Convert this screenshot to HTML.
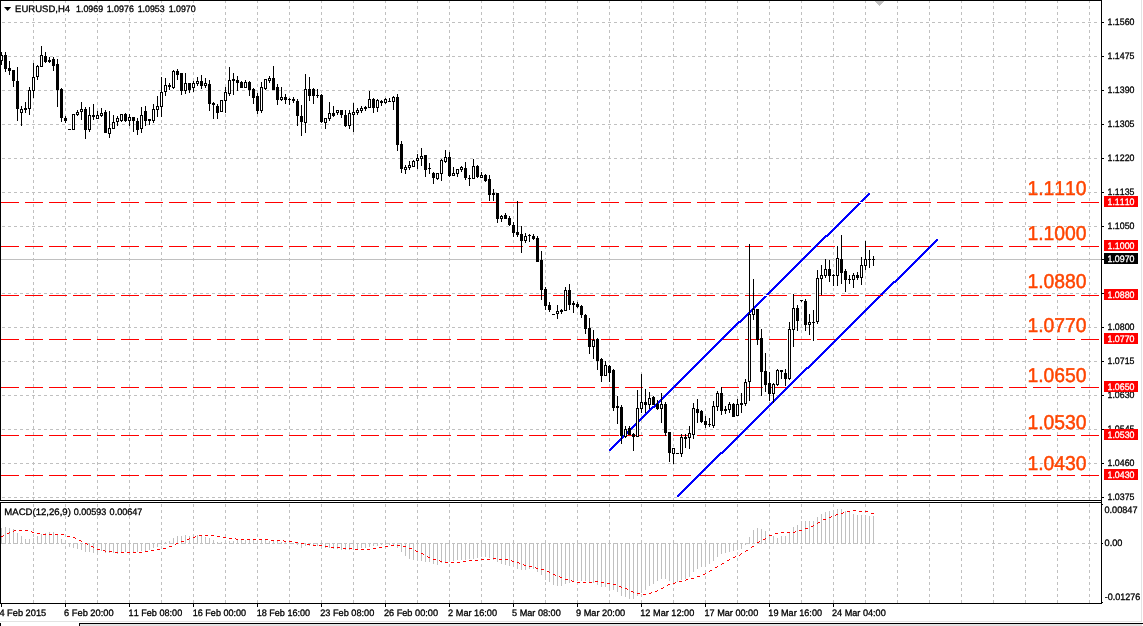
<!DOCTYPE html>
<html lang="en">
<head>
<meta charset="utf-8">
<title>EURUSD,H4</title>
<style>
html,body{margin:0;padding:0;background:#fff;}
body{width:1143px;height:626px;overflow:hidden;}
svg{display:block;}
text{font-family:'Liberation Sans', sans-serif;font-kerning:none;white-space:pre;text-rendering:geometricPrecision;font-size:9.3px;}
.k{fill:#000;stroke:#000;stroke-width:0.3px;}
.w{fill:#fff;stroke:#fff;stroke-width:0.3px;}
.o{fill:#ff4500;stroke:#ff4500;stroke-width:0.45px;font-size:20px;}
</style>
</head>
<body>
<svg width="1143" height="626" viewBox="0 0 1143 626">
<rect width="1143" height="626" fill="#fff"/>
<g shape-rendering="crispEdges">
<path fill="#c0c0c0" d="M2 22h3v1h-3zM2 56h3v1h-3zM2 90h3v1h-3zM2 124h3v1h-3zM2 158h3v1h-3zM2 192h3v1h-3zM2 226h3v1h-3zM2 259h3v1h-3zM2 293h3v1h-3zM2 327h3v1h-3zM2 361h3v1h-3zM2 395h3v1h-3zM2 429h3v1h-3zM2 463h3v1h-3zM2 497h3v1h-3zM2 543h3v1h-3zM8 22h3v1h-3zM8 56h3v1h-3zM8 90h3v1h-3zM8 124h3v1h-3zM8 158h3v1h-3zM8 192h3v1h-3zM8 226h3v1h-3zM8 259h3v1h-3zM8 293h3v1h-3zM8 327h3v1h-3zM8 361h3v1h-3zM8 395h3v1h-3zM8 429h3v1h-3zM8 463h3v1h-3zM8 497h3v1h-3zM8 543h3v1h-3zM14 22h3v1h-3zM14 56h3v1h-3zM14 90h3v1h-3zM14 124h3v1h-3zM14 158h3v1h-3zM14 192h3v1h-3zM14 226h3v1h-3zM14 259h3v1h-3zM14 293h3v1h-3zM14 327h3v1h-3zM14 361h3v1h-3zM14 395h3v1h-3zM14 429h3v1h-3zM14 463h3v1h-3zM14 497h3v1h-3zM14 543h3v1h-3zM20 22h3v1h-3zM20 56h3v1h-3zM20 90h3v1h-3zM20 124h3v1h-3zM20 158h3v1h-3zM20 192h3v1h-3zM20 226h3v1h-3zM20 259h3v1h-3zM20 293h3v1h-3zM20 327h3v1h-3zM20 361h3v1h-3zM20 395h3v1h-3zM20 429h3v1h-3zM20 463h3v1h-3zM20 497h3v1h-3zM20 543h3v1h-3zM26 22h3v1h-3zM26 56h3v1h-3zM26 90h3v1h-3zM26 124h3v1h-3zM26 158h3v1h-3zM26 192h3v1h-3zM26 226h3v1h-3zM26 259h3v1h-3zM26 293h3v1h-3zM26 327h3v1h-3zM26 361h3v1h-3zM26 395h3v1h-3zM26 429h3v1h-3zM26 463h3v1h-3zM26 497h3v1h-3zM26 543h3v1h-3zM32 22h3v1h-3zM32 56h3v1h-3zM32 90h3v1h-3zM32 124h3v1h-3zM32 158h3v1h-3zM32 192h3v1h-3zM32 226h3v1h-3zM32 259h3v1h-3zM32 293h3v1h-3zM32 327h3v1h-3zM32 361h3v1h-3zM32 395h3v1h-3zM32 429h3v1h-3zM32 463h3v1h-3zM32 497h3v1h-3zM32 543h3v1h-3zM33 1h1v2h-1zM33 6h1v3h-1zM33 12h1v3h-1zM33 18h1v3h-1zM33 24h1v3h-1zM33 30h1v3h-1zM33 36h1v3h-1zM33 42h1v3h-1zM33 48h1v3h-1zM33 54h1v3h-1zM33 60h1v3h-1zM33 66h1v3h-1zM33 72h1v3h-1zM33 78h1v3h-1zM33 84h1v3h-1zM33 90h1v3h-1zM33 96h1v3h-1zM33 102h1v3h-1zM33 108h1v3h-1zM33 114h1v3h-1zM33 120h1v3h-1zM33 126h1v3h-1zM33 132h1v3h-1zM33 138h1v3h-1zM33 144h1v3h-1zM33 150h1v3h-1zM33 156h1v3h-1zM33 162h1v3h-1zM33 168h1v3h-1zM33 174h1v3h-1zM33 180h1v3h-1zM33 186h1v3h-1zM33 192h1v3h-1zM33 198h1v3h-1zM33 204h1v3h-1zM33 210h1v3h-1zM33 216h1v3h-1zM33 222h1v3h-1zM33 228h1v3h-1zM33 234h1v3h-1zM33 240h1v3h-1zM33 246h1v3h-1zM33 252h1v3h-1zM33 258h1v3h-1zM33 264h1v3h-1zM33 270h1v3h-1zM33 276h1v3h-1zM33 282h1v3h-1zM33 288h1v3h-1zM33 294h1v3h-1zM33 300h1v3h-1zM33 306h1v3h-1zM33 312h1v3h-1zM33 318h1v3h-1zM33 324h1v3h-1zM33 330h1v3h-1zM33 336h1v3h-1zM33 342h1v3h-1zM33 348h1v3h-1zM33 354h1v3h-1zM33 360h1v3h-1zM33 366h1v3h-1zM33 372h1v3h-1zM33 378h1v3h-1zM33 384h1v3h-1zM33 390h1v3h-1zM33 396h1v3h-1zM33 402h1v3h-1zM33 408h1v3h-1zM33 414h1v3h-1zM33 420h1v3h-1zM33 426h1v3h-1zM33 432h1v3h-1zM33 438h1v3h-1zM33 444h1v3h-1zM33 450h1v3h-1zM33 456h1v3h-1zM33 462h1v3h-1zM33 468h1v3h-1zM33 474h1v3h-1zM33 480h1v3h-1zM33 486h1v3h-1zM33 492h1v3h-1zM33 498h1v2h-1zM33 504h1v3h-1zM33 510h1v3h-1zM33 516h1v3h-1zM33 522h1v3h-1zM33 528h1v3h-1zM33 534h1v3h-1zM33 540h1v3h-1zM33 546h1v3h-1zM33 552h1v3h-1zM33 558h1v3h-1zM33 564h1v3h-1zM33 570h1v3h-1zM33 576h1v3h-1zM33 582h1v3h-1zM33 588h1v3h-1zM33 594h1v3h-1zM33 600h1v3h-1zM38 22h3v1h-3zM38 56h3v1h-3zM38 90h3v1h-3zM38 124h3v1h-3zM38 158h3v1h-3zM38 192h3v1h-3zM38 226h3v1h-3zM38 259h3v1h-3zM38 293h3v1h-3zM38 327h3v1h-3zM38 361h3v1h-3zM38 395h3v1h-3zM38 429h3v1h-3zM38 463h3v1h-3zM38 497h3v1h-3zM38 543h3v1h-3zM44 22h3v1h-3zM44 56h3v1h-3zM44 90h3v1h-3zM44 124h3v1h-3zM44 158h3v1h-3zM44 192h3v1h-3zM44 226h3v1h-3zM44 259h3v1h-3zM44 293h3v1h-3zM44 327h3v1h-3zM44 361h3v1h-3zM44 395h3v1h-3zM44 429h3v1h-3zM44 463h3v1h-3zM44 497h3v1h-3zM44 543h3v1h-3zM50 22h3v1h-3zM50 56h3v1h-3zM50 90h3v1h-3zM50 124h3v1h-3zM50 158h3v1h-3zM50 192h3v1h-3zM50 226h3v1h-3zM50 259h3v1h-3zM50 293h3v1h-3zM50 327h3v1h-3zM50 361h3v1h-3zM50 395h3v1h-3zM50 429h3v1h-3zM50 463h3v1h-3zM50 497h3v1h-3zM50 543h3v1h-3zM56 22h3v1h-3zM56 56h3v1h-3zM56 90h3v1h-3zM56 124h3v1h-3zM56 158h3v1h-3zM56 192h3v1h-3zM56 226h3v1h-3zM56 259h3v1h-3zM56 293h3v1h-3zM56 327h3v1h-3zM56 361h3v1h-3zM56 395h3v1h-3zM56 429h3v1h-3zM56 463h3v1h-3zM56 497h3v1h-3zM56 543h3v1h-3zM62 22h3v1h-3zM62 56h3v1h-3zM62 90h3v1h-3zM62 124h3v1h-3zM62 158h3v1h-3zM62 192h3v1h-3zM62 226h3v1h-3zM62 259h3v1h-3zM62 293h3v1h-3zM62 327h3v1h-3zM62 361h3v1h-3zM62 395h3v1h-3zM62 429h3v1h-3zM62 463h3v1h-3zM62 497h3v1h-3zM62 543h3v1h-3zM65 1h1v2h-1zM65 6h1v3h-1zM65 12h1v3h-1zM65 18h1v3h-1zM65 24h1v3h-1zM65 30h1v3h-1zM65 36h1v3h-1zM65 42h1v3h-1zM65 48h1v3h-1zM65 54h1v3h-1zM65 60h1v3h-1zM65 66h1v3h-1zM65 72h1v3h-1zM65 78h1v3h-1zM65 84h1v3h-1zM65 90h1v3h-1zM65 96h1v3h-1zM65 102h1v3h-1zM65 108h1v3h-1zM65 114h1v3h-1zM65 120h1v3h-1zM65 126h1v3h-1zM65 132h1v3h-1zM65 138h1v3h-1zM65 144h1v3h-1zM65 150h1v3h-1zM65 156h1v3h-1zM65 162h1v3h-1zM65 168h1v3h-1zM65 174h1v3h-1zM65 180h1v3h-1zM65 186h1v3h-1zM65 192h1v3h-1zM65 198h1v3h-1zM65 204h1v3h-1zM65 210h1v3h-1zM65 216h1v3h-1zM65 222h1v3h-1zM65 228h1v3h-1zM65 234h1v3h-1zM65 240h1v3h-1zM65 246h1v3h-1zM65 252h1v3h-1zM65 258h1v3h-1zM65 264h1v3h-1zM65 270h1v3h-1zM65 276h1v3h-1zM65 282h1v3h-1zM65 288h1v3h-1zM65 294h1v3h-1zM65 300h1v3h-1zM65 306h1v3h-1zM65 312h1v3h-1zM65 318h1v3h-1zM65 324h1v3h-1zM65 330h1v3h-1zM65 336h1v3h-1zM65 342h1v3h-1zM65 348h1v3h-1zM65 354h1v3h-1zM65 360h1v3h-1zM65 366h1v3h-1zM65 372h1v3h-1zM65 378h1v3h-1zM65 384h1v3h-1zM65 390h1v3h-1zM65 396h1v3h-1zM65 402h1v3h-1zM65 408h1v3h-1zM65 414h1v3h-1zM65 420h1v3h-1zM65 426h1v3h-1zM65 432h1v3h-1zM65 438h1v3h-1zM65 444h1v3h-1zM65 450h1v3h-1zM65 456h1v3h-1zM65 462h1v3h-1zM65 468h1v3h-1zM65 474h1v3h-1zM65 480h1v3h-1zM65 486h1v3h-1zM65 492h1v3h-1zM65 498h1v2h-1zM65 504h1v3h-1zM65 510h1v3h-1zM65 516h1v3h-1zM65 522h1v3h-1zM65 528h1v3h-1zM65 534h1v3h-1zM65 540h1v3h-1zM65 546h1v3h-1zM65 552h1v3h-1zM65 558h1v3h-1zM65 564h1v3h-1zM65 570h1v3h-1zM65 576h1v3h-1zM65 582h1v3h-1zM65 588h1v3h-1zM65 594h1v3h-1zM65 600h1v3h-1zM68 22h3v1h-3zM68 56h3v1h-3zM68 90h3v1h-3zM68 124h3v1h-3zM68 158h3v1h-3zM68 192h3v1h-3zM68 226h3v1h-3zM68 259h3v1h-3zM68 293h3v1h-3zM68 327h3v1h-3zM68 361h3v1h-3zM68 395h3v1h-3zM68 429h3v1h-3zM68 463h3v1h-3zM68 497h3v1h-3zM68 543h3v1h-3zM74 22h3v1h-3zM74 56h3v1h-3zM74 90h3v1h-3zM74 124h3v1h-3zM74 158h3v1h-3zM74 192h3v1h-3zM74 226h3v1h-3zM74 259h3v1h-3zM74 293h3v1h-3zM74 327h3v1h-3zM74 361h3v1h-3zM74 395h3v1h-3zM74 429h3v1h-3zM74 463h3v1h-3zM74 497h3v1h-3zM74 543h3v1h-3zM80 22h3v1h-3zM80 56h3v1h-3zM80 90h3v1h-3zM80 124h3v1h-3zM80 158h3v1h-3zM80 192h3v1h-3zM80 226h3v1h-3zM80 259h3v1h-3zM80 293h3v1h-3zM80 327h3v1h-3zM80 361h3v1h-3zM80 395h3v1h-3zM80 429h3v1h-3zM80 463h3v1h-3zM80 497h3v1h-3zM80 543h3v1h-3zM86 22h3v1h-3zM86 56h3v1h-3zM86 90h3v1h-3zM86 124h3v1h-3zM86 158h3v1h-3zM86 192h3v1h-3zM86 226h3v1h-3zM86 259h3v1h-3zM86 293h3v1h-3zM86 327h3v1h-3zM86 361h3v1h-3zM86 395h3v1h-3zM86 429h3v1h-3zM86 463h3v1h-3zM86 497h3v1h-3zM86 543h3v1h-3zM92 22h3v1h-3zM92 56h3v1h-3zM92 90h3v1h-3zM92 124h3v1h-3zM92 158h3v1h-3zM92 192h3v1h-3zM92 226h3v1h-3zM92 259h3v1h-3zM92 293h3v1h-3zM92 327h3v1h-3zM92 361h3v1h-3zM92 395h3v1h-3zM92 429h3v1h-3zM92 463h3v1h-3zM92 497h3v1h-3zM92 543h3v1h-3zM97 1h1v2h-1zM97 6h1v3h-1zM97 12h1v3h-1zM97 18h1v3h-1zM97 24h1v3h-1zM97 30h1v3h-1zM97 36h1v3h-1zM97 42h1v3h-1zM97 48h1v3h-1zM97 54h1v3h-1zM97 60h1v3h-1zM97 66h1v3h-1zM97 72h1v3h-1zM97 78h1v3h-1zM97 84h1v3h-1zM97 90h1v3h-1zM97 96h1v3h-1zM97 102h1v3h-1zM97 108h1v3h-1zM97 114h1v3h-1zM97 120h1v3h-1zM97 126h1v3h-1zM97 132h1v3h-1zM97 138h1v3h-1zM97 144h1v3h-1zM97 150h1v3h-1zM97 156h1v3h-1zM97 162h1v3h-1zM97 168h1v3h-1zM97 174h1v3h-1zM97 180h1v3h-1zM97 186h1v3h-1zM97 192h1v3h-1zM97 198h1v3h-1zM97 204h1v3h-1zM97 210h1v3h-1zM97 216h1v3h-1zM97 222h1v3h-1zM97 228h1v3h-1zM97 234h1v3h-1zM97 240h1v3h-1zM97 246h1v3h-1zM97 252h1v3h-1zM97 258h1v3h-1zM97 264h1v3h-1zM97 270h1v3h-1zM97 276h1v3h-1zM97 282h1v3h-1zM97 288h1v3h-1zM97 294h1v3h-1zM97 300h1v3h-1zM97 306h1v3h-1zM97 312h1v3h-1zM97 318h1v3h-1zM97 324h1v3h-1zM97 330h1v3h-1zM97 336h1v3h-1zM97 342h1v3h-1zM97 348h1v3h-1zM97 354h1v3h-1zM97 360h1v3h-1zM97 366h1v3h-1zM97 372h1v3h-1zM97 378h1v3h-1zM97 384h1v3h-1zM97 390h1v3h-1zM97 396h1v3h-1zM97 402h1v3h-1zM97 408h1v3h-1zM97 414h1v3h-1zM97 420h1v3h-1zM97 426h1v3h-1zM97 432h1v3h-1zM97 438h1v3h-1zM97 444h1v3h-1zM97 450h1v3h-1zM97 456h1v3h-1zM97 462h1v3h-1zM97 468h1v3h-1zM97 474h1v3h-1zM97 480h1v3h-1zM97 486h1v3h-1zM97 492h1v3h-1zM97 498h1v2h-1zM97 504h1v3h-1zM97 510h1v3h-1zM97 516h1v3h-1zM97 522h1v3h-1zM97 528h1v3h-1zM97 534h1v3h-1zM97 540h1v3h-1zM97 546h1v3h-1zM97 552h1v3h-1zM97 558h1v3h-1zM97 564h1v3h-1zM97 570h1v3h-1zM97 576h1v3h-1zM97 582h1v3h-1zM97 588h1v3h-1zM97 594h1v3h-1zM97 600h1v3h-1zM98 22h3v1h-3zM98 56h3v1h-3zM98 90h3v1h-3zM98 124h3v1h-3zM98 158h3v1h-3zM98 192h3v1h-3zM98 226h3v1h-3zM98 259h3v1h-3zM98 293h3v1h-3zM98 327h3v1h-3zM98 361h3v1h-3zM98 395h3v1h-3zM98 429h3v1h-3zM98 463h3v1h-3zM98 497h3v1h-3zM98 543h3v1h-3zM104 22h3v1h-3zM104 56h3v1h-3zM104 90h3v1h-3zM104 124h3v1h-3zM104 158h3v1h-3zM104 192h3v1h-3zM104 226h3v1h-3zM104 259h3v1h-3zM104 293h3v1h-3zM104 327h3v1h-3zM104 361h3v1h-3zM104 395h3v1h-3zM104 429h3v1h-3zM104 463h3v1h-3zM104 497h3v1h-3zM104 543h3v1h-3zM110 22h3v1h-3zM110 56h3v1h-3zM110 90h3v1h-3zM110 124h3v1h-3zM110 158h3v1h-3zM110 192h3v1h-3zM110 226h3v1h-3zM110 259h3v1h-3zM110 293h3v1h-3zM110 327h3v1h-3zM110 361h3v1h-3zM110 395h3v1h-3zM110 429h3v1h-3zM110 463h3v1h-3zM110 497h3v1h-3zM110 543h3v1h-3zM116 22h3v1h-3zM116 56h3v1h-3zM116 90h3v1h-3zM116 124h3v1h-3zM116 158h3v1h-3zM116 192h3v1h-3zM116 226h3v1h-3zM116 259h3v1h-3zM116 293h3v1h-3zM116 327h3v1h-3zM116 361h3v1h-3zM116 395h3v1h-3zM116 429h3v1h-3zM116 463h3v1h-3zM116 497h3v1h-3zM116 543h3v1h-3zM122 22h3v1h-3zM122 56h3v1h-3zM122 90h3v1h-3zM122 124h3v1h-3zM122 158h3v1h-3zM122 192h3v1h-3zM122 226h3v1h-3zM122 259h3v1h-3zM122 293h3v1h-3zM122 327h3v1h-3zM122 361h3v1h-3zM122 395h3v1h-3zM122 429h3v1h-3zM122 463h3v1h-3zM122 497h3v1h-3zM122 543h3v1h-3zM128 22h3v1h-3zM128 56h3v1h-3zM128 90h3v1h-3zM128 124h3v1h-3zM128 158h3v1h-3zM128 192h3v1h-3zM128 226h3v1h-3zM128 259h3v1h-3zM128 293h3v1h-3zM128 327h3v1h-3zM128 361h3v1h-3zM128 395h3v1h-3zM128 429h3v1h-3zM128 463h3v1h-3zM128 497h3v1h-3zM128 543h3v1h-3zM129 1h1v2h-1zM129 6h1v3h-1zM129 12h1v3h-1zM129 18h1v3h-1zM129 24h1v3h-1zM129 30h1v3h-1zM129 36h1v3h-1zM129 42h1v3h-1zM129 48h1v3h-1zM129 54h1v3h-1zM129 60h1v3h-1zM129 66h1v3h-1zM129 72h1v3h-1zM129 78h1v3h-1zM129 84h1v3h-1zM129 90h1v3h-1zM129 96h1v3h-1zM129 102h1v3h-1zM129 108h1v3h-1zM129 114h1v3h-1zM129 120h1v3h-1zM129 126h1v3h-1zM129 132h1v3h-1zM129 138h1v3h-1zM129 144h1v3h-1zM129 150h1v3h-1zM129 156h1v3h-1zM129 162h1v3h-1zM129 168h1v3h-1zM129 174h1v3h-1zM129 180h1v3h-1zM129 186h1v3h-1zM129 192h1v3h-1zM129 198h1v3h-1zM129 204h1v3h-1zM129 210h1v3h-1zM129 216h1v3h-1zM129 222h1v3h-1zM129 228h1v3h-1zM129 234h1v3h-1zM129 240h1v3h-1zM129 246h1v3h-1zM129 252h1v3h-1zM129 258h1v3h-1zM129 264h1v3h-1zM129 270h1v3h-1zM129 276h1v3h-1zM129 282h1v3h-1zM129 288h1v3h-1zM129 294h1v3h-1zM129 300h1v3h-1zM129 306h1v3h-1zM129 312h1v3h-1zM129 318h1v3h-1zM129 324h1v3h-1zM129 330h1v3h-1zM129 336h1v3h-1zM129 342h1v3h-1zM129 348h1v3h-1zM129 354h1v3h-1zM129 360h1v3h-1zM129 366h1v3h-1zM129 372h1v3h-1zM129 378h1v3h-1zM129 384h1v3h-1zM129 390h1v3h-1zM129 396h1v3h-1zM129 402h1v3h-1zM129 408h1v3h-1zM129 414h1v3h-1zM129 420h1v3h-1zM129 426h1v3h-1zM129 432h1v3h-1zM129 438h1v3h-1zM129 444h1v3h-1zM129 450h1v3h-1zM129 456h1v3h-1zM129 462h1v3h-1zM129 468h1v3h-1zM129 474h1v3h-1zM129 480h1v3h-1zM129 486h1v3h-1zM129 492h1v3h-1zM129 498h1v2h-1zM129 504h1v3h-1zM129 510h1v3h-1zM129 516h1v3h-1zM129 522h1v3h-1zM129 528h1v3h-1zM129 534h1v3h-1zM129 540h1v3h-1zM129 546h1v3h-1zM129 552h1v3h-1zM129 558h1v3h-1zM129 564h1v3h-1zM129 570h1v3h-1zM129 576h1v3h-1zM129 582h1v3h-1zM129 588h1v3h-1zM129 594h1v3h-1zM129 600h1v3h-1zM134 22h3v1h-3zM134 56h3v1h-3zM134 90h3v1h-3zM134 124h3v1h-3zM134 158h3v1h-3zM134 192h3v1h-3zM134 226h3v1h-3zM134 259h3v1h-3zM134 293h3v1h-3zM134 327h3v1h-3zM134 361h3v1h-3zM134 395h3v1h-3zM134 429h3v1h-3zM134 463h3v1h-3zM134 497h3v1h-3zM134 543h3v1h-3zM140 22h3v1h-3zM140 56h3v1h-3zM140 90h3v1h-3zM140 124h3v1h-3zM140 158h3v1h-3zM140 192h3v1h-3zM140 226h3v1h-3zM140 259h3v1h-3zM140 293h3v1h-3zM140 327h3v1h-3zM140 361h3v1h-3zM140 395h3v1h-3zM140 429h3v1h-3zM140 463h3v1h-3zM140 497h3v1h-3zM140 543h3v1h-3zM146 22h3v1h-3zM146 56h3v1h-3zM146 90h3v1h-3zM146 124h3v1h-3zM146 158h3v1h-3zM146 192h3v1h-3zM146 226h3v1h-3zM146 259h3v1h-3zM146 293h3v1h-3zM146 327h3v1h-3zM146 361h3v1h-3zM146 395h3v1h-3zM146 429h3v1h-3zM146 463h3v1h-3zM146 497h3v1h-3zM146 543h3v1h-3zM152 22h3v1h-3zM152 56h3v1h-3zM152 90h3v1h-3zM152 124h3v1h-3zM152 158h3v1h-3zM152 192h3v1h-3zM152 226h3v1h-3zM152 259h3v1h-3zM152 293h3v1h-3zM152 327h3v1h-3zM152 361h3v1h-3zM152 395h3v1h-3zM152 429h3v1h-3zM152 463h3v1h-3zM152 497h3v1h-3zM152 543h3v1h-3zM158 22h3v1h-3zM158 56h3v1h-3zM158 90h3v1h-3zM158 124h3v1h-3zM158 158h3v1h-3zM158 192h3v1h-3zM158 226h3v1h-3zM158 259h3v1h-3zM158 293h3v1h-3zM158 327h3v1h-3zM158 361h3v1h-3zM158 395h3v1h-3zM158 429h3v1h-3zM158 463h3v1h-3zM158 497h3v1h-3zM158 543h3v1h-3zM161 1h1v2h-1zM161 6h1v3h-1zM161 12h1v3h-1zM161 18h1v3h-1zM161 24h1v3h-1zM161 30h1v3h-1zM161 36h1v3h-1zM161 42h1v3h-1zM161 48h1v3h-1zM161 54h1v3h-1zM161 60h1v3h-1zM161 66h1v3h-1zM161 72h1v3h-1zM161 78h1v3h-1zM161 84h1v3h-1zM161 90h1v3h-1zM161 96h1v3h-1zM161 102h1v3h-1zM161 108h1v3h-1zM161 114h1v3h-1zM161 120h1v3h-1zM161 126h1v3h-1zM161 132h1v3h-1zM161 138h1v3h-1zM161 144h1v3h-1zM161 150h1v3h-1zM161 156h1v3h-1zM161 162h1v3h-1zM161 168h1v3h-1zM161 174h1v3h-1zM161 180h1v3h-1zM161 186h1v3h-1zM161 192h1v3h-1zM161 198h1v3h-1zM161 204h1v3h-1zM161 210h1v3h-1zM161 216h1v3h-1zM161 222h1v3h-1zM161 228h1v3h-1zM161 234h1v3h-1zM161 240h1v3h-1zM161 246h1v3h-1zM161 252h1v3h-1zM161 258h1v3h-1zM161 264h1v3h-1zM161 270h1v3h-1zM161 276h1v3h-1zM161 282h1v3h-1zM161 288h1v3h-1zM161 294h1v3h-1zM161 300h1v3h-1zM161 306h1v3h-1zM161 312h1v3h-1zM161 318h1v3h-1zM161 324h1v3h-1zM161 330h1v3h-1zM161 336h1v3h-1zM161 342h1v3h-1zM161 348h1v3h-1zM161 354h1v3h-1zM161 360h1v3h-1zM161 366h1v3h-1zM161 372h1v3h-1zM161 378h1v3h-1zM161 384h1v3h-1zM161 390h1v3h-1zM161 396h1v3h-1zM161 402h1v3h-1zM161 408h1v3h-1zM161 414h1v3h-1zM161 420h1v3h-1zM161 426h1v3h-1zM161 432h1v3h-1zM161 438h1v3h-1zM161 444h1v3h-1zM161 450h1v3h-1zM161 456h1v3h-1zM161 462h1v3h-1zM161 468h1v3h-1zM161 474h1v3h-1zM161 480h1v3h-1zM161 486h1v3h-1zM161 492h1v3h-1zM161 498h1v2h-1zM161 504h1v3h-1zM161 510h1v3h-1zM161 516h1v3h-1zM161 522h1v3h-1zM161 528h1v3h-1zM161 534h1v3h-1zM161 540h1v3h-1zM161 546h1v3h-1zM161 552h1v3h-1zM161 558h1v3h-1zM161 564h1v3h-1zM161 570h1v3h-1zM161 576h1v3h-1zM161 582h1v3h-1zM161 588h1v3h-1zM161 594h1v3h-1zM161 600h1v3h-1zM164 22h3v1h-3zM164 56h3v1h-3zM164 90h3v1h-3zM164 124h3v1h-3zM164 158h3v1h-3zM164 192h3v1h-3zM164 226h3v1h-3zM164 259h3v1h-3zM164 293h3v1h-3zM164 327h3v1h-3zM164 361h3v1h-3zM164 395h3v1h-3zM164 429h3v1h-3zM164 463h3v1h-3zM164 497h3v1h-3zM164 543h3v1h-3zM170 22h3v1h-3zM170 56h3v1h-3zM170 90h3v1h-3zM170 124h3v1h-3zM170 158h3v1h-3zM170 192h3v1h-3zM170 226h3v1h-3zM170 259h3v1h-3zM170 293h3v1h-3zM170 327h3v1h-3zM170 361h3v1h-3zM170 395h3v1h-3zM170 429h3v1h-3zM170 463h3v1h-3zM170 497h3v1h-3zM170 543h3v1h-3zM176 22h3v1h-3zM176 56h3v1h-3zM176 90h3v1h-3zM176 124h3v1h-3zM176 158h3v1h-3zM176 192h3v1h-3zM176 226h3v1h-3zM176 259h3v1h-3zM176 293h3v1h-3zM176 327h3v1h-3zM176 361h3v1h-3zM176 395h3v1h-3zM176 429h3v1h-3zM176 463h3v1h-3zM176 497h3v1h-3zM176 543h3v1h-3zM182 22h3v1h-3zM182 56h3v1h-3zM182 90h3v1h-3zM182 124h3v1h-3zM182 158h3v1h-3zM182 192h3v1h-3zM182 226h3v1h-3zM182 259h3v1h-3zM182 293h3v1h-3zM182 327h3v1h-3zM182 361h3v1h-3zM182 395h3v1h-3zM182 429h3v1h-3zM182 463h3v1h-3zM182 497h3v1h-3zM182 543h3v1h-3zM188 22h3v1h-3zM188 56h3v1h-3zM188 90h3v1h-3zM188 124h3v1h-3zM188 158h3v1h-3zM188 192h3v1h-3zM188 226h3v1h-3zM188 259h3v1h-3zM188 293h3v1h-3zM188 327h3v1h-3zM188 361h3v1h-3zM188 395h3v1h-3zM188 429h3v1h-3zM188 463h3v1h-3zM188 497h3v1h-3zM188 543h3v1h-3zM193 1h1v2h-1zM193 6h1v3h-1zM193 12h1v3h-1zM193 18h1v3h-1zM193 24h1v3h-1zM193 30h1v3h-1zM193 36h1v3h-1zM193 42h1v3h-1zM193 48h1v3h-1zM193 54h1v3h-1zM193 60h1v3h-1zM193 66h1v3h-1zM193 72h1v3h-1zM193 78h1v3h-1zM193 84h1v3h-1zM193 90h1v3h-1zM193 96h1v3h-1zM193 102h1v3h-1zM193 108h1v3h-1zM193 114h1v3h-1zM193 120h1v3h-1zM193 126h1v3h-1zM193 132h1v3h-1zM193 138h1v3h-1zM193 144h1v3h-1zM193 150h1v3h-1zM193 156h1v3h-1zM193 162h1v3h-1zM193 168h1v3h-1zM193 174h1v3h-1zM193 180h1v3h-1zM193 186h1v3h-1zM193 192h1v3h-1zM193 198h1v3h-1zM193 204h1v3h-1zM193 210h1v3h-1zM193 216h1v3h-1zM193 222h1v3h-1zM193 228h1v3h-1zM193 234h1v3h-1zM193 240h1v3h-1zM193 246h1v3h-1zM193 252h1v3h-1zM193 258h1v3h-1zM193 264h1v3h-1zM193 270h1v3h-1zM193 276h1v3h-1zM193 282h1v3h-1zM193 288h1v3h-1zM193 294h1v3h-1zM193 300h1v3h-1zM193 306h1v3h-1zM193 312h1v3h-1zM193 318h1v3h-1zM193 324h1v3h-1zM193 330h1v3h-1zM193 336h1v3h-1zM193 342h1v3h-1zM193 348h1v3h-1zM193 354h1v3h-1zM193 360h1v3h-1zM193 366h1v3h-1zM193 372h1v3h-1zM193 378h1v3h-1zM193 384h1v3h-1zM193 390h1v3h-1zM193 396h1v3h-1zM193 402h1v3h-1zM193 408h1v3h-1zM193 414h1v3h-1zM193 420h1v3h-1zM193 426h1v3h-1zM193 432h1v3h-1zM193 438h1v3h-1zM193 444h1v3h-1zM193 450h1v3h-1zM193 456h1v3h-1zM193 462h1v3h-1zM193 468h1v3h-1zM193 474h1v3h-1zM193 480h1v3h-1zM193 486h1v3h-1zM193 492h1v3h-1zM193 498h1v2h-1zM193 504h1v3h-1zM193 510h1v3h-1zM193 516h1v3h-1zM193 522h1v3h-1zM193 528h1v3h-1zM193 534h1v3h-1zM193 540h1v3h-1zM193 546h1v3h-1zM193 552h1v3h-1zM193 558h1v3h-1zM193 564h1v3h-1zM193 570h1v3h-1zM193 576h1v3h-1zM193 582h1v3h-1zM193 588h1v3h-1zM193 594h1v3h-1zM193 600h1v3h-1zM194 22h3v1h-3zM194 56h3v1h-3zM194 90h3v1h-3zM194 124h3v1h-3zM194 158h3v1h-3zM194 192h3v1h-3zM194 226h3v1h-3zM194 259h3v1h-3zM194 293h3v1h-3zM194 327h3v1h-3zM194 361h3v1h-3zM194 395h3v1h-3zM194 429h3v1h-3zM194 463h3v1h-3zM194 497h3v1h-3zM194 543h3v1h-3zM200 22h3v1h-3zM200 56h3v1h-3zM200 90h3v1h-3zM200 124h3v1h-3zM200 158h3v1h-3zM200 192h3v1h-3zM200 226h3v1h-3zM200 259h3v1h-3zM200 293h3v1h-3zM200 327h3v1h-3zM200 361h3v1h-3zM200 395h3v1h-3zM200 429h3v1h-3zM200 463h3v1h-3zM200 497h3v1h-3zM200 543h3v1h-3zM206 22h3v1h-3zM206 56h3v1h-3zM206 90h3v1h-3zM206 124h3v1h-3zM206 158h3v1h-3zM206 192h3v1h-3zM206 226h3v1h-3zM206 259h3v1h-3zM206 293h3v1h-3zM206 327h3v1h-3zM206 361h3v1h-3zM206 395h3v1h-3zM206 429h3v1h-3zM206 463h3v1h-3zM206 497h3v1h-3zM206 543h3v1h-3zM212 22h3v1h-3zM212 56h3v1h-3zM212 90h3v1h-3zM212 124h3v1h-3zM212 158h3v1h-3zM212 192h3v1h-3zM212 226h3v1h-3zM212 259h3v1h-3zM212 293h3v1h-3zM212 327h3v1h-3zM212 361h3v1h-3zM212 395h3v1h-3zM212 429h3v1h-3zM212 463h3v1h-3zM212 497h3v1h-3zM212 543h3v1h-3zM218 22h3v1h-3zM218 56h3v1h-3zM218 90h3v1h-3zM218 124h3v1h-3zM218 158h3v1h-3zM218 192h3v1h-3zM218 226h3v1h-3zM218 259h3v1h-3zM218 293h3v1h-3zM218 327h3v1h-3zM218 361h3v1h-3zM218 395h3v1h-3zM218 429h3v1h-3zM218 463h3v1h-3zM218 497h3v1h-3zM218 543h3v1h-3zM224 22h3v1h-3zM224 56h3v1h-3zM224 90h3v1h-3zM224 124h3v1h-3zM224 158h3v1h-3zM224 192h3v1h-3zM224 226h3v1h-3zM224 259h3v1h-3zM224 293h3v1h-3zM224 327h3v1h-3zM224 361h3v1h-3zM224 395h3v1h-3zM224 429h3v1h-3zM224 463h3v1h-3zM224 497h3v1h-3zM224 543h3v1h-3zM225 1h1v2h-1zM225 6h1v3h-1zM225 12h1v3h-1zM225 18h1v3h-1zM225 24h1v3h-1zM225 30h1v3h-1zM225 36h1v3h-1zM225 42h1v3h-1zM225 48h1v3h-1zM225 54h1v3h-1zM225 60h1v3h-1zM225 66h1v3h-1zM225 72h1v3h-1zM225 78h1v3h-1zM225 84h1v3h-1zM225 90h1v3h-1zM225 96h1v3h-1zM225 102h1v3h-1zM225 108h1v3h-1zM225 114h1v3h-1zM225 120h1v3h-1zM225 126h1v3h-1zM225 132h1v3h-1zM225 138h1v3h-1zM225 144h1v3h-1zM225 150h1v3h-1zM225 156h1v3h-1zM225 162h1v3h-1zM225 168h1v3h-1zM225 174h1v3h-1zM225 180h1v3h-1zM225 186h1v3h-1zM225 192h1v3h-1zM225 198h1v3h-1zM225 204h1v3h-1zM225 210h1v3h-1zM225 216h1v3h-1zM225 222h1v3h-1zM225 228h1v3h-1zM225 234h1v3h-1zM225 240h1v3h-1zM225 246h1v3h-1zM225 252h1v3h-1zM225 258h1v3h-1zM225 264h1v3h-1zM225 270h1v3h-1zM225 276h1v3h-1zM225 282h1v3h-1zM225 288h1v3h-1zM225 294h1v3h-1zM225 300h1v3h-1zM225 306h1v3h-1zM225 312h1v3h-1zM225 318h1v3h-1zM225 324h1v3h-1zM225 330h1v3h-1zM225 336h1v3h-1zM225 342h1v3h-1zM225 348h1v3h-1zM225 354h1v3h-1zM225 360h1v3h-1zM225 366h1v3h-1zM225 372h1v3h-1zM225 378h1v3h-1zM225 384h1v3h-1zM225 390h1v3h-1zM225 396h1v3h-1zM225 402h1v3h-1zM225 408h1v3h-1zM225 414h1v3h-1zM225 420h1v3h-1zM225 426h1v3h-1zM225 432h1v3h-1zM225 438h1v3h-1zM225 444h1v3h-1zM225 450h1v3h-1zM225 456h1v3h-1zM225 462h1v3h-1zM225 468h1v3h-1zM225 474h1v3h-1zM225 480h1v3h-1zM225 486h1v3h-1zM225 492h1v3h-1zM225 498h1v2h-1zM225 504h1v3h-1zM225 510h1v3h-1zM225 516h1v3h-1zM225 522h1v3h-1zM225 528h1v3h-1zM225 534h1v3h-1zM225 540h1v3h-1zM225 546h1v3h-1zM225 552h1v3h-1zM225 558h1v3h-1zM225 564h1v3h-1zM225 570h1v3h-1zM225 576h1v3h-1zM225 582h1v3h-1zM225 588h1v3h-1zM225 594h1v3h-1zM225 600h1v3h-1zM230 22h3v1h-3zM230 56h3v1h-3zM230 90h3v1h-3zM230 124h3v1h-3zM230 158h3v1h-3zM230 192h3v1h-3zM230 226h3v1h-3zM230 259h3v1h-3zM230 293h3v1h-3zM230 327h3v1h-3zM230 361h3v1h-3zM230 395h3v1h-3zM230 429h3v1h-3zM230 463h3v1h-3zM230 497h3v1h-3zM230 543h3v1h-3zM236 22h3v1h-3zM236 56h3v1h-3zM236 90h3v1h-3zM236 124h3v1h-3zM236 158h3v1h-3zM236 192h3v1h-3zM236 226h3v1h-3zM236 259h3v1h-3zM236 293h3v1h-3zM236 327h3v1h-3zM236 361h3v1h-3zM236 395h3v1h-3zM236 429h3v1h-3zM236 463h3v1h-3zM236 497h3v1h-3zM236 543h3v1h-3zM242 22h3v1h-3zM242 56h3v1h-3zM242 90h3v1h-3zM242 124h3v1h-3zM242 158h3v1h-3zM242 192h3v1h-3zM242 226h3v1h-3zM242 259h3v1h-3zM242 293h3v1h-3zM242 327h3v1h-3zM242 361h3v1h-3zM242 395h3v1h-3zM242 429h3v1h-3zM242 463h3v1h-3zM242 497h3v1h-3zM242 543h3v1h-3zM248 22h3v1h-3zM248 56h3v1h-3zM248 90h3v1h-3zM248 124h3v1h-3zM248 158h3v1h-3zM248 192h3v1h-3zM248 226h3v1h-3zM248 259h3v1h-3zM248 293h3v1h-3zM248 327h3v1h-3zM248 361h3v1h-3zM248 395h3v1h-3zM248 429h3v1h-3zM248 463h3v1h-3zM248 497h3v1h-3zM248 543h3v1h-3zM254 22h3v1h-3zM254 56h3v1h-3zM254 90h3v1h-3zM254 124h3v1h-3zM254 158h3v1h-3zM254 192h3v1h-3zM254 226h3v1h-3zM254 259h3v1h-3zM254 293h3v1h-3zM254 327h3v1h-3zM254 361h3v1h-3zM254 395h3v1h-3zM254 429h3v1h-3zM254 463h3v1h-3zM254 497h3v1h-3zM254 543h3v1h-3zM257 1h1v2h-1zM257 6h1v3h-1zM257 12h1v3h-1zM257 18h1v3h-1zM257 24h1v3h-1zM257 30h1v3h-1zM257 36h1v3h-1zM257 42h1v3h-1zM257 48h1v3h-1zM257 54h1v3h-1zM257 60h1v3h-1zM257 66h1v3h-1zM257 72h1v3h-1zM257 78h1v3h-1zM257 84h1v3h-1zM257 90h1v3h-1zM257 96h1v3h-1zM257 102h1v3h-1zM257 108h1v3h-1zM257 114h1v3h-1zM257 120h1v3h-1zM257 126h1v3h-1zM257 132h1v3h-1zM257 138h1v3h-1zM257 144h1v3h-1zM257 150h1v3h-1zM257 156h1v3h-1zM257 162h1v3h-1zM257 168h1v3h-1zM257 174h1v3h-1zM257 180h1v3h-1zM257 186h1v3h-1zM257 192h1v3h-1zM257 198h1v3h-1zM257 204h1v3h-1zM257 210h1v3h-1zM257 216h1v3h-1zM257 222h1v3h-1zM257 228h1v3h-1zM257 234h1v3h-1zM257 240h1v3h-1zM257 246h1v3h-1zM257 252h1v3h-1zM257 258h1v3h-1zM257 264h1v3h-1zM257 270h1v3h-1zM257 276h1v3h-1zM257 282h1v3h-1zM257 288h1v3h-1zM257 294h1v3h-1zM257 300h1v3h-1zM257 306h1v3h-1zM257 312h1v3h-1zM257 318h1v3h-1zM257 324h1v3h-1zM257 330h1v3h-1zM257 336h1v3h-1zM257 342h1v3h-1zM257 348h1v3h-1zM257 354h1v3h-1zM257 360h1v3h-1zM257 366h1v3h-1zM257 372h1v3h-1zM257 378h1v3h-1zM257 384h1v3h-1zM257 390h1v3h-1zM257 396h1v3h-1zM257 402h1v3h-1zM257 408h1v3h-1zM257 414h1v3h-1zM257 420h1v3h-1zM257 426h1v3h-1zM257 432h1v3h-1zM257 438h1v3h-1zM257 444h1v3h-1zM257 450h1v3h-1zM257 456h1v3h-1zM257 462h1v3h-1zM257 468h1v3h-1zM257 474h1v3h-1zM257 480h1v3h-1zM257 486h1v3h-1zM257 492h1v3h-1zM257 498h1v2h-1zM257 504h1v3h-1zM257 510h1v3h-1zM257 516h1v3h-1zM257 522h1v3h-1zM257 528h1v3h-1zM257 534h1v3h-1zM257 540h1v3h-1zM257 546h1v3h-1zM257 552h1v3h-1zM257 558h1v3h-1zM257 564h1v3h-1zM257 570h1v3h-1zM257 576h1v3h-1zM257 582h1v3h-1zM257 588h1v3h-1zM257 594h1v3h-1zM257 600h1v3h-1zM260 22h3v1h-3zM260 56h3v1h-3zM260 90h3v1h-3zM260 124h3v1h-3zM260 158h3v1h-3zM260 192h3v1h-3zM260 226h3v1h-3zM260 259h3v1h-3zM260 293h3v1h-3zM260 327h3v1h-3zM260 361h3v1h-3zM260 395h3v1h-3zM260 429h3v1h-3zM260 463h3v1h-3zM260 497h3v1h-3zM260 543h3v1h-3zM266 22h3v1h-3zM266 56h3v1h-3zM266 90h3v1h-3zM266 124h3v1h-3zM266 158h3v1h-3zM266 192h3v1h-3zM266 226h3v1h-3zM266 259h3v1h-3zM266 293h3v1h-3zM266 327h3v1h-3zM266 361h3v1h-3zM266 395h3v1h-3zM266 429h3v1h-3zM266 463h3v1h-3zM266 497h3v1h-3zM266 543h3v1h-3zM272 22h3v1h-3zM272 56h3v1h-3zM272 90h3v1h-3zM272 124h3v1h-3zM272 158h3v1h-3zM272 192h3v1h-3zM272 226h3v1h-3zM272 259h3v1h-3zM272 293h3v1h-3zM272 327h3v1h-3zM272 361h3v1h-3zM272 395h3v1h-3zM272 429h3v1h-3zM272 463h3v1h-3zM272 497h3v1h-3zM272 543h3v1h-3zM278 22h3v1h-3zM278 56h3v1h-3zM278 90h3v1h-3zM278 124h3v1h-3zM278 158h3v1h-3zM278 192h3v1h-3zM278 226h3v1h-3zM278 259h3v1h-3zM278 293h3v1h-3zM278 327h3v1h-3zM278 361h3v1h-3zM278 395h3v1h-3zM278 429h3v1h-3zM278 463h3v1h-3zM278 497h3v1h-3zM278 543h3v1h-3zM284 22h3v1h-3zM284 56h3v1h-3zM284 90h3v1h-3zM284 124h3v1h-3zM284 158h3v1h-3zM284 192h3v1h-3zM284 226h3v1h-3zM284 259h3v1h-3zM284 293h3v1h-3zM284 327h3v1h-3zM284 361h3v1h-3zM284 395h3v1h-3zM284 429h3v1h-3zM284 463h3v1h-3zM284 497h3v1h-3zM284 543h3v1h-3zM289 1h1v2h-1zM289 6h1v3h-1zM289 12h1v3h-1zM289 18h1v3h-1zM289 24h1v3h-1zM289 30h1v3h-1zM289 36h1v3h-1zM289 42h1v3h-1zM289 48h1v3h-1zM289 54h1v3h-1zM289 60h1v3h-1zM289 66h1v3h-1zM289 72h1v3h-1zM289 78h1v3h-1zM289 84h1v3h-1zM289 90h1v3h-1zM289 96h1v3h-1zM289 102h1v3h-1zM289 108h1v3h-1zM289 114h1v3h-1zM289 120h1v3h-1zM289 126h1v3h-1zM289 132h1v3h-1zM289 138h1v3h-1zM289 144h1v3h-1zM289 150h1v3h-1zM289 156h1v3h-1zM289 162h1v3h-1zM289 168h1v3h-1zM289 174h1v3h-1zM289 180h1v3h-1zM289 186h1v3h-1zM289 192h1v3h-1zM289 198h1v3h-1zM289 204h1v3h-1zM289 210h1v3h-1zM289 216h1v3h-1zM289 222h1v3h-1zM289 228h1v3h-1zM289 234h1v3h-1zM289 240h1v3h-1zM289 246h1v3h-1zM289 252h1v3h-1zM289 258h1v3h-1zM289 264h1v3h-1zM289 270h1v3h-1zM289 276h1v3h-1zM289 282h1v3h-1zM289 288h1v3h-1zM289 294h1v3h-1zM289 300h1v3h-1zM289 306h1v3h-1zM289 312h1v3h-1zM289 318h1v3h-1zM289 324h1v3h-1zM289 330h1v3h-1zM289 336h1v3h-1zM289 342h1v3h-1zM289 348h1v3h-1zM289 354h1v3h-1zM289 360h1v3h-1zM289 366h1v3h-1zM289 372h1v3h-1zM289 378h1v3h-1zM289 384h1v3h-1zM289 390h1v3h-1zM289 396h1v3h-1zM289 402h1v3h-1zM289 408h1v3h-1zM289 414h1v3h-1zM289 420h1v3h-1zM289 426h1v3h-1zM289 432h1v3h-1zM289 438h1v3h-1zM289 444h1v3h-1zM289 450h1v3h-1zM289 456h1v3h-1zM289 462h1v3h-1zM289 468h1v3h-1zM289 474h1v3h-1zM289 480h1v3h-1zM289 486h1v3h-1zM289 492h1v3h-1zM289 498h1v2h-1zM289 504h1v3h-1zM289 510h1v3h-1zM289 516h1v3h-1zM289 522h1v3h-1zM289 528h1v3h-1zM289 534h1v3h-1zM289 540h1v3h-1zM289 546h1v3h-1zM289 552h1v3h-1zM289 558h1v3h-1zM289 564h1v3h-1zM289 570h1v3h-1zM289 576h1v3h-1zM289 582h1v3h-1zM289 588h1v3h-1zM289 594h1v3h-1zM289 600h1v3h-1zM290 22h3v1h-3zM290 56h3v1h-3zM290 90h3v1h-3zM290 124h3v1h-3zM290 158h3v1h-3zM290 192h3v1h-3zM290 226h3v1h-3zM290 259h3v1h-3zM290 293h3v1h-3zM290 327h3v1h-3zM290 361h3v1h-3zM290 395h3v1h-3zM290 429h3v1h-3zM290 463h3v1h-3zM290 497h3v1h-3zM290 543h3v1h-3zM296 22h3v1h-3zM296 56h3v1h-3zM296 90h3v1h-3zM296 124h3v1h-3zM296 158h3v1h-3zM296 192h3v1h-3zM296 226h3v1h-3zM296 259h3v1h-3zM296 293h3v1h-3zM296 327h3v1h-3zM296 361h3v1h-3zM296 395h3v1h-3zM296 429h3v1h-3zM296 463h3v1h-3zM296 497h3v1h-3zM296 543h3v1h-3zM302 22h3v1h-3zM302 56h3v1h-3zM302 90h3v1h-3zM302 124h3v1h-3zM302 158h3v1h-3zM302 192h3v1h-3zM302 226h3v1h-3zM302 259h3v1h-3zM302 293h3v1h-3zM302 327h3v1h-3zM302 361h3v1h-3zM302 395h3v1h-3zM302 429h3v1h-3zM302 463h3v1h-3zM302 497h3v1h-3zM302 543h3v1h-3zM308 22h3v1h-3zM308 56h3v1h-3zM308 90h3v1h-3zM308 124h3v1h-3zM308 158h3v1h-3zM308 192h3v1h-3zM308 226h3v1h-3zM308 259h3v1h-3zM308 293h3v1h-3zM308 327h3v1h-3zM308 361h3v1h-3zM308 395h3v1h-3zM308 429h3v1h-3zM308 463h3v1h-3zM308 497h3v1h-3zM308 543h3v1h-3zM314 22h3v1h-3zM314 56h3v1h-3zM314 90h3v1h-3zM314 124h3v1h-3zM314 158h3v1h-3zM314 192h3v1h-3zM314 226h3v1h-3zM314 259h3v1h-3zM314 293h3v1h-3zM314 327h3v1h-3zM314 361h3v1h-3zM314 395h3v1h-3zM314 429h3v1h-3zM314 463h3v1h-3zM314 497h3v1h-3zM314 543h3v1h-3zM320 22h3v1h-3zM320 56h3v1h-3zM320 90h3v1h-3zM320 124h3v1h-3zM320 158h3v1h-3zM320 192h3v1h-3zM320 226h3v1h-3zM320 259h3v1h-3zM320 293h3v1h-3zM320 327h3v1h-3zM320 361h3v1h-3zM320 395h3v1h-3zM320 429h3v1h-3zM320 463h3v1h-3zM320 497h3v1h-3zM320 543h3v1h-3zM321 1h1v2h-1zM321 6h1v3h-1zM321 12h1v3h-1zM321 18h1v3h-1zM321 24h1v3h-1zM321 30h1v3h-1zM321 36h1v3h-1zM321 42h1v3h-1zM321 48h1v3h-1zM321 54h1v3h-1zM321 60h1v3h-1zM321 66h1v3h-1zM321 72h1v3h-1zM321 78h1v3h-1zM321 84h1v3h-1zM321 90h1v3h-1zM321 96h1v3h-1zM321 102h1v3h-1zM321 108h1v3h-1zM321 114h1v3h-1zM321 120h1v3h-1zM321 126h1v3h-1zM321 132h1v3h-1zM321 138h1v3h-1zM321 144h1v3h-1zM321 150h1v3h-1zM321 156h1v3h-1zM321 162h1v3h-1zM321 168h1v3h-1zM321 174h1v3h-1zM321 180h1v3h-1zM321 186h1v3h-1zM321 192h1v3h-1zM321 198h1v3h-1zM321 204h1v3h-1zM321 210h1v3h-1zM321 216h1v3h-1zM321 222h1v3h-1zM321 228h1v3h-1zM321 234h1v3h-1zM321 240h1v3h-1zM321 246h1v3h-1zM321 252h1v3h-1zM321 258h1v3h-1zM321 264h1v3h-1zM321 270h1v3h-1zM321 276h1v3h-1zM321 282h1v3h-1zM321 288h1v3h-1zM321 294h1v3h-1zM321 300h1v3h-1zM321 306h1v3h-1zM321 312h1v3h-1zM321 318h1v3h-1zM321 324h1v3h-1zM321 330h1v3h-1zM321 336h1v3h-1zM321 342h1v3h-1zM321 348h1v3h-1zM321 354h1v3h-1zM321 360h1v3h-1zM321 366h1v3h-1zM321 372h1v3h-1zM321 378h1v3h-1zM321 384h1v3h-1zM321 390h1v3h-1zM321 396h1v3h-1zM321 402h1v3h-1zM321 408h1v3h-1zM321 414h1v3h-1zM321 420h1v3h-1zM321 426h1v3h-1zM321 432h1v3h-1zM321 438h1v3h-1zM321 444h1v3h-1zM321 450h1v3h-1zM321 456h1v3h-1zM321 462h1v3h-1zM321 468h1v3h-1zM321 474h1v3h-1zM321 480h1v3h-1zM321 486h1v3h-1zM321 492h1v3h-1zM321 498h1v2h-1zM321 504h1v3h-1zM321 510h1v3h-1zM321 516h1v3h-1zM321 522h1v3h-1zM321 528h1v3h-1zM321 534h1v3h-1zM321 540h1v3h-1zM321 546h1v3h-1zM321 552h1v3h-1zM321 558h1v3h-1zM321 564h1v3h-1zM321 570h1v3h-1zM321 576h1v3h-1zM321 582h1v3h-1zM321 588h1v3h-1zM321 594h1v3h-1zM321 600h1v3h-1zM326 22h3v1h-3zM326 56h3v1h-3zM326 90h3v1h-3zM326 124h3v1h-3zM326 158h3v1h-3zM326 192h3v1h-3zM326 226h3v1h-3zM326 259h3v1h-3zM326 293h3v1h-3zM326 327h3v1h-3zM326 361h3v1h-3zM326 395h3v1h-3zM326 429h3v1h-3zM326 463h3v1h-3zM326 497h3v1h-3zM326 543h3v1h-3zM332 22h3v1h-3zM332 56h3v1h-3zM332 90h3v1h-3zM332 124h3v1h-3zM332 158h3v1h-3zM332 192h3v1h-3zM332 226h3v1h-3zM332 259h3v1h-3zM332 293h3v1h-3zM332 327h3v1h-3zM332 361h3v1h-3zM332 395h3v1h-3zM332 429h3v1h-3zM332 463h3v1h-3zM332 497h3v1h-3zM332 543h3v1h-3zM338 22h3v1h-3zM338 56h3v1h-3zM338 90h3v1h-3zM338 124h3v1h-3zM338 158h3v1h-3zM338 192h3v1h-3zM338 226h3v1h-3zM338 259h3v1h-3zM338 293h3v1h-3zM338 327h3v1h-3zM338 361h3v1h-3zM338 395h3v1h-3zM338 429h3v1h-3zM338 463h3v1h-3zM338 497h3v1h-3zM338 543h3v1h-3zM344 22h3v1h-3zM344 56h3v1h-3zM344 90h3v1h-3zM344 124h3v1h-3zM344 158h3v1h-3zM344 192h3v1h-3zM344 226h3v1h-3zM344 259h3v1h-3zM344 293h3v1h-3zM344 327h3v1h-3zM344 361h3v1h-3zM344 395h3v1h-3zM344 429h3v1h-3zM344 463h3v1h-3zM344 497h3v1h-3zM344 543h3v1h-3zM350 22h3v1h-3zM350 56h3v1h-3zM350 90h3v1h-3zM350 124h3v1h-3zM350 158h3v1h-3zM350 192h3v1h-3zM350 226h3v1h-3zM350 259h3v1h-3zM350 293h3v1h-3zM350 327h3v1h-3zM350 361h3v1h-3zM350 395h3v1h-3zM350 429h3v1h-3zM350 463h3v1h-3zM350 497h3v1h-3zM350 543h3v1h-3zM353 1h1v2h-1zM353 6h1v3h-1zM353 12h1v3h-1zM353 18h1v3h-1zM353 24h1v3h-1zM353 30h1v3h-1zM353 36h1v3h-1zM353 42h1v3h-1zM353 48h1v3h-1zM353 54h1v3h-1zM353 60h1v3h-1zM353 66h1v3h-1zM353 72h1v3h-1zM353 78h1v3h-1zM353 84h1v3h-1zM353 90h1v3h-1zM353 96h1v3h-1zM353 102h1v3h-1zM353 108h1v3h-1zM353 114h1v3h-1zM353 120h1v3h-1zM353 126h1v3h-1zM353 132h1v3h-1zM353 138h1v3h-1zM353 144h1v3h-1zM353 150h1v3h-1zM353 156h1v3h-1zM353 162h1v3h-1zM353 168h1v3h-1zM353 174h1v3h-1zM353 180h1v3h-1zM353 186h1v3h-1zM353 192h1v3h-1zM353 198h1v3h-1zM353 204h1v3h-1zM353 210h1v3h-1zM353 216h1v3h-1zM353 222h1v3h-1zM353 228h1v3h-1zM353 234h1v3h-1zM353 240h1v3h-1zM353 246h1v3h-1zM353 252h1v3h-1zM353 258h1v3h-1zM353 264h1v3h-1zM353 270h1v3h-1zM353 276h1v3h-1zM353 282h1v3h-1zM353 288h1v3h-1zM353 294h1v3h-1zM353 300h1v3h-1zM353 306h1v3h-1zM353 312h1v3h-1zM353 318h1v3h-1zM353 324h1v3h-1zM353 330h1v3h-1zM353 336h1v3h-1zM353 342h1v3h-1zM353 348h1v3h-1zM353 354h1v3h-1zM353 360h1v3h-1zM353 366h1v3h-1zM353 372h1v3h-1zM353 378h1v3h-1zM353 384h1v3h-1zM353 390h1v3h-1zM353 396h1v3h-1zM353 402h1v3h-1zM353 408h1v3h-1zM353 414h1v3h-1zM353 420h1v3h-1zM353 426h1v3h-1zM353 432h1v3h-1zM353 438h1v3h-1zM353 444h1v3h-1zM353 450h1v3h-1zM353 456h1v3h-1zM353 462h1v3h-1zM353 468h1v3h-1zM353 474h1v3h-1zM353 480h1v3h-1zM353 486h1v3h-1zM353 492h1v3h-1zM353 498h1v2h-1zM353 504h1v3h-1zM353 510h1v3h-1zM353 516h1v3h-1zM353 522h1v3h-1zM353 528h1v3h-1zM353 534h1v3h-1zM353 540h1v3h-1zM353 546h1v3h-1zM353 552h1v3h-1zM353 558h1v3h-1zM353 564h1v3h-1zM353 570h1v3h-1zM353 576h1v3h-1zM353 582h1v3h-1zM353 588h1v3h-1zM353 594h1v3h-1zM353 600h1v3h-1zM356 22h3v1h-3zM356 56h3v1h-3zM356 90h3v1h-3zM356 124h3v1h-3zM356 158h3v1h-3zM356 192h3v1h-3zM356 226h3v1h-3zM356 259h3v1h-3zM356 293h3v1h-3zM356 327h3v1h-3zM356 361h3v1h-3zM356 395h3v1h-3zM356 429h3v1h-3zM356 463h3v1h-3zM356 497h3v1h-3zM356 543h3v1h-3zM362 22h3v1h-3zM362 56h3v1h-3zM362 90h3v1h-3zM362 124h3v1h-3zM362 158h3v1h-3zM362 192h3v1h-3zM362 226h3v1h-3zM362 259h3v1h-3zM362 293h3v1h-3zM362 327h3v1h-3zM362 361h3v1h-3zM362 395h3v1h-3zM362 429h3v1h-3zM362 463h3v1h-3zM362 497h3v1h-3zM362 543h3v1h-3zM368 22h3v1h-3zM368 56h3v1h-3zM368 90h3v1h-3zM368 124h3v1h-3zM368 158h3v1h-3zM368 192h3v1h-3zM368 226h3v1h-3zM368 259h3v1h-3zM368 293h3v1h-3zM368 327h3v1h-3zM368 361h3v1h-3zM368 395h3v1h-3zM368 429h3v1h-3zM368 463h3v1h-3zM368 497h3v1h-3zM368 543h3v1h-3zM374 22h3v1h-3zM374 56h3v1h-3zM374 90h3v1h-3zM374 124h3v1h-3zM374 158h3v1h-3zM374 192h3v1h-3zM374 226h3v1h-3zM374 259h3v1h-3zM374 293h3v1h-3zM374 327h3v1h-3zM374 361h3v1h-3zM374 395h3v1h-3zM374 429h3v1h-3zM374 463h3v1h-3zM374 497h3v1h-3zM374 543h3v1h-3zM380 22h3v1h-3zM380 56h3v1h-3zM380 90h3v1h-3zM380 124h3v1h-3zM380 158h3v1h-3zM380 192h3v1h-3zM380 226h3v1h-3zM380 259h3v1h-3zM380 293h3v1h-3zM380 327h3v1h-3zM380 361h3v1h-3zM380 395h3v1h-3zM380 429h3v1h-3zM380 463h3v1h-3zM380 497h3v1h-3zM380 543h3v1h-3zM385 1h1v2h-1zM385 6h1v3h-1zM385 12h1v3h-1zM385 18h1v3h-1zM385 24h1v3h-1zM385 30h1v3h-1zM385 36h1v3h-1zM385 42h1v3h-1zM385 48h1v3h-1zM385 54h1v3h-1zM385 60h1v3h-1zM385 66h1v3h-1zM385 72h1v3h-1zM385 78h1v3h-1zM385 84h1v3h-1zM385 90h1v3h-1zM385 96h1v3h-1zM385 102h1v3h-1zM385 108h1v3h-1zM385 114h1v3h-1zM385 120h1v3h-1zM385 126h1v3h-1zM385 132h1v3h-1zM385 138h1v3h-1zM385 144h1v3h-1zM385 150h1v3h-1zM385 156h1v3h-1zM385 162h1v3h-1zM385 168h1v3h-1zM385 174h1v3h-1zM385 180h1v3h-1zM385 186h1v3h-1zM385 192h1v3h-1zM385 198h1v3h-1zM385 204h1v3h-1zM385 210h1v3h-1zM385 216h1v3h-1zM385 222h1v3h-1zM385 228h1v3h-1zM385 234h1v3h-1zM385 240h1v3h-1zM385 246h1v3h-1zM385 252h1v3h-1zM385 258h1v3h-1zM385 264h1v3h-1zM385 270h1v3h-1zM385 276h1v3h-1zM385 282h1v3h-1zM385 288h1v3h-1zM385 294h1v3h-1zM385 300h1v3h-1zM385 306h1v3h-1zM385 312h1v3h-1zM385 318h1v3h-1zM385 324h1v3h-1zM385 330h1v3h-1zM385 336h1v3h-1zM385 342h1v3h-1zM385 348h1v3h-1zM385 354h1v3h-1zM385 360h1v3h-1zM385 366h1v3h-1zM385 372h1v3h-1zM385 378h1v3h-1zM385 384h1v3h-1zM385 390h1v3h-1zM385 396h1v3h-1zM385 402h1v3h-1zM385 408h1v3h-1zM385 414h1v3h-1zM385 420h1v3h-1zM385 426h1v3h-1zM385 432h1v3h-1zM385 438h1v3h-1zM385 444h1v3h-1zM385 450h1v3h-1zM385 456h1v3h-1zM385 462h1v3h-1zM385 468h1v3h-1zM385 474h1v3h-1zM385 480h1v3h-1zM385 486h1v3h-1zM385 492h1v3h-1zM385 498h1v2h-1zM385 504h1v3h-1zM385 510h1v3h-1zM385 516h1v3h-1zM385 522h1v3h-1zM385 528h1v3h-1zM385 534h1v3h-1zM385 540h1v3h-1zM385 546h1v3h-1zM385 552h1v3h-1zM385 558h1v3h-1zM385 564h1v3h-1zM385 570h1v3h-1zM385 576h1v3h-1zM385 582h1v3h-1zM385 588h1v3h-1zM385 594h1v3h-1zM385 600h1v3h-1zM386 22h3v1h-3zM386 56h3v1h-3zM386 90h3v1h-3zM386 124h3v1h-3zM386 158h3v1h-3zM386 192h3v1h-3zM386 226h3v1h-3zM386 259h3v1h-3zM386 293h3v1h-3zM386 327h3v1h-3zM386 361h3v1h-3zM386 395h3v1h-3zM386 429h3v1h-3zM386 463h3v1h-3zM386 497h3v1h-3zM386 543h3v1h-3zM392 22h3v1h-3zM392 56h3v1h-3zM392 90h3v1h-3zM392 124h3v1h-3zM392 158h3v1h-3zM392 192h3v1h-3zM392 226h3v1h-3zM392 259h3v1h-3zM392 293h3v1h-3zM392 327h3v1h-3zM392 361h3v1h-3zM392 395h3v1h-3zM392 429h3v1h-3zM392 463h3v1h-3zM392 497h3v1h-3zM392 543h3v1h-3zM398 22h3v1h-3zM398 56h3v1h-3zM398 90h3v1h-3zM398 124h3v1h-3zM398 158h3v1h-3zM398 192h3v1h-3zM398 226h3v1h-3zM398 259h3v1h-3zM398 293h3v1h-3zM398 327h3v1h-3zM398 361h3v1h-3zM398 395h3v1h-3zM398 429h3v1h-3zM398 463h3v1h-3zM398 497h3v1h-3zM398 543h3v1h-3zM404 22h3v1h-3zM404 56h3v1h-3zM404 90h3v1h-3zM404 124h3v1h-3zM404 158h3v1h-3zM404 192h3v1h-3zM404 226h3v1h-3zM404 259h3v1h-3zM404 293h3v1h-3zM404 327h3v1h-3zM404 361h3v1h-3zM404 395h3v1h-3zM404 429h3v1h-3zM404 463h3v1h-3zM404 497h3v1h-3zM404 543h3v1h-3zM410 22h3v1h-3zM410 56h3v1h-3zM410 90h3v1h-3zM410 124h3v1h-3zM410 158h3v1h-3zM410 192h3v1h-3zM410 226h3v1h-3zM410 259h3v1h-3zM410 293h3v1h-3zM410 327h3v1h-3zM410 361h3v1h-3zM410 395h3v1h-3zM410 429h3v1h-3zM410 463h3v1h-3zM410 497h3v1h-3zM410 543h3v1h-3zM416 22h3v1h-3zM416 56h3v1h-3zM416 90h3v1h-3zM416 124h3v1h-3zM416 158h3v1h-3zM416 192h3v1h-3zM416 226h3v1h-3zM416 259h3v1h-3zM416 293h3v1h-3zM416 327h3v1h-3zM416 361h3v1h-3zM416 395h3v1h-3zM416 429h3v1h-3zM416 463h3v1h-3zM416 497h3v1h-3zM416 543h3v1h-3zM417 1h1v2h-1zM417 6h1v3h-1zM417 12h1v3h-1zM417 18h1v3h-1zM417 24h1v3h-1zM417 30h1v3h-1zM417 36h1v3h-1zM417 42h1v3h-1zM417 48h1v3h-1zM417 54h1v3h-1zM417 60h1v3h-1zM417 66h1v3h-1zM417 72h1v3h-1zM417 78h1v3h-1zM417 84h1v3h-1zM417 90h1v3h-1zM417 96h1v3h-1zM417 102h1v3h-1zM417 108h1v3h-1zM417 114h1v3h-1zM417 120h1v3h-1zM417 126h1v3h-1zM417 132h1v3h-1zM417 138h1v3h-1zM417 144h1v3h-1zM417 150h1v3h-1zM417 156h1v3h-1zM417 162h1v3h-1zM417 168h1v3h-1zM417 174h1v3h-1zM417 180h1v3h-1zM417 186h1v3h-1zM417 192h1v3h-1zM417 198h1v3h-1zM417 204h1v3h-1zM417 210h1v3h-1zM417 216h1v3h-1zM417 222h1v3h-1zM417 228h1v3h-1zM417 234h1v3h-1zM417 240h1v3h-1zM417 246h1v3h-1zM417 252h1v3h-1zM417 258h1v3h-1zM417 264h1v3h-1zM417 270h1v3h-1zM417 276h1v3h-1zM417 282h1v3h-1zM417 288h1v3h-1zM417 294h1v3h-1zM417 300h1v3h-1zM417 306h1v3h-1zM417 312h1v3h-1zM417 318h1v3h-1zM417 324h1v3h-1zM417 330h1v3h-1zM417 336h1v3h-1zM417 342h1v3h-1zM417 348h1v3h-1zM417 354h1v3h-1zM417 360h1v3h-1zM417 366h1v3h-1zM417 372h1v3h-1zM417 378h1v3h-1zM417 384h1v3h-1zM417 390h1v3h-1zM417 396h1v3h-1zM417 402h1v3h-1zM417 408h1v3h-1zM417 414h1v3h-1zM417 420h1v3h-1zM417 426h1v3h-1zM417 432h1v3h-1zM417 438h1v3h-1zM417 444h1v3h-1zM417 450h1v3h-1zM417 456h1v3h-1zM417 462h1v3h-1zM417 468h1v3h-1zM417 474h1v3h-1zM417 480h1v3h-1zM417 486h1v3h-1zM417 492h1v3h-1zM417 498h1v2h-1zM417 504h1v3h-1zM417 510h1v3h-1zM417 516h1v3h-1zM417 522h1v3h-1zM417 528h1v3h-1zM417 534h1v3h-1zM417 540h1v3h-1zM417 546h1v3h-1zM417 552h1v3h-1zM417 558h1v3h-1zM417 564h1v3h-1zM417 570h1v3h-1zM417 576h1v3h-1zM417 582h1v3h-1zM417 588h1v3h-1zM417 594h1v3h-1zM417 600h1v3h-1zM422 22h3v1h-3zM422 56h3v1h-3zM422 90h3v1h-3zM422 124h3v1h-3zM422 158h3v1h-3zM422 192h3v1h-3zM422 226h3v1h-3zM422 259h3v1h-3zM422 293h3v1h-3zM422 327h3v1h-3zM422 361h3v1h-3zM422 395h3v1h-3zM422 429h3v1h-3zM422 463h3v1h-3zM422 497h3v1h-3zM422 543h3v1h-3zM428 22h3v1h-3zM428 56h3v1h-3zM428 90h3v1h-3zM428 124h3v1h-3zM428 158h3v1h-3zM428 192h3v1h-3zM428 226h3v1h-3zM428 259h3v1h-3zM428 293h3v1h-3zM428 327h3v1h-3zM428 361h3v1h-3zM428 395h3v1h-3zM428 429h3v1h-3zM428 463h3v1h-3zM428 497h3v1h-3zM428 543h3v1h-3zM434 22h3v1h-3zM434 56h3v1h-3zM434 90h3v1h-3zM434 124h3v1h-3zM434 158h3v1h-3zM434 192h3v1h-3zM434 226h3v1h-3zM434 259h3v1h-3zM434 293h3v1h-3zM434 327h3v1h-3zM434 361h3v1h-3zM434 395h3v1h-3zM434 429h3v1h-3zM434 463h3v1h-3zM434 497h3v1h-3zM434 543h3v1h-3zM440 22h3v1h-3zM440 56h3v1h-3zM440 90h3v1h-3zM440 124h3v1h-3zM440 158h3v1h-3zM440 192h3v1h-3zM440 226h3v1h-3zM440 259h3v1h-3zM440 293h3v1h-3zM440 327h3v1h-3zM440 361h3v1h-3zM440 395h3v1h-3zM440 429h3v1h-3zM440 463h3v1h-3zM440 497h3v1h-3zM440 543h3v1h-3zM446 22h3v1h-3zM446 56h3v1h-3zM446 90h3v1h-3zM446 124h3v1h-3zM446 158h3v1h-3zM446 192h3v1h-3zM446 226h3v1h-3zM446 259h3v1h-3zM446 293h3v1h-3zM446 327h3v1h-3zM446 361h3v1h-3zM446 395h3v1h-3zM446 429h3v1h-3zM446 463h3v1h-3zM446 497h3v1h-3zM446 543h3v1h-3zM449 1h1v2h-1zM449 6h1v3h-1zM449 12h1v3h-1zM449 18h1v3h-1zM449 24h1v3h-1zM449 30h1v3h-1zM449 36h1v3h-1zM449 42h1v3h-1zM449 48h1v3h-1zM449 54h1v3h-1zM449 60h1v3h-1zM449 66h1v3h-1zM449 72h1v3h-1zM449 78h1v3h-1zM449 84h1v3h-1zM449 90h1v3h-1zM449 96h1v3h-1zM449 102h1v3h-1zM449 108h1v3h-1zM449 114h1v3h-1zM449 120h1v3h-1zM449 126h1v3h-1zM449 132h1v3h-1zM449 138h1v3h-1zM449 144h1v3h-1zM449 150h1v3h-1zM449 156h1v3h-1zM449 162h1v3h-1zM449 168h1v3h-1zM449 174h1v3h-1zM449 180h1v3h-1zM449 186h1v3h-1zM449 192h1v3h-1zM449 198h1v3h-1zM449 204h1v3h-1zM449 210h1v3h-1zM449 216h1v3h-1zM449 222h1v3h-1zM449 228h1v3h-1zM449 234h1v3h-1zM449 240h1v3h-1zM449 246h1v3h-1zM449 252h1v3h-1zM449 258h1v3h-1zM449 264h1v3h-1zM449 270h1v3h-1zM449 276h1v3h-1zM449 282h1v3h-1zM449 288h1v3h-1zM449 294h1v3h-1zM449 300h1v3h-1zM449 306h1v3h-1zM449 312h1v3h-1zM449 318h1v3h-1zM449 324h1v3h-1zM449 330h1v3h-1zM449 336h1v3h-1zM449 342h1v3h-1zM449 348h1v3h-1zM449 354h1v3h-1zM449 360h1v3h-1zM449 366h1v3h-1zM449 372h1v3h-1zM449 378h1v3h-1zM449 384h1v3h-1zM449 390h1v3h-1zM449 396h1v3h-1zM449 402h1v3h-1zM449 408h1v3h-1zM449 414h1v3h-1zM449 420h1v3h-1zM449 426h1v3h-1zM449 432h1v3h-1zM449 438h1v3h-1zM449 444h1v3h-1zM449 450h1v3h-1zM449 456h1v3h-1zM449 462h1v3h-1zM449 468h1v3h-1zM449 474h1v3h-1zM449 480h1v3h-1zM449 486h1v3h-1zM449 492h1v3h-1zM449 498h1v2h-1zM449 504h1v3h-1zM449 510h1v3h-1zM449 516h1v3h-1zM449 522h1v3h-1zM449 528h1v3h-1zM449 534h1v3h-1zM449 540h1v3h-1zM449 546h1v3h-1zM449 552h1v3h-1zM449 558h1v3h-1zM449 564h1v3h-1zM449 570h1v3h-1zM449 576h1v3h-1zM449 582h1v3h-1zM449 588h1v3h-1zM449 594h1v3h-1zM449 600h1v3h-1zM452 22h3v1h-3zM452 56h3v1h-3zM452 90h3v1h-3zM452 124h3v1h-3zM452 158h3v1h-3zM452 192h3v1h-3zM452 226h3v1h-3zM452 259h3v1h-3zM452 293h3v1h-3zM452 327h3v1h-3zM452 361h3v1h-3zM452 395h3v1h-3zM452 429h3v1h-3zM452 463h3v1h-3zM452 497h3v1h-3zM452 543h3v1h-3zM458 22h3v1h-3zM458 56h3v1h-3zM458 90h3v1h-3zM458 124h3v1h-3zM458 158h3v1h-3zM458 192h3v1h-3zM458 226h3v1h-3zM458 259h3v1h-3zM458 293h3v1h-3zM458 327h3v1h-3zM458 361h3v1h-3zM458 395h3v1h-3zM458 429h3v1h-3zM458 463h3v1h-3zM458 497h3v1h-3zM458 543h3v1h-3zM464 22h3v1h-3zM464 56h3v1h-3zM464 90h3v1h-3zM464 124h3v1h-3zM464 158h3v1h-3zM464 192h3v1h-3zM464 226h3v1h-3zM464 259h3v1h-3zM464 293h3v1h-3zM464 327h3v1h-3zM464 361h3v1h-3zM464 395h3v1h-3zM464 429h3v1h-3zM464 463h3v1h-3zM464 497h3v1h-3zM464 543h3v1h-3zM470 22h3v1h-3zM470 56h3v1h-3zM470 90h3v1h-3zM470 124h3v1h-3zM470 158h3v1h-3zM470 192h3v1h-3zM470 226h3v1h-3zM470 259h3v1h-3zM470 293h3v1h-3zM470 327h3v1h-3zM470 361h3v1h-3zM470 395h3v1h-3zM470 429h3v1h-3zM470 463h3v1h-3zM470 497h3v1h-3zM470 543h3v1h-3zM476 22h3v1h-3zM476 56h3v1h-3zM476 90h3v1h-3zM476 124h3v1h-3zM476 158h3v1h-3zM476 192h3v1h-3zM476 226h3v1h-3zM476 259h3v1h-3zM476 293h3v1h-3zM476 327h3v1h-3zM476 361h3v1h-3zM476 395h3v1h-3zM476 429h3v1h-3zM476 463h3v1h-3zM476 497h3v1h-3zM476 543h3v1h-3zM481 1h1v2h-1zM481 6h1v3h-1zM481 12h1v3h-1zM481 18h1v3h-1zM481 24h1v3h-1zM481 30h1v3h-1zM481 36h1v3h-1zM481 42h1v3h-1zM481 48h1v3h-1zM481 54h1v3h-1zM481 60h1v3h-1zM481 66h1v3h-1zM481 72h1v3h-1zM481 78h1v3h-1zM481 84h1v3h-1zM481 90h1v3h-1zM481 96h1v3h-1zM481 102h1v3h-1zM481 108h1v3h-1zM481 114h1v3h-1zM481 120h1v3h-1zM481 126h1v3h-1zM481 132h1v3h-1zM481 138h1v3h-1zM481 144h1v3h-1zM481 150h1v3h-1zM481 156h1v3h-1zM481 162h1v3h-1zM481 168h1v3h-1zM481 174h1v3h-1zM481 180h1v3h-1zM481 186h1v3h-1zM481 192h1v3h-1zM481 198h1v3h-1zM481 204h1v3h-1zM481 210h1v3h-1zM481 216h1v3h-1zM481 222h1v3h-1zM481 228h1v3h-1zM481 234h1v3h-1zM481 240h1v3h-1zM481 246h1v3h-1zM481 252h1v3h-1zM481 258h1v3h-1zM481 264h1v3h-1zM481 270h1v3h-1zM481 276h1v3h-1zM481 282h1v3h-1zM481 288h1v3h-1zM481 294h1v3h-1zM481 300h1v3h-1zM481 306h1v3h-1zM481 312h1v3h-1zM481 318h1v3h-1zM481 324h1v3h-1zM481 330h1v3h-1zM481 336h1v3h-1zM481 342h1v3h-1zM481 348h1v3h-1zM481 354h1v3h-1zM481 360h1v3h-1zM481 366h1v3h-1zM481 372h1v3h-1zM481 378h1v3h-1zM481 384h1v3h-1zM481 390h1v3h-1zM481 396h1v3h-1zM481 402h1v3h-1zM481 408h1v3h-1zM481 414h1v3h-1zM481 420h1v3h-1zM481 426h1v3h-1zM481 432h1v3h-1zM481 438h1v3h-1zM481 444h1v3h-1zM481 450h1v3h-1zM481 456h1v3h-1zM481 462h1v3h-1zM481 468h1v3h-1zM481 474h1v3h-1zM481 480h1v3h-1zM481 486h1v3h-1zM481 492h1v3h-1zM481 498h1v2h-1zM481 504h1v3h-1zM481 510h1v3h-1zM481 516h1v3h-1zM481 522h1v3h-1zM481 528h1v3h-1zM481 534h1v3h-1zM481 540h1v3h-1zM481 546h1v3h-1zM481 552h1v3h-1zM481 558h1v3h-1zM481 564h1v3h-1zM481 570h1v3h-1zM481 576h1v3h-1zM481 582h1v3h-1zM481 588h1v3h-1zM481 594h1v3h-1zM481 600h1v3h-1zM482 22h3v1h-3zM482 56h3v1h-3zM482 90h3v1h-3zM482 124h3v1h-3zM482 158h3v1h-3zM482 192h3v1h-3zM482 226h3v1h-3zM482 259h3v1h-3zM482 293h3v1h-3zM482 327h3v1h-3zM482 361h3v1h-3zM482 395h3v1h-3zM482 429h3v1h-3zM482 463h3v1h-3zM482 497h3v1h-3zM482 543h3v1h-3zM488 22h3v1h-3zM488 56h3v1h-3zM488 90h3v1h-3zM488 124h3v1h-3zM488 158h3v1h-3zM488 192h3v1h-3zM488 226h3v1h-3zM488 259h3v1h-3zM488 293h3v1h-3zM488 327h3v1h-3zM488 361h3v1h-3zM488 395h3v1h-3zM488 429h3v1h-3zM488 463h3v1h-3zM488 497h3v1h-3zM488 543h3v1h-3zM494 22h3v1h-3zM494 56h3v1h-3zM494 90h3v1h-3zM494 124h3v1h-3zM494 158h3v1h-3zM494 192h3v1h-3zM494 226h3v1h-3zM494 259h3v1h-3zM494 293h3v1h-3zM494 327h3v1h-3zM494 361h3v1h-3zM494 395h3v1h-3zM494 429h3v1h-3zM494 463h3v1h-3zM494 497h3v1h-3zM494 543h3v1h-3zM500 22h3v1h-3zM500 56h3v1h-3zM500 90h3v1h-3zM500 124h3v1h-3zM500 158h3v1h-3zM500 192h3v1h-3zM500 226h3v1h-3zM500 259h3v1h-3zM500 293h3v1h-3zM500 327h3v1h-3zM500 361h3v1h-3zM500 395h3v1h-3zM500 429h3v1h-3zM500 463h3v1h-3zM500 497h3v1h-3zM500 543h3v1h-3zM506 22h3v1h-3zM506 56h3v1h-3zM506 90h3v1h-3zM506 124h3v1h-3zM506 158h3v1h-3zM506 192h3v1h-3zM506 226h3v1h-3zM506 259h3v1h-3zM506 293h3v1h-3zM506 327h3v1h-3zM506 361h3v1h-3zM506 395h3v1h-3zM506 429h3v1h-3zM506 463h3v1h-3zM506 497h3v1h-3zM506 543h3v1h-3zM512 22h3v1h-3zM512 56h3v1h-3zM512 90h3v1h-3zM512 124h3v1h-3zM512 158h3v1h-3zM512 192h3v1h-3zM512 226h3v1h-3zM512 259h3v1h-3zM512 293h3v1h-3zM512 327h3v1h-3zM512 361h3v1h-3zM512 395h3v1h-3zM512 429h3v1h-3zM512 463h3v1h-3zM512 497h3v1h-3zM512 543h3v1h-3zM513 1h1v2h-1zM513 6h1v3h-1zM513 12h1v3h-1zM513 18h1v3h-1zM513 24h1v3h-1zM513 30h1v3h-1zM513 36h1v3h-1zM513 42h1v3h-1zM513 48h1v3h-1zM513 54h1v3h-1zM513 60h1v3h-1zM513 66h1v3h-1zM513 72h1v3h-1zM513 78h1v3h-1zM513 84h1v3h-1zM513 90h1v3h-1zM513 96h1v3h-1zM513 102h1v3h-1zM513 108h1v3h-1zM513 114h1v3h-1zM513 120h1v3h-1zM513 126h1v3h-1zM513 132h1v3h-1zM513 138h1v3h-1zM513 144h1v3h-1zM513 150h1v3h-1zM513 156h1v3h-1zM513 162h1v3h-1zM513 168h1v3h-1zM513 174h1v3h-1zM513 180h1v3h-1zM513 186h1v3h-1zM513 192h1v3h-1zM513 198h1v3h-1zM513 204h1v3h-1zM513 210h1v3h-1zM513 216h1v3h-1zM513 222h1v3h-1zM513 228h1v3h-1zM513 234h1v3h-1zM513 240h1v3h-1zM513 246h1v3h-1zM513 252h1v3h-1zM513 258h1v3h-1zM513 264h1v3h-1zM513 270h1v3h-1zM513 276h1v3h-1zM513 282h1v3h-1zM513 288h1v3h-1zM513 294h1v3h-1zM513 300h1v3h-1zM513 306h1v3h-1zM513 312h1v3h-1zM513 318h1v3h-1zM513 324h1v3h-1zM513 330h1v3h-1zM513 336h1v3h-1zM513 342h1v3h-1zM513 348h1v3h-1zM513 354h1v3h-1zM513 360h1v3h-1zM513 366h1v3h-1zM513 372h1v3h-1zM513 378h1v3h-1zM513 384h1v3h-1zM513 390h1v3h-1zM513 396h1v3h-1zM513 402h1v3h-1zM513 408h1v3h-1zM513 414h1v3h-1zM513 420h1v3h-1zM513 426h1v3h-1zM513 432h1v3h-1zM513 438h1v3h-1zM513 444h1v3h-1zM513 450h1v3h-1zM513 456h1v3h-1zM513 462h1v3h-1zM513 468h1v3h-1zM513 474h1v3h-1zM513 480h1v3h-1zM513 486h1v3h-1zM513 492h1v3h-1zM513 498h1v2h-1zM513 504h1v3h-1zM513 510h1v3h-1zM513 516h1v3h-1zM513 522h1v3h-1zM513 528h1v3h-1zM513 534h1v3h-1zM513 540h1v3h-1zM513 546h1v3h-1zM513 552h1v3h-1zM513 558h1v3h-1zM513 564h1v3h-1zM513 570h1v3h-1zM513 576h1v3h-1zM513 582h1v3h-1zM513 588h1v3h-1zM513 594h1v3h-1zM513 600h1v3h-1zM518 22h3v1h-3zM518 56h3v1h-3zM518 90h3v1h-3zM518 124h3v1h-3zM518 158h3v1h-3zM518 192h3v1h-3zM518 226h3v1h-3zM518 259h3v1h-3zM518 293h3v1h-3zM518 327h3v1h-3zM518 361h3v1h-3zM518 395h3v1h-3zM518 429h3v1h-3zM518 463h3v1h-3zM518 497h3v1h-3zM518 543h3v1h-3zM524 22h3v1h-3zM524 56h3v1h-3zM524 90h3v1h-3zM524 124h3v1h-3zM524 158h3v1h-3zM524 192h3v1h-3zM524 226h3v1h-3zM524 259h3v1h-3zM524 293h3v1h-3zM524 327h3v1h-3zM524 361h3v1h-3zM524 395h3v1h-3zM524 429h3v1h-3zM524 463h3v1h-3zM524 497h3v1h-3zM524 543h3v1h-3zM530 22h3v1h-3zM530 56h3v1h-3zM530 90h3v1h-3zM530 124h3v1h-3zM530 158h3v1h-3zM530 192h3v1h-3zM530 226h3v1h-3zM530 259h3v1h-3zM530 293h3v1h-3zM530 327h3v1h-3zM530 361h3v1h-3zM530 395h3v1h-3zM530 429h3v1h-3zM530 463h3v1h-3zM530 497h3v1h-3zM530 543h3v1h-3zM536 22h3v1h-3zM536 56h3v1h-3zM536 90h3v1h-3zM536 124h3v1h-3zM536 158h3v1h-3zM536 192h3v1h-3zM536 226h3v1h-3zM536 259h3v1h-3zM536 293h3v1h-3zM536 327h3v1h-3zM536 361h3v1h-3zM536 395h3v1h-3zM536 429h3v1h-3zM536 463h3v1h-3zM536 497h3v1h-3zM536 543h3v1h-3zM542 22h3v1h-3zM542 56h3v1h-3zM542 90h3v1h-3zM542 124h3v1h-3zM542 158h3v1h-3zM542 192h3v1h-3zM542 226h3v1h-3zM542 259h3v1h-3zM542 293h3v1h-3zM542 327h3v1h-3zM542 361h3v1h-3zM542 395h3v1h-3zM542 429h3v1h-3zM542 463h3v1h-3zM542 497h3v1h-3zM542 543h3v1h-3zM545 1h1v2h-1zM545 6h1v3h-1zM545 12h1v3h-1zM545 18h1v3h-1zM545 24h1v3h-1zM545 30h1v3h-1zM545 36h1v3h-1zM545 42h1v3h-1zM545 48h1v3h-1zM545 54h1v3h-1zM545 60h1v3h-1zM545 66h1v3h-1zM545 72h1v3h-1zM545 78h1v3h-1zM545 84h1v3h-1zM545 90h1v3h-1zM545 96h1v3h-1zM545 102h1v3h-1zM545 108h1v3h-1zM545 114h1v3h-1zM545 120h1v3h-1zM545 126h1v3h-1zM545 132h1v3h-1zM545 138h1v3h-1zM545 144h1v3h-1zM545 150h1v3h-1zM545 156h1v3h-1zM545 162h1v3h-1zM545 168h1v3h-1zM545 174h1v3h-1zM545 180h1v3h-1zM545 186h1v3h-1zM545 192h1v3h-1zM545 198h1v3h-1zM545 204h1v3h-1zM545 210h1v3h-1zM545 216h1v3h-1zM545 222h1v3h-1zM545 228h1v3h-1zM545 234h1v3h-1zM545 240h1v3h-1zM545 246h1v3h-1zM545 252h1v3h-1zM545 258h1v3h-1zM545 264h1v3h-1zM545 270h1v3h-1zM545 276h1v3h-1zM545 282h1v3h-1zM545 288h1v3h-1zM545 294h1v3h-1zM545 300h1v3h-1zM545 306h1v3h-1zM545 312h1v3h-1zM545 318h1v3h-1zM545 324h1v3h-1zM545 330h1v3h-1zM545 336h1v3h-1zM545 342h1v3h-1zM545 348h1v3h-1zM545 354h1v3h-1zM545 360h1v3h-1zM545 366h1v3h-1zM545 372h1v3h-1zM545 378h1v3h-1zM545 384h1v3h-1zM545 390h1v3h-1zM545 396h1v3h-1zM545 402h1v3h-1zM545 408h1v3h-1zM545 414h1v3h-1zM545 420h1v3h-1zM545 426h1v3h-1zM545 432h1v3h-1zM545 438h1v3h-1zM545 444h1v3h-1zM545 450h1v3h-1zM545 456h1v3h-1zM545 462h1v3h-1zM545 468h1v3h-1zM545 474h1v3h-1zM545 480h1v3h-1zM545 486h1v3h-1zM545 492h1v3h-1zM545 498h1v2h-1zM545 504h1v3h-1zM545 510h1v3h-1zM545 516h1v3h-1zM545 522h1v3h-1zM545 528h1v3h-1zM545 534h1v3h-1zM545 540h1v3h-1zM545 546h1v3h-1zM545 552h1v3h-1zM545 558h1v3h-1zM545 564h1v3h-1zM545 570h1v3h-1zM545 576h1v3h-1zM545 582h1v3h-1zM545 588h1v3h-1zM545 594h1v3h-1zM545 600h1v3h-1zM548 22h3v1h-3zM548 56h3v1h-3zM548 90h3v1h-3zM548 124h3v1h-3zM548 158h3v1h-3zM548 192h3v1h-3zM548 226h3v1h-3zM548 259h3v1h-3zM548 293h3v1h-3zM548 327h3v1h-3zM548 361h3v1h-3zM548 395h3v1h-3zM548 429h3v1h-3zM548 463h3v1h-3zM548 497h3v1h-3zM548 543h3v1h-3zM554 22h3v1h-3zM554 56h3v1h-3zM554 90h3v1h-3zM554 124h3v1h-3zM554 158h3v1h-3zM554 192h3v1h-3zM554 226h3v1h-3zM554 259h3v1h-3zM554 293h3v1h-3zM554 327h3v1h-3zM554 361h3v1h-3zM554 395h3v1h-3zM554 429h3v1h-3zM554 463h3v1h-3zM554 497h3v1h-3zM554 543h3v1h-3zM560 22h3v1h-3zM560 56h3v1h-3zM560 90h3v1h-3zM560 124h3v1h-3zM560 158h3v1h-3zM560 192h3v1h-3zM560 226h3v1h-3zM560 259h3v1h-3zM560 293h3v1h-3zM560 327h3v1h-3zM560 361h3v1h-3zM560 395h3v1h-3zM560 429h3v1h-3zM560 463h3v1h-3zM560 497h3v1h-3zM560 543h3v1h-3zM566 22h3v1h-3zM566 56h3v1h-3zM566 90h3v1h-3zM566 124h3v1h-3zM566 158h3v1h-3zM566 192h3v1h-3zM566 226h3v1h-3zM566 259h3v1h-3zM566 293h3v1h-3zM566 327h3v1h-3zM566 361h3v1h-3zM566 395h3v1h-3zM566 429h3v1h-3zM566 463h3v1h-3zM566 497h3v1h-3zM566 543h3v1h-3zM572 22h3v1h-3zM572 56h3v1h-3zM572 90h3v1h-3zM572 124h3v1h-3zM572 158h3v1h-3zM572 192h3v1h-3zM572 226h3v1h-3zM572 259h3v1h-3zM572 293h3v1h-3zM572 327h3v1h-3zM572 361h3v1h-3zM572 395h3v1h-3zM572 429h3v1h-3zM572 463h3v1h-3zM572 497h3v1h-3zM572 543h3v1h-3zM577 1h1v2h-1zM577 6h1v3h-1zM577 12h1v3h-1zM577 18h1v3h-1zM577 24h1v3h-1zM577 30h1v3h-1zM577 36h1v3h-1zM577 42h1v3h-1zM577 48h1v3h-1zM577 54h1v3h-1zM577 60h1v3h-1zM577 66h1v3h-1zM577 72h1v3h-1zM577 78h1v3h-1zM577 84h1v3h-1zM577 90h1v3h-1zM577 96h1v3h-1zM577 102h1v3h-1zM577 108h1v3h-1zM577 114h1v3h-1zM577 120h1v3h-1zM577 126h1v3h-1zM577 132h1v3h-1zM577 138h1v3h-1zM577 144h1v3h-1zM577 150h1v3h-1zM577 156h1v3h-1zM577 162h1v3h-1zM577 168h1v3h-1zM577 174h1v3h-1zM577 180h1v3h-1zM577 186h1v3h-1zM577 192h1v3h-1zM577 198h1v3h-1zM577 204h1v3h-1zM577 210h1v3h-1zM577 216h1v3h-1zM577 222h1v3h-1zM577 228h1v3h-1zM577 234h1v3h-1zM577 240h1v3h-1zM577 246h1v3h-1zM577 252h1v3h-1zM577 258h1v3h-1zM577 264h1v3h-1zM577 270h1v3h-1zM577 276h1v3h-1zM577 282h1v3h-1zM577 288h1v3h-1zM577 294h1v3h-1zM577 300h1v3h-1zM577 306h1v3h-1zM577 312h1v3h-1zM577 318h1v3h-1zM577 324h1v3h-1zM577 330h1v3h-1zM577 336h1v3h-1zM577 342h1v3h-1zM577 348h1v3h-1zM577 354h1v3h-1zM577 360h1v3h-1zM577 366h1v3h-1zM577 372h1v3h-1zM577 378h1v3h-1zM577 384h1v3h-1zM577 390h1v3h-1zM577 396h1v3h-1zM577 402h1v3h-1zM577 408h1v3h-1zM577 414h1v3h-1zM577 420h1v3h-1zM577 426h1v3h-1zM577 432h1v3h-1zM577 438h1v3h-1zM577 444h1v3h-1zM577 450h1v3h-1zM577 456h1v3h-1zM577 462h1v3h-1zM577 468h1v3h-1zM577 474h1v3h-1zM577 480h1v3h-1zM577 486h1v3h-1zM577 492h1v3h-1zM577 498h1v2h-1zM577 504h1v3h-1zM577 510h1v3h-1zM577 516h1v3h-1zM577 522h1v3h-1zM577 528h1v3h-1zM577 534h1v3h-1zM577 540h1v3h-1zM577 546h1v3h-1zM577 552h1v3h-1zM577 558h1v3h-1zM577 564h1v3h-1zM577 570h1v3h-1zM577 576h1v3h-1zM577 582h1v3h-1zM577 588h1v3h-1zM577 594h1v3h-1zM577 600h1v3h-1zM578 22h3v1h-3zM578 56h3v1h-3zM578 90h3v1h-3zM578 124h3v1h-3zM578 158h3v1h-3zM578 192h3v1h-3zM578 226h3v1h-3zM578 259h3v1h-3zM578 293h3v1h-3zM578 327h3v1h-3zM578 361h3v1h-3zM578 395h3v1h-3zM578 429h3v1h-3zM578 463h3v1h-3zM578 497h3v1h-3zM578 543h3v1h-3zM584 22h3v1h-3zM584 56h3v1h-3zM584 90h3v1h-3zM584 124h3v1h-3zM584 158h3v1h-3zM584 192h3v1h-3zM584 226h3v1h-3zM584 259h3v1h-3zM584 293h3v1h-3zM584 327h3v1h-3zM584 361h3v1h-3zM584 395h3v1h-3zM584 429h3v1h-3zM584 463h3v1h-3zM584 497h3v1h-3zM584 543h3v1h-3zM590 22h3v1h-3zM590 56h3v1h-3zM590 90h3v1h-3zM590 124h3v1h-3zM590 158h3v1h-3zM590 192h3v1h-3zM590 226h3v1h-3zM590 259h3v1h-3zM590 293h3v1h-3zM590 327h3v1h-3zM590 361h3v1h-3zM590 395h3v1h-3zM590 429h3v1h-3zM590 463h3v1h-3zM590 497h3v1h-3zM590 543h3v1h-3zM596 22h3v1h-3zM596 56h3v1h-3zM596 90h3v1h-3zM596 124h3v1h-3zM596 158h3v1h-3zM596 192h3v1h-3zM596 226h3v1h-3zM596 259h3v1h-3zM596 293h3v1h-3zM596 327h3v1h-3zM596 361h3v1h-3zM596 395h3v1h-3zM596 429h3v1h-3zM596 463h3v1h-3zM596 497h3v1h-3zM596 543h3v1h-3zM602 22h3v1h-3zM602 56h3v1h-3zM602 90h3v1h-3zM602 124h3v1h-3zM602 158h3v1h-3zM602 192h3v1h-3zM602 226h3v1h-3zM602 259h3v1h-3zM602 293h3v1h-3zM602 327h3v1h-3zM602 361h3v1h-3zM602 395h3v1h-3zM602 429h3v1h-3zM602 463h3v1h-3zM602 497h3v1h-3zM602 543h3v1h-3zM608 22h3v1h-3zM608 56h3v1h-3zM608 90h3v1h-3zM608 124h3v1h-3zM608 158h3v1h-3zM608 192h3v1h-3zM608 226h3v1h-3zM608 259h3v1h-3zM608 293h3v1h-3zM608 327h3v1h-3zM608 361h3v1h-3zM608 395h3v1h-3zM608 429h3v1h-3zM608 463h3v1h-3zM608 497h3v1h-3zM608 543h3v1h-3zM609 1h1v2h-1zM609 6h1v3h-1zM609 12h1v3h-1zM609 18h1v3h-1zM609 24h1v3h-1zM609 30h1v3h-1zM609 36h1v3h-1zM609 42h1v3h-1zM609 48h1v3h-1zM609 54h1v3h-1zM609 60h1v3h-1zM609 66h1v3h-1zM609 72h1v3h-1zM609 78h1v3h-1zM609 84h1v3h-1zM609 90h1v3h-1zM609 96h1v3h-1zM609 102h1v3h-1zM609 108h1v3h-1zM609 114h1v3h-1zM609 120h1v3h-1zM609 126h1v3h-1zM609 132h1v3h-1zM609 138h1v3h-1zM609 144h1v3h-1zM609 150h1v3h-1zM609 156h1v3h-1zM609 162h1v3h-1zM609 168h1v3h-1zM609 174h1v3h-1zM609 180h1v3h-1zM609 186h1v3h-1zM609 192h1v3h-1zM609 198h1v3h-1zM609 204h1v3h-1zM609 210h1v3h-1zM609 216h1v3h-1zM609 222h1v3h-1zM609 228h1v3h-1zM609 234h1v3h-1zM609 240h1v3h-1zM609 246h1v3h-1zM609 252h1v3h-1zM609 258h1v3h-1zM609 264h1v3h-1zM609 270h1v3h-1zM609 276h1v3h-1zM609 282h1v3h-1zM609 288h1v3h-1zM609 294h1v3h-1zM609 300h1v3h-1zM609 306h1v3h-1zM609 312h1v3h-1zM609 318h1v3h-1zM609 324h1v3h-1zM609 330h1v3h-1zM609 336h1v3h-1zM609 342h1v3h-1zM609 348h1v3h-1zM609 354h1v3h-1zM609 360h1v3h-1zM609 366h1v3h-1zM609 372h1v3h-1zM609 378h1v3h-1zM609 384h1v3h-1zM609 390h1v3h-1zM609 396h1v3h-1zM609 402h1v3h-1zM609 408h1v3h-1zM609 414h1v3h-1zM609 420h1v3h-1zM609 426h1v3h-1zM609 432h1v3h-1zM609 438h1v3h-1zM609 444h1v3h-1zM609 450h1v3h-1zM609 456h1v3h-1zM609 462h1v3h-1zM609 468h1v3h-1zM609 474h1v3h-1zM609 480h1v3h-1zM609 486h1v3h-1zM609 492h1v3h-1zM609 498h1v2h-1zM609 504h1v3h-1zM609 510h1v3h-1zM609 516h1v3h-1zM609 522h1v3h-1zM609 528h1v3h-1zM609 534h1v3h-1zM609 540h1v3h-1zM609 546h1v3h-1zM609 552h1v3h-1zM609 558h1v3h-1zM609 564h1v3h-1zM609 570h1v3h-1zM609 576h1v3h-1zM609 582h1v3h-1zM609 588h1v3h-1zM609 594h1v3h-1zM609 600h1v3h-1zM614 22h3v1h-3zM614 56h3v1h-3zM614 90h3v1h-3zM614 124h3v1h-3zM614 158h3v1h-3zM614 192h3v1h-3zM614 226h3v1h-3zM614 259h3v1h-3zM614 293h3v1h-3zM614 327h3v1h-3zM614 361h3v1h-3zM614 395h3v1h-3zM614 429h3v1h-3zM614 463h3v1h-3zM614 497h3v1h-3zM614 543h3v1h-3zM620 22h3v1h-3zM620 56h3v1h-3zM620 90h3v1h-3zM620 124h3v1h-3zM620 158h3v1h-3zM620 192h3v1h-3zM620 226h3v1h-3zM620 259h3v1h-3zM620 293h3v1h-3zM620 327h3v1h-3zM620 361h3v1h-3zM620 395h3v1h-3zM620 429h3v1h-3zM620 463h3v1h-3zM620 497h3v1h-3zM620 543h3v1h-3zM626 22h3v1h-3zM626 56h3v1h-3zM626 90h3v1h-3zM626 124h3v1h-3zM626 158h3v1h-3zM626 192h3v1h-3zM626 226h3v1h-3zM626 259h3v1h-3zM626 293h3v1h-3zM626 327h3v1h-3zM626 361h3v1h-3zM626 395h3v1h-3zM626 429h3v1h-3zM626 463h3v1h-3zM626 497h3v1h-3zM626 543h3v1h-3zM632 22h3v1h-3zM632 56h3v1h-3zM632 90h3v1h-3zM632 124h3v1h-3zM632 158h3v1h-3zM632 192h3v1h-3zM632 226h3v1h-3zM632 259h3v1h-3zM632 293h3v1h-3zM632 327h3v1h-3zM632 361h3v1h-3zM632 395h3v1h-3zM632 429h3v1h-3zM632 463h3v1h-3zM632 497h3v1h-3zM632 543h3v1h-3zM638 22h3v1h-3zM638 56h3v1h-3zM638 90h3v1h-3zM638 124h3v1h-3zM638 158h3v1h-3zM638 192h3v1h-3zM638 226h3v1h-3zM638 259h3v1h-3zM638 293h3v1h-3zM638 327h3v1h-3zM638 361h3v1h-3zM638 395h3v1h-3zM638 429h3v1h-3zM638 463h3v1h-3zM638 497h3v1h-3zM638 543h3v1h-3zM641 1h1v2h-1zM641 6h1v3h-1zM641 12h1v3h-1zM641 18h1v3h-1zM641 24h1v3h-1zM641 30h1v3h-1zM641 36h1v3h-1zM641 42h1v3h-1zM641 48h1v3h-1zM641 54h1v3h-1zM641 60h1v3h-1zM641 66h1v3h-1zM641 72h1v3h-1zM641 78h1v3h-1zM641 84h1v3h-1zM641 90h1v3h-1zM641 96h1v3h-1zM641 102h1v3h-1zM641 108h1v3h-1zM641 114h1v3h-1zM641 120h1v3h-1zM641 126h1v3h-1zM641 132h1v3h-1zM641 138h1v3h-1zM641 144h1v3h-1zM641 150h1v3h-1zM641 156h1v3h-1zM641 162h1v3h-1zM641 168h1v3h-1zM641 174h1v3h-1zM641 180h1v3h-1zM641 186h1v3h-1zM641 192h1v3h-1zM641 198h1v3h-1zM641 204h1v3h-1zM641 210h1v3h-1zM641 216h1v3h-1zM641 222h1v3h-1zM641 228h1v3h-1zM641 234h1v3h-1zM641 240h1v3h-1zM641 246h1v3h-1zM641 252h1v3h-1zM641 258h1v3h-1zM641 264h1v3h-1zM641 270h1v3h-1zM641 276h1v3h-1zM641 282h1v3h-1zM641 288h1v3h-1zM641 294h1v3h-1zM641 300h1v3h-1zM641 306h1v3h-1zM641 312h1v3h-1zM641 318h1v3h-1zM641 324h1v3h-1zM641 330h1v3h-1zM641 336h1v3h-1zM641 342h1v3h-1zM641 348h1v3h-1zM641 354h1v3h-1zM641 360h1v3h-1zM641 366h1v3h-1zM641 372h1v3h-1zM641 378h1v3h-1zM641 384h1v3h-1zM641 390h1v3h-1zM641 396h1v3h-1zM641 402h1v3h-1zM641 408h1v3h-1zM641 414h1v3h-1zM641 420h1v3h-1zM641 426h1v3h-1zM641 432h1v3h-1zM641 438h1v3h-1zM641 444h1v3h-1zM641 450h1v3h-1zM641 456h1v3h-1zM641 462h1v3h-1zM641 468h1v3h-1zM641 474h1v3h-1zM641 480h1v3h-1zM641 486h1v3h-1zM641 492h1v3h-1zM641 498h1v2h-1zM641 504h1v3h-1zM641 510h1v3h-1zM641 516h1v3h-1zM641 522h1v3h-1zM641 528h1v3h-1zM641 534h1v3h-1zM641 540h1v3h-1zM641 546h1v3h-1zM641 552h1v3h-1zM641 558h1v3h-1zM641 564h1v3h-1zM641 570h1v3h-1zM641 576h1v3h-1zM641 582h1v3h-1zM641 588h1v3h-1zM641 594h1v3h-1zM641 600h1v3h-1zM644 22h3v1h-3zM644 56h3v1h-3zM644 90h3v1h-3zM644 124h3v1h-3zM644 158h3v1h-3zM644 192h3v1h-3zM644 226h3v1h-3zM644 259h3v1h-3zM644 293h3v1h-3zM644 327h3v1h-3zM644 361h3v1h-3zM644 395h3v1h-3zM644 429h3v1h-3zM644 463h3v1h-3zM644 497h3v1h-3zM644 543h3v1h-3zM650 22h3v1h-3zM650 56h3v1h-3zM650 90h3v1h-3zM650 124h3v1h-3zM650 158h3v1h-3zM650 192h3v1h-3zM650 226h3v1h-3zM650 259h3v1h-3zM650 293h3v1h-3zM650 327h3v1h-3zM650 361h3v1h-3zM650 395h3v1h-3zM650 429h3v1h-3zM650 463h3v1h-3zM650 497h3v1h-3zM650 543h3v1h-3zM656 22h3v1h-3zM656 56h3v1h-3zM656 90h3v1h-3zM656 124h3v1h-3zM656 158h3v1h-3zM656 192h3v1h-3zM656 226h3v1h-3zM656 259h3v1h-3zM656 293h3v1h-3zM656 327h3v1h-3zM656 361h3v1h-3zM656 395h3v1h-3zM656 429h3v1h-3zM656 463h3v1h-3zM656 497h3v1h-3zM656 543h3v1h-3zM662 22h3v1h-3zM662 56h3v1h-3zM662 90h3v1h-3zM662 124h3v1h-3zM662 158h3v1h-3zM662 192h3v1h-3zM662 226h3v1h-3zM662 259h3v1h-3zM662 293h3v1h-3zM662 327h3v1h-3zM662 361h3v1h-3zM662 395h3v1h-3zM662 429h3v1h-3zM662 463h3v1h-3zM662 497h3v1h-3zM662 543h3v1h-3zM668 22h3v1h-3zM668 56h3v1h-3zM668 90h3v1h-3zM668 124h3v1h-3zM668 158h3v1h-3zM668 192h3v1h-3zM668 226h3v1h-3zM668 259h3v1h-3zM668 293h3v1h-3zM668 327h3v1h-3zM668 361h3v1h-3zM668 395h3v1h-3zM668 429h3v1h-3zM668 463h3v1h-3zM668 497h3v1h-3zM668 543h3v1h-3zM673 1h1v2h-1zM673 6h1v3h-1zM673 12h1v3h-1zM673 18h1v3h-1zM673 24h1v3h-1zM673 30h1v3h-1zM673 36h1v3h-1zM673 42h1v3h-1zM673 48h1v3h-1zM673 54h1v3h-1zM673 60h1v3h-1zM673 66h1v3h-1zM673 72h1v3h-1zM673 78h1v3h-1zM673 84h1v3h-1zM673 90h1v3h-1zM673 96h1v3h-1zM673 102h1v3h-1zM673 108h1v3h-1zM673 114h1v3h-1zM673 120h1v3h-1zM673 126h1v3h-1zM673 132h1v3h-1zM673 138h1v3h-1zM673 144h1v3h-1zM673 150h1v3h-1zM673 156h1v3h-1zM673 162h1v3h-1zM673 168h1v3h-1zM673 174h1v3h-1zM673 180h1v3h-1zM673 186h1v3h-1zM673 192h1v3h-1zM673 198h1v3h-1zM673 204h1v3h-1zM673 210h1v3h-1zM673 216h1v3h-1zM673 222h1v3h-1zM673 228h1v3h-1zM673 234h1v3h-1zM673 240h1v3h-1zM673 246h1v3h-1zM673 252h1v3h-1zM673 258h1v3h-1zM673 264h1v3h-1zM673 270h1v3h-1zM673 276h1v3h-1zM673 282h1v3h-1zM673 288h1v3h-1zM673 294h1v3h-1zM673 300h1v3h-1zM673 306h1v3h-1zM673 312h1v3h-1zM673 318h1v3h-1zM673 324h1v3h-1zM673 330h1v3h-1zM673 336h1v3h-1zM673 342h1v3h-1zM673 348h1v3h-1zM673 354h1v3h-1zM673 360h1v3h-1zM673 366h1v3h-1zM673 372h1v3h-1zM673 378h1v3h-1zM673 384h1v3h-1zM673 390h1v3h-1zM673 396h1v3h-1zM673 402h1v3h-1zM673 408h1v3h-1zM673 414h1v3h-1zM673 420h1v3h-1zM673 426h1v3h-1zM673 432h1v3h-1zM673 438h1v3h-1zM673 444h1v3h-1zM673 450h1v3h-1zM673 456h1v3h-1zM673 462h1v3h-1zM673 468h1v3h-1zM673 474h1v3h-1zM673 480h1v3h-1zM673 486h1v3h-1zM673 492h1v3h-1zM673 498h1v2h-1zM673 504h1v3h-1zM673 510h1v3h-1zM673 516h1v3h-1zM673 522h1v3h-1zM673 528h1v3h-1zM673 534h1v3h-1zM673 540h1v3h-1zM673 546h1v3h-1zM673 552h1v3h-1zM673 558h1v3h-1zM673 564h1v3h-1zM673 570h1v3h-1zM673 576h1v3h-1zM673 582h1v3h-1zM673 588h1v3h-1zM673 594h1v3h-1zM673 600h1v3h-1zM674 22h3v1h-3zM674 56h3v1h-3zM674 90h3v1h-3zM674 124h3v1h-3zM674 158h3v1h-3zM674 192h3v1h-3zM674 226h3v1h-3zM674 259h3v1h-3zM674 293h3v1h-3zM674 327h3v1h-3zM674 361h3v1h-3zM674 395h3v1h-3zM674 429h3v1h-3zM674 463h3v1h-3zM674 497h3v1h-3zM674 543h3v1h-3zM680 22h3v1h-3zM680 56h3v1h-3zM680 90h3v1h-3zM680 124h3v1h-3zM680 158h3v1h-3zM680 192h3v1h-3zM680 226h3v1h-3zM680 259h3v1h-3zM680 293h3v1h-3zM680 327h3v1h-3zM680 361h3v1h-3zM680 395h3v1h-3zM680 429h3v1h-3zM680 463h3v1h-3zM680 497h3v1h-3zM680 543h3v1h-3zM686 22h3v1h-3zM686 56h3v1h-3zM686 90h3v1h-3zM686 124h3v1h-3zM686 158h3v1h-3zM686 192h3v1h-3zM686 226h3v1h-3zM686 259h3v1h-3zM686 293h3v1h-3zM686 327h3v1h-3zM686 361h3v1h-3zM686 395h3v1h-3zM686 429h3v1h-3zM686 463h3v1h-3zM686 497h3v1h-3zM686 543h3v1h-3zM692 22h3v1h-3zM692 56h3v1h-3zM692 90h3v1h-3zM692 124h3v1h-3zM692 158h3v1h-3zM692 192h3v1h-3zM692 226h3v1h-3zM692 259h3v1h-3zM692 293h3v1h-3zM692 327h3v1h-3zM692 361h3v1h-3zM692 395h3v1h-3zM692 429h3v1h-3zM692 463h3v1h-3zM692 497h3v1h-3zM692 543h3v1h-3zM698 22h3v1h-3zM698 56h3v1h-3zM698 90h3v1h-3zM698 124h3v1h-3zM698 158h3v1h-3zM698 192h3v1h-3zM698 226h3v1h-3zM698 259h3v1h-3zM698 293h3v1h-3zM698 327h3v1h-3zM698 361h3v1h-3zM698 395h3v1h-3zM698 429h3v1h-3zM698 463h3v1h-3zM698 497h3v1h-3zM698 543h3v1h-3zM704 22h3v1h-3zM704 56h3v1h-3zM704 90h3v1h-3zM704 124h3v1h-3zM704 158h3v1h-3zM704 192h3v1h-3zM704 226h3v1h-3zM704 259h3v1h-3zM704 293h3v1h-3zM704 327h3v1h-3zM704 361h3v1h-3zM704 395h3v1h-3zM704 429h3v1h-3zM704 463h3v1h-3zM704 497h3v1h-3zM704 543h3v1h-3zM705 1h1v2h-1zM705 6h1v3h-1zM705 12h1v3h-1zM705 18h1v3h-1zM705 24h1v3h-1zM705 30h1v3h-1zM705 36h1v3h-1zM705 42h1v3h-1zM705 48h1v3h-1zM705 54h1v3h-1zM705 60h1v3h-1zM705 66h1v3h-1zM705 72h1v3h-1zM705 78h1v3h-1zM705 84h1v3h-1zM705 90h1v3h-1zM705 96h1v3h-1zM705 102h1v3h-1zM705 108h1v3h-1zM705 114h1v3h-1zM705 120h1v3h-1zM705 126h1v3h-1zM705 132h1v3h-1zM705 138h1v3h-1zM705 144h1v3h-1zM705 150h1v3h-1zM705 156h1v3h-1zM705 162h1v3h-1zM705 168h1v3h-1zM705 174h1v3h-1zM705 180h1v3h-1zM705 186h1v3h-1zM705 192h1v3h-1zM705 198h1v3h-1zM705 204h1v3h-1zM705 210h1v3h-1zM705 216h1v3h-1zM705 222h1v3h-1zM705 228h1v3h-1zM705 234h1v3h-1zM705 240h1v3h-1zM705 246h1v3h-1zM705 252h1v3h-1zM705 258h1v3h-1zM705 264h1v3h-1zM705 270h1v3h-1zM705 276h1v3h-1zM705 282h1v3h-1zM705 288h1v3h-1zM705 294h1v3h-1zM705 300h1v3h-1zM705 306h1v3h-1zM705 312h1v3h-1zM705 318h1v3h-1zM705 324h1v3h-1zM705 330h1v3h-1zM705 336h1v3h-1zM705 342h1v3h-1zM705 348h1v3h-1zM705 354h1v3h-1zM705 360h1v3h-1zM705 366h1v3h-1zM705 372h1v3h-1zM705 378h1v3h-1zM705 384h1v3h-1zM705 390h1v3h-1zM705 396h1v3h-1zM705 402h1v3h-1zM705 408h1v3h-1zM705 414h1v3h-1zM705 420h1v3h-1zM705 426h1v3h-1zM705 432h1v3h-1zM705 438h1v3h-1zM705 444h1v3h-1zM705 450h1v3h-1zM705 456h1v3h-1zM705 462h1v3h-1zM705 468h1v3h-1zM705 474h1v3h-1zM705 480h1v3h-1zM705 486h1v3h-1zM705 492h1v3h-1zM705 498h1v2h-1zM705 504h1v3h-1zM705 510h1v3h-1zM705 516h1v3h-1zM705 522h1v3h-1zM705 528h1v3h-1zM705 534h1v3h-1zM705 540h1v3h-1zM705 546h1v3h-1zM705 552h1v3h-1zM705 558h1v3h-1zM705 564h1v3h-1zM705 570h1v3h-1zM705 576h1v3h-1zM705 582h1v3h-1zM705 588h1v3h-1zM705 594h1v3h-1zM705 600h1v3h-1zM710 22h3v1h-3zM710 56h3v1h-3zM710 90h3v1h-3zM710 124h3v1h-3zM710 158h3v1h-3zM710 192h3v1h-3zM710 226h3v1h-3zM710 259h3v1h-3zM710 293h3v1h-3zM710 327h3v1h-3zM710 361h3v1h-3zM710 395h3v1h-3zM710 429h3v1h-3zM710 463h3v1h-3zM710 497h3v1h-3zM710 543h3v1h-3zM716 22h3v1h-3zM716 56h3v1h-3zM716 90h3v1h-3zM716 124h3v1h-3zM716 158h3v1h-3zM716 192h3v1h-3zM716 226h3v1h-3zM716 259h3v1h-3zM716 293h3v1h-3zM716 327h3v1h-3zM716 361h3v1h-3zM716 395h3v1h-3zM716 429h3v1h-3zM716 463h3v1h-3zM716 497h3v1h-3zM716 543h3v1h-3zM722 22h3v1h-3zM722 56h3v1h-3zM722 90h3v1h-3zM722 124h3v1h-3zM722 158h3v1h-3zM722 192h3v1h-3zM722 226h3v1h-3zM722 259h3v1h-3zM722 293h3v1h-3zM722 327h3v1h-3zM722 361h3v1h-3zM722 395h3v1h-3zM722 429h3v1h-3zM722 463h3v1h-3zM722 497h3v1h-3zM722 543h3v1h-3zM728 22h3v1h-3zM728 56h3v1h-3zM728 90h3v1h-3zM728 124h3v1h-3zM728 158h3v1h-3zM728 192h3v1h-3zM728 226h3v1h-3zM728 259h3v1h-3zM728 293h3v1h-3zM728 327h3v1h-3zM728 361h3v1h-3zM728 395h3v1h-3zM728 429h3v1h-3zM728 463h3v1h-3zM728 497h3v1h-3zM728 543h3v1h-3zM734 22h3v1h-3zM734 56h3v1h-3zM734 90h3v1h-3zM734 124h3v1h-3zM734 158h3v1h-3zM734 192h3v1h-3zM734 226h3v1h-3zM734 259h3v1h-3zM734 293h3v1h-3zM734 327h3v1h-3zM734 361h3v1h-3zM734 395h3v1h-3zM734 429h3v1h-3zM734 463h3v1h-3zM734 497h3v1h-3zM734 543h3v1h-3zM737 1h1v2h-1zM737 6h1v3h-1zM737 12h1v3h-1zM737 18h1v3h-1zM737 24h1v3h-1zM737 30h1v3h-1zM737 36h1v3h-1zM737 42h1v3h-1zM737 48h1v3h-1zM737 54h1v3h-1zM737 60h1v3h-1zM737 66h1v3h-1zM737 72h1v3h-1zM737 78h1v3h-1zM737 84h1v3h-1zM737 90h1v3h-1zM737 96h1v3h-1zM737 102h1v3h-1zM737 108h1v3h-1zM737 114h1v3h-1zM737 120h1v3h-1zM737 126h1v3h-1zM737 132h1v3h-1zM737 138h1v3h-1zM737 144h1v3h-1zM737 150h1v3h-1zM737 156h1v3h-1zM737 162h1v3h-1zM737 168h1v3h-1zM737 174h1v3h-1zM737 180h1v3h-1zM737 186h1v3h-1zM737 192h1v3h-1zM737 198h1v3h-1zM737 204h1v3h-1zM737 210h1v3h-1zM737 216h1v3h-1zM737 222h1v3h-1zM737 228h1v3h-1zM737 234h1v3h-1zM737 240h1v3h-1zM737 246h1v3h-1zM737 252h1v3h-1zM737 258h1v3h-1zM737 264h1v3h-1zM737 270h1v3h-1zM737 276h1v3h-1zM737 282h1v3h-1zM737 288h1v3h-1zM737 294h1v3h-1zM737 300h1v3h-1zM737 306h1v3h-1zM737 312h1v3h-1zM737 318h1v3h-1zM737 324h1v3h-1zM737 330h1v3h-1zM737 336h1v3h-1zM737 342h1v3h-1zM737 348h1v3h-1zM737 354h1v3h-1zM737 360h1v3h-1zM737 366h1v3h-1zM737 372h1v3h-1zM737 378h1v3h-1zM737 384h1v3h-1zM737 390h1v3h-1zM737 396h1v3h-1zM737 402h1v3h-1zM737 408h1v3h-1zM737 414h1v3h-1zM737 420h1v3h-1zM737 426h1v3h-1zM737 432h1v3h-1zM737 438h1v3h-1zM737 444h1v3h-1zM737 450h1v3h-1zM737 456h1v3h-1zM737 462h1v3h-1zM737 468h1v3h-1zM737 474h1v3h-1zM737 480h1v3h-1zM737 486h1v3h-1zM737 492h1v3h-1zM737 498h1v2h-1zM737 504h1v3h-1zM737 510h1v3h-1zM737 516h1v3h-1zM737 522h1v3h-1zM737 528h1v3h-1zM737 534h1v3h-1zM737 540h1v3h-1zM737 546h1v3h-1zM737 552h1v3h-1zM737 558h1v3h-1zM737 564h1v3h-1zM737 570h1v3h-1zM737 576h1v3h-1zM737 582h1v3h-1zM737 588h1v3h-1zM737 594h1v3h-1zM737 600h1v3h-1zM740 22h3v1h-3zM740 56h3v1h-3zM740 90h3v1h-3zM740 124h3v1h-3zM740 158h3v1h-3zM740 192h3v1h-3zM740 226h3v1h-3zM740 259h3v1h-3zM740 293h3v1h-3zM740 327h3v1h-3zM740 361h3v1h-3zM740 395h3v1h-3zM740 429h3v1h-3zM740 463h3v1h-3zM740 497h3v1h-3zM740 543h3v1h-3zM746 22h3v1h-3zM746 56h3v1h-3zM746 90h3v1h-3zM746 124h3v1h-3zM746 158h3v1h-3zM746 192h3v1h-3zM746 226h3v1h-3zM746 259h3v1h-3zM746 293h3v1h-3zM746 327h3v1h-3zM746 361h3v1h-3zM746 395h3v1h-3zM746 429h3v1h-3zM746 463h3v1h-3zM746 497h3v1h-3zM746 543h3v1h-3zM752 22h3v1h-3zM752 56h3v1h-3zM752 90h3v1h-3zM752 124h3v1h-3zM752 158h3v1h-3zM752 192h3v1h-3zM752 226h3v1h-3zM752 259h3v1h-3zM752 293h3v1h-3zM752 327h3v1h-3zM752 361h3v1h-3zM752 395h3v1h-3zM752 429h3v1h-3zM752 463h3v1h-3zM752 497h3v1h-3zM752 543h3v1h-3zM758 22h3v1h-3zM758 56h3v1h-3zM758 90h3v1h-3zM758 124h3v1h-3zM758 158h3v1h-3zM758 192h3v1h-3zM758 226h3v1h-3zM758 259h3v1h-3zM758 293h3v1h-3zM758 327h3v1h-3zM758 361h3v1h-3zM758 395h3v1h-3zM758 429h3v1h-3zM758 463h3v1h-3zM758 497h3v1h-3zM758 543h3v1h-3zM764 22h3v1h-3zM764 56h3v1h-3zM764 90h3v1h-3zM764 124h3v1h-3zM764 158h3v1h-3zM764 192h3v1h-3zM764 226h3v1h-3zM764 259h3v1h-3zM764 293h3v1h-3zM764 327h3v1h-3zM764 361h3v1h-3zM764 395h3v1h-3zM764 429h3v1h-3zM764 463h3v1h-3zM764 497h3v1h-3zM764 543h3v1h-3zM769 1h1v2h-1zM769 6h1v3h-1zM769 12h1v3h-1zM769 18h1v3h-1zM769 24h1v3h-1zM769 30h1v3h-1zM769 36h1v3h-1zM769 42h1v3h-1zM769 48h1v3h-1zM769 54h1v3h-1zM769 60h1v3h-1zM769 66h1v3h-1zM769 72h1v3h-1zM769 78h1v3h-1zM769 84h1v3h-1zM769 90h1v3h-1zM769 96h1v3h-1zM769 102h1v3h-1zM769 108h1v3h-1zM769 114h1v3h-1zM769 120h1v3h-1zM769 126h1v3h-1zM769 132h1v3h-1zM769 138h1v3h-1zM769 144h1v3h-1zM769 150h1v3h-1zM769 156h1v3h-1zM769 162h1v3h-1zM769 168h1v3h-1zM769 174h1v3h-1zM769 180h1v3h-1zM769 186h1v3h-1zM769 192h1v3h-1zM769 198h1v3h-1zM769 204h1v3h-1zM769 210h1v3h-1zM769 216h1v3h-1zM769 222h1v3h-1zM769 228h1v3h-1zM769 234h1v3h-1zM769 240h1v3h-1zM769 246h1v3h-1zM769 252h1v3h-1zM769 258h1v3h-1zM769 264h1v3h-1zM769 270h1v3h-1zM769 276h1v3h-1zM769 282h1v3h-1zM769 288h1v3h-1zM769 294h1v3h-1zM769 300h1v3h-1zM769 306h1v3h-1zM769 312h1v3h-1zM769 318h1v3h-1zM769 324h1v3h-1zM769 330h1v3h-1zM769 336h1v3h-1zM769 342h1v3h-1zM769 348h1v3h-1zM769 354h1v3h-1zM769 360h1v3h-1zM769 366h1v3h-1zM769 372h1v3h-1zM769 378h1v3h-1zM769 384h1v3h-1zM769 390h1v3h-1zM769 396h1v3h-1zM769 402h1v3h-1zM769 408h1v3h-1zM769 414h1v3h-1zM769 420h1v3h-1zM769 426h1v3h-1zM769 432h1v3h-1zM769 438h1v3h-1zM769 444h1v3h-1zM769 450h1v3h-1zM769 456h1v3h-1zM769 462h1v3h-1zM769 468h1v3h-1zM769 474h1v3h-1zM769 480h1v3h-1zM769 486h1v3h-1zM769 492h1v3h-1zM769 498h1v2h-1zM769 504h1v3h-1zM769 510h1v3h-1zM769 516h1v3h-1zM769 522h1v3h-1zM769 528h1v3h-1zM769 534h1v3h-1zM769 540h1v3h-1zM769 546h1v3h-1zM769 552h1v3h-1zM769 558h1v3h-1zM769 564h1v3h-1zM769 570h1v3h-1zM769 576h1v3h-1zM769 582h1v3h-1zM769 588h1v3h-1zM769 594h1v3h-1zM769 600h1v3h-1zM770 22h3v1h-3zM770 56h3v1h-3zM770 90h3v1h-3zM770 124h3v1h-3zM770 158h3v1h-3zM770 192h3v1h-3zM770 226h3v1h-3zM770 259h3v1h-3zM770 293h3v1h-3zM770 327h3v1h-3zM770 361h3v1h-3zM770 395h3v1h-3zM770 429h3v1h-3zM770 463h3v1h-3zM770 497h3v1h-3zM770 543h3v1h-3zM776 22h3v1h-3zM776 56h3v1h-3zM776 90h3v1h-3zM776 124h3v1h-3zM776 158h3v1h-3zM776 192h3v1h-3zM776 226h3v1h-3zM776 259h3v1h-3zM776 293h3v1h-3zM776 327h3v1h-3zM776 361h3v1h-3zM776 395h3v1h-3zM776 429h3v1h-3zM776 463h3v1h-3zM776 497h3v1h-3zM776 543h3v1h-3zM782 22h3v1h-3zM782 56h3v1h-3zM782 90h3v1h-3zM782 124h3v1h-3zM782 158h3v1h-3zM782 192h3v1h-3zM782 226h3v1h-3zM782 259h3v1h-3zM782 293h3v1h-3zM782 327h3v1h-3zM782 361h3v1h-3zM782 395h3v1h-3zM782 429h3v1h-3zM782 463h3v1h-3zM782 497h3v1h-3zM782 543h3v1h-3zM788 22h3v1h-3zM788 56h3v1h-3zM788 90h3v1h-3zM788 124h3v1h-3zM788 158h3v1h-3zM788 192h3v1h-3zM788 226h3v1h-3zM788 259h3v1h-3zM788 293h3v1h-3zM788 327h3v1h-3zM788 361h3v1h-3zM788 395h3v1h-3zM788 429h3v1h-3zM788 463h3v1h-3zM788 497h3v1h-3zM788 543h3v1h-3zM794 22h3v1h-3zM794 56h3v1h-3zM794 90h3v1h-3zM794 124h3v1h-3zM794 158h3v1h-3zM794 192h3v1h-3zM794 226h3v1h-3zM794 259h3v1h-3zM794 293h3v1h-3zM794 327h3v1h-3zM794 361h3v1h-3zM794 395h3v1h-3zM794 429h3v1h-3zM794 463h3v1h-3zM794 497h3v1h-3zM794 543h3v1h-3zM800 22h3v1h-3zM800 56h3v1h-3zM800 90h3v1h-3zM800 124h3v1h-3zM800 158h3v1h-3zM800 192h3v1h-3zM800 226h3v1h-3zM800 259h3v1h-3zM800 293h3v1h-3zM800 327h3v1h-3zM800 361h3v1h-3zM800 395h3v1h-3zM800 429h3v1h-3zM800 463h3v1h-3zM800 497h3v1h-3zM800 543h3v1h-3zM801 1h1v2h-1zM801 6h1v3h-1zM801 12h1v3h-1zM801 18h1v3h-1zM801 24h1v3h-1zM801 30h1v3h-1zM801 36h1v3h-1zM801 42h1v3h-1zM801 48h1v3h-1zM801 54h1v3h-1zM801 60h1v3h-1zM801 66h1v3h-1zM801 72h1v3h-1zM801 78h1v3h-1zM801 84h1v3h-1zM801 90h1v3h-1zM801 96h1v3h-1zM801 102h1v3h-1zM801 108h1v3h-1zM801 114h1v3h-1zM801 120h1v3h-1zM801 126h1v3h-1zM801 132h1v3h-1zM801 138h1v3h-1zM801 144h1v3h-1zM801 150h1v3h-1zM801 156h1v3h-1zM801 162h1v3h-1zM801 168h1v3h-1zM801 174h1v3h-1zM801 180h1v3h-1zM801 186h1v3h-1zM801 192h1v3h-1zM801 198h1v3h-1zM801 204h1v3h-1zM801 210h1v3h-1zM801 216h1v3h-1zM801 222h1v3h-1zM801 228h1v3h-1zM801 234h1v3h-1zM801 240h1v3h-1zM801 246h1v3h-1zM801 252h1v3h-1zM801 258h1v3h-1zM801 264h1v3h-1zM801 270h1v3h-1zM801 276h1v3h-1zM801 282h1v3h-1zM801 288h1v3h-1zM801 294h1v3h-1zM801 300h1v3h-1zM801 306h1v3h-1zM801 312h1v3h-1zM801 318h1v3h-1zM801 324h1v3h-1zM801 330h1v3h-1zM801 336h1v3h-1zM801 342h1v3h-1zM801 348h1v3h-1zM801 354h1v3h-1zM801 360h1v3h-1zM801 366h1v3h-1zM801 372h1v3h-1zM801 378h1v3h-1zM801 384h1v3h-1zM801 390h1v3h-1zM801 396h1v3h-1zM801 402h1v3h-1zM801 408h1v3h-1zM801 414h1v3h-1zM801 420h1v3h-1zM801 426h1v3h-1zM801 432h1v3h-1zM801 438h1v3h-1zM801 444h1v3h-1zM801 450h1v3h-1zM801 456h1v3h-1zM801 462h1v3h-1zM801 468h1v3h-1zM801 474h1v3h-1zM801 480h1v3h-1zM801 486h1v3h-1zM801 492h1v3h-1zM801 498h1v2h-1zM801 504h1v3h-1zM801 510h1v3h-1zM801 516h1v3h-1zM801 522h1v3h-1zM801 528h1v3h-1zM801 534h1v3h-1zM801 540h1v3h-1zM801 546h1v3h-1zM801 552h1v3h-1zM801 558h1v3h-1zM801 564h1v3h-1zM801 570h1v3h-1zM801 576h1v3h-1zM801 582h1v3h-1zM801 588h1v3h-1zM801 594h1v3h-1zM801 600h1v3h-1zM806 22h3v1h-3zM806 56h3v1h-3zM806 90h3v1h-3zM806 124h3v1h-3zM806 158h3v1h-3zM806 192h3v1h-3zM806 226h3v1h-3zM806 259h3v1h-3zM806 293h3v1h-3zM806 327h3v1h-3zM806 361h3v1h-3zM806 395h3v1h-3zM806 429h3v1h-3zM806 463h3v1h-3zM806 497h3v1h-3zM806 543h3v1h-3zM812 22h3v1h-3zM812 56h3v1h-3zM812 90h3v1h-3zM812 124h3v1h-3zM812 158h3v1h-3zM812 192h3v1h-3zM812 226h3v1h-3zM812 259h3v1h-3zM812 293h3v1h-3zM812 327h3v1h-3zM812 361h3v1h-3zM812 395h3v1h-3zM812 429h3v1h-3zM812 463h3v1h-3zM812 497h3v1h-3zM812 543h3v1h-3zM818 22h3v1h-3zM818 56h3v1h-3zM818 90h3v1h-3zM818 124h3v1h-3zM818 158h3v1h-3zM818 192h3v1h-3zM818 226h3v1h-3zM818 259h3v1h-3zM818 293h3v1h-3zM818 327h3v1h-3zM818 361h3v1h-3zM818 395h3v1h-3zM818 429h3v1h-3zM818 463h3v1h-3zM818 497h3v1h-3zM818 543h3v1h-3zM824 22h3v1h-3zM824 56h3v1h-3zM824 90h3v1h-3zM824 124h3v1h-3zM824 158h3v1h-3zM824 192h3v1h-3zM824 226h3v1h-3zM824 259h3v1h-3zM824 293h3v1h-3zM824 327h3v1h-3zM824 361h3v1h-3zM824 395h3v1h-3zM824 429h3v1h-3zM824 463h3v1h-3zM824 497h3v1h-3zM824 543h3v1h-3zM830 22h3v1h-3zM830 56h3v1h-3zM830 90h3v1h-3zM830 124h3v1h-3zM830 158h3v1h-3zM830 192h3v1h-3zM830 226h3v1h-3zM830 259h3v1h-3zM830 293h3v1h-3zM830 327h3v1h-3zM830 361h3v1h-3zM830 395h3v1h-3zM830 429h3v1h-3zM830 463h3v1h-3zM830 497h3v1h-3zM830 543h3v1h-3zM833 1h1v2h-1zM833 6h1v3h-1zM833 12h1v3h-1zM833 18h1v3h-1zM833 24h1v3h-1zM833 30h1v3h-1zM833 36h1v3h-1zM833 42h1v3h-1zM833 48h1v3h-1zM833 54h1v3h-1zM833 60h1v3h-1zM833 66h1v3h-1zM833 72h1v3h-1zM833 78h1v3h-1zM833 84h1v3h-1zM833 90h1v3h-1zM833 96h1v3h-1zM833 102h1v3h-1zM833 108h1v3h-1zM833 114h1v3h-1zM833 120h1v3h-1zM833 126h1v3h-1zM833 132h1v3h-1zM833 138h1v3h-1zM833 144h1v3h-1zM833 150h1v3h-1zM833 156h1v3h-1zM833 162h1v3h-1zM833 168h1v3h-1zM833 174h1v3h-1zM833 180h1v3h-1zM833 186h1v3h-1zM833 192h1v3h-1zM833 198h1v3h-1zM833 204h1v3h-1zM833 210h1v3h-1zM833 216h1v3h-1zM833 222h1v3h-1zM833 228h1v3h-1zM833 234h1v3h-1zM833 240h1v3h-1zM833 246h1v3h-1zM833 252h1v3h-1zM833 258h1v3h-1zM833 264h1v3h-1zM833 270h1v3h-1zM833 276h1v3h-1zM833 282h1v3h-1zM833 288h1v3h-1zM833 294h1v3h-1zM833 300h1v3h-1zM833 306h1v3h-1zM833 312h1v3h-1zM833 318h1v3h-1zM833 324h1v3h-1zM833 330h1v3h-1zM833 336h1v3h-1zM833 342h1v3h-1zM833 348h1v3h-1zM833 354h1v3h-1zM833 360h1v3h-1zM833 366h1v3h-1zM833 372h1v3h-1zM833 378h1v3h-1zM833 384h1v3h-1zM833 390h1v3h-1zM833 396h1v3h-1zM833 402h1v3h-1zM833 408h1v3h-1zM833 414h1v3h-1zM833 420h1v3h-1zM833 426h1v3h-1zM833 432h1v3h-1zM833 438h1v3h-1zM833 444h1v3h-1zM833 450h1v3h-1zM833 456h1v3h-1zM833 462h1v3h-1zM833 468h1v3h-1zM833 474h1v3h-1zM833 480h1v3h-1zM833 486h1v3h-1zM833 492h1v3h-1zM833 498h1v2h-1zM833 504h1v3h-1zM833 510h1v3h-1zM833 516h1v3h-1zM833 522h1v3h-1zM833 528h1v3h-1zM833 534h1v3h-1zM833 540h1v3h-1zM833 546h1v3h-1zM833 552h1v3h-1zM833 558h1v3h-1zM833 564h1v3h-1zM833 570h1v3h-1zM833 576h1v3h-1zM833 582h1v3h-1zM833 588h1v3h-1zM833 594h1v3h-1zM833 600h1v3h-1zM836 22h3v1h-3zM836 56h3v1h-3zM836 90h3v1h-3zM836 124h3v1h-3zM836 158h3v1h-3zM836 192h3v1h-3zM836 226h3v1h-3zM836 259h3v1h-3zM836 293h3v1h-3zM836 327h3v1h-3zM836 361h3v1h-3zM836 395h3v1h-3zM836 429h3v1h-3zM836 463h3v1h-3zM836 497h3v1h-3zM836 543h3v1h-3zM842 22h3v1h-3zM842 56h3v1h-3zM842 90h3v1h-3zM842 124h3v1h-3zM842 158h3v1h-3zM842 192h3v1h-3zM842 226h3v1h-3zM842 259h3v1h-3zM842 293h3v1h-3zM842 327h3v1h-3zM842 361h3v1h-3zM842 395h3v1h-3zM842 429h3v1h-3zM842 463h3v1h-3zM842 497h3v1h-3zM842 543h3v1h-3zM848 22h3v1h-3zM848 56h3v1h-3zM848 90h3v1h-3zM848 124h3v1h-3zM848 158h3v1h-3zM848 192h3v1h-3zM848 226h3v1h-3zM848 259h3v1h-3zM848 293h3v1h-3zM848 327h3v1h-3zM848 361h3v1h-3zM848 395h3v1h-3zM848 429h3v1h-3zM848 463h3v1h-3zM848 497h3v1h-3zM848 543h3v1h-3zM854 22h3v1h-3zM854 56h3v1h-3zM854 90h3v1h-3zM854 124h3v1h-3zM854 158h3v1h-3zM854 192h3v1h-3zM854 226h3v1h-3zM854 259h3v1h-3zM854 293h3v1h-3zM854 327h3v1h-3zM854 361h3v1h-3zM854 395h3v1h-3zM854 429h3v1h-3zM854 463h3v1h-3zM854 497h3v1h-3zM854 543h3v1h-3zM860 22h3v1h-3zM860 56h3v1h-3zM860 90h3v1h-3zM860 124h3v1h-3zM860 158h3v1h-3zM860 192h3v1h-3zM860 226h3v1h-3zM860 259h3v1h-3zM860 293h3v1h-3zM860 327h3v1h-3zM860 361h3v1h-3zM860 395h3v1h-3zM860 429h3v1h-3zM860 463h3v1h-3zM860 497h3v1h-3zM860 543h3v1h-3zM865 1h1v2h-1zM865 6h1v3h-1zM865 12h1v3h-1zM865 18h1v3h-1zM865 24h1v3h-1zM865 30h1v3h-1zM865 36h1v3h-1zM865 42h1v3h-1zM865 48h1v3h-1zM865 54h1v3h-1zM865 60h1v3h-1zM865 66h1v3h-1zM865 72h1v3h-1zM865 78h1v3h-1zM865 84h1v3h-1zM865 90h1v3h-1zM865 96h1v3h-1zM865 102h1v3h-1zM865 108h1v3h-1zM865 114h1v3h-1zM865 120h1v3h-1zM865 126h1v3h-1zM865 132h1v3h-1zM865 138h1v3h-1zM865 144h1v3h-1zM865 150h1v3h-1zM865 156h1v3h-1zM865 162h1v3h-1zM865 168h1v3h-1zM865 174h1v3h-1zM865 180h1v3h-1zM865 186h1v3h-1zM865 192h1v3h-1zM865 198h1v3h-1zM865 204h1v3h-1zM865 210h1v3h-1zM865 216h1v3h-1zM865 222h1v3h-1zM865 228h1v3h-1zM865 234h1v3h-1zM865 240h1v3h-1zM865 246h1v3h-1zM865 252h1v3h-1zM865 258h1v3h-1zM865 264h1v3h-1zM865 270h1v3h-1zM865 276h1v3h-1zM865 282h1v3h-1zM865 288h1v3h-1zM865 294h1v3h-1zM865 300h1v3h-1zM865 306h1v3h-1zM865 312h1v3h-1zM865 318h1v3h-1zM865 324h1v3h-1zM865 330h1v3h-1zM865 336h1v3h-1zM865 342h1v3h-1zM865 348h1v3h-1zM865 354h1v3h-1zM865 360h1v3h-1zM865 366h1v3h-1zM865 372h1v3h-1zM865 378h1v3h-1zM865 384h1v3h-1zM865 390h1v3h-1zM865 396h1v3h-1zM865 402h1v3h-1zM865 408h1v3h-1zM865 414h1v3h-1zM865 420h1v3h-1zM865 426h1v3h-1zM865 432h1v3h-1zM865 438h1v3h-1zM865 444h1v3h-1zM865 450h1v3h-1zM865 456h1v3h-1zM865 462h1v3h-1zM865 468h1v3h-1zM865 474h1v3h-1zM865 480h1v3h-1zM865 486h1v3h-1zM865 492h1v3h-1zM865 498h1v2h-1zM865 504h1v3h-1zM865 510h1v3h-1zM865 516h1v3h-1zM865 522h1v3h-1zM865 528h1v3h-1zM865 534h1v3h-1zM865 540h1v3h-1zM865 546h1v3h-1zM865 552h1v3h-1zM865 558h1v3h-1zM865 564h1v3h-1zM865 570h1v3h-1zM865 576h1v3h-1zM865 582h1v3h-1zM865 588h1v3h-1zM865 594h1v3h-1zM865 600h1v3h-1zM866 22h3v1h-3zM866 56h3v1h-3zM866 90h3v1h-3zM866 124h3v1h-3zM866 158h3v1h-3zM866 192h3v1h-3zM866 226h3v1h-3zM866 259h3v1h-3zM866 293h3v1h-3zM866 327h3v1h-3zM866 361h3v1h-3zM866 395h3v1h-3zM866 429h3v1h-3zM866 463h3v1h-3zM866 497h3v1h-3zM866 543h3v1h-3zM872 22h3v1h-3zM872 56h3v1h-3zM872 90h3v1h-3zM872 124h3v1h-3zM872 158h3v1h-3zM872 192h3v1h-3zM872 226h3v1h-3zM872 259h3v1h-3zM872 293h3v1h-3zM872 327h3v1h-3zM872 361h3v1h-3zM872 395h3v1h-3zM872 429h3v1h-3zM872 463h3v1h-3zM872 497h3v1h-3zM872 543h3v1h-3zM878 22h3v1h-3zM878 56h3v1h-3zM878 90h3v1h-3zM878 124h3v1h-3zM878 158h3v1h-3zM878 192h3v1h-3zM878 226h3v1h-3zM878 259h3v1h-3zM878 293h3v1h-3zM878 327h3v1h-3zM878 361h3v1h-3zM878 395h3v1h-3zM878 429h3v1h-3zM878 463h3v1h-3zM878 497h3v1h-3zM878 543h3v1h-3zM884 22h3v1h-3zM884 56h3v1h-3zM884 90h3v1h-3zM884 124h3v1h-3zM884 158h3v1h-3zM884 192h3v1h-3zM884 226h3v1h-3zM884 259h3v1h-3zM884 293h3v1h-3zM884 327h3v1h-3zM884 361h3v1h-3zM884 395h3v1h-3zM884 429h3v1h-3zM884 463h3v1h-3zM884 497h3v1h-3zM884 543h3v1h-3zM890 22h3v1h-3zM890 56h3v1h-3zM890 90h3v1h-3zM890 124h3v1h-3zM890 158h3v1h-3zM890 192h3v1h-3zM890 226h3v1h-3zM890 259h3v1h-3zM890 293h3v1h-3zM890 327h3v1h-3zM890 361h3v1h-3zM890 395h3v1h-3zM890 429h3v1h-3zM890 463h3v1h-3zM890 497h3v1h-3zM890 543h3v1h-3zM896 22h3v1h-3zM896 56h3v1h-3zM896 90h3v1h-3zM896 124h3v1h-3zM896 158h3v1h-3zM896 192h3v1h-3zM896 226h3v1h-3zM896 259h3v1h-3zM896 293h3v1h-3zM896 327h3v1h-3zM896 361h3v1h-3zM896 395h3v1h-3zM896 429h3v1h-3zM896 463h3v1h-3zM896 497h3v1h-3zM896 543h3v1h-3zM897 1h1v2h-1zM897 6h1v3h-1zM897 12h1v3h-1zM897 18h1v3h-1zM897 24h1v3h-1zM897 30h1v3h-1zM897 36h1v3h-1zM897 42h1v3h-1zM897 48h1v3h-1zM897 54h1v3h-1zM897 60h1v3h-1zM897 66h1v3h-1zM897 72h1v3h-1zM897 78h1v3h-1zM897 84h1v3h-1zM897 90h1v3h-1zM897 96h1v3h-1zM897 102h1v3h-1zM897 108h1v3h-1zM897 114h1v3h-1zM897 120h1v3h-1zM897 126h1v3h-1zM897 132h1v3h-1zM897 138h1v3h-1zM897 144h1v3h-1zM897 150h1v3h-1zM897 156h1v3h-1zM897 162h1v3h-1zM897 168h1v3h-1zM897 174h1v3h-1zM897 180h1v3h-1zM897 186h1v3h-1zM897 192h1v3h-1zM897 198h1v3h-1zM897 204h1v3h-1zM897 210h1v3h-1zM897 216h1v3h-1zM897 222h1v3h-1zM897 228h1v3h-1zM897 234h1v3h-1zM897 240h1v3h-1zM897 246h1v3h-1zM897 252h1v3h-1zM897 258h1v3h-1zM897 264h1v3h-1zM897 270h1v3h-1zM897 276h1v3h-1zM897 282h1v3h-1zM897 288h1v3h-1zM897 294h1v3h-1zM897 300h1v3h-1zM897 306h1v3h-1zM897 312h1v3h-1zM897 318h1v3h-1zM897 324h1v3h-1zM897 330h1v3h-1zM897 336h1v3h-1zM897 342h1v3h-1zM897 348h1v3h-1zM897 354h1v3h-1zM897 360h1v3h-1zM897 366h1v3h-1zM897 372h1v3h-1zM897 378h1v3h-1zM897 384h1v3h-1zM897 390h1v3h-1zM897 396h1v3h-1zM897 402h1v3h-1zM897 408h1v3h-1zM897 414h1v3h-1zM897 420h1v3h-1zM897 426h1v3h-1zM897 432h1v3h-1zM897 438h1v3h-1zM897 444h1v3h-1zM897 450h1v3h-1zM897 456h1v3h-1zM897 462h1v3h-1zM897 468h1v3h-1zM897 474h1v3h-1zM897 480h1v3h-1zM897 486h1v3h-1zM897 492h1v3h-1zM897 498h1v2h-1zM897 504h1v3h-1zM897 510h1v3h-1zM897 516h1v3h-1zM897 522h1v3h-1zM897 528h1v3h-1zM897 534h1v3h-1zM897 540h1v3h-1zM897 546h1v3h-1zM897 552h1v3h-1zM897 558h1v3h-1zM897 564h1v3h-1zM897 570h1v3h-1zM897 576h1v3h-1zM897 582h1v3h-1zM897 588h1v3h-1zM897 594h1v3h-1zM897 600h1v3h-1zM902 22h3v1h-3zM902 56h3v1h-3zM902 90h3v1h-3zM902 124h3v1h-3zM902 158h3v1h-3zM902 192h3v1h-3zM902 226h3v1h-3zM902 259h3v1h-3zM902 293h3v1h-3zM902 327h3v1h-3zM902 361h3v1h-3zM902 395h3v1h-3zM902 429h3v1h-3zM902 463h3v1h-3zM902 497h3v1h-3zM902 543h3v1h-3zM908 22h3v1h-3zM908 56h3v1h-3zM908 90h3v1h-3zM908 124h3v1h-3zM908 158h3v1h-3zM908 192h3v1h-3zM908 226h3v1h-3zM908 259h3v1h-3zM908 293h3v1h-3zM908 327h3v1h-3zM908 361h3v1h-3zM908 395h3v1h-3zM908 429h3v1h-3zM908 463h3v1h-3zM908 497h3v1h-3zM908 543h3v1h-3zM914 22h3v1h-3zM914 56h3v1h-3zM914 90h3v1h-3zM914 124h3v1h-3zM914 158h3v1h-3zM914 192h3v1h-3zM914 226h3v1h-3zM914 259h3v1h-3zM914 293h3v1h-3zM914 327h3v1h-3zM914 361h3v1h-3zM914 395h3v1h-3zM914 429h3v1h-3zM914 463h3v1h-3zM914 497h3v1h-3zM914 543h3v1h-3zM920 22h3v1h-3zM920 56h3v1h-3zM920 90h3v1h-3zM920 124h3v1h-3zM920 158h3v1h-3zM920 192h3v1h-3zM920 226h3v1h-3zM920 259h3v1h-3zM920 293h3v1h-3zM920 327h3v1h-3zM920 361h3v1h-3zM920 395h3v1h-3zM920 429h3v1h-3zM920 463h3v1h-3zM920 497h3v1h-3zM920 543h3v1h-3zM926 22h3v1h-3zM926 56h3v1h-3zM926 90h3v1h-3zM926 124h3v1h-3zM926 158h3v1h-3zM926 192h3v1h-3zM926 226h3v1h-3zM926 259h3v1h-3zM926 293h3v1h-3zM926 327h3v1h-3zM926 361h3v1h-3zM926 395h3v1h-3zM926 429h3v1h-3zM926 463h3v1h-3zM926 497h3v1h-3zM926 543h3v1h-3zM929 1h1v2h-1zM929 6h1v3h-1zM929 12h1v3h-1zM929 18h1v3h-1zM929 24h1v3h-1zM929 30h1v3h-1zM929 36h1v3h-1zM929 42h1v3h-1zM929 48h1v3h-1zM929 54h1v3h-1zM929 60h1v3h-1zM929 66h1v3h-1zM929 72h1v3h-1zM929 78h1v3h-1zM929 84h1v3h-1zM929 90h1v3h-1zM929 96h1v3h-1zM929 102h1v3h-1zM929 108h1v3h-1zM929 114h1v3h-1zM929 120h1v3h-1zM929 126h1v3h-1zM929 132h1v3h-1zM929 138h1v3h-1zM929 144h1v3h-1zM929 150h1v3h-1zM929 156h1v3h-1zM929 162h1v3h-1zM929 168h1v3h-1zM929 174h1v3h-1zM929 180h1v3h-1zM929 186h1v3h-1zM929 192h1v3h-1zM929 198h1v3h-1zM929 204h1v3h-1zM929 210h1v3h-1zM929 216h1v3h-1zM929 222h1v3h-1zM929 228h1v3h-1zM929 234h1v3h-1zM929 240h1v3h-1zM929 246h1v3h-1zM929 252h1v3h-1zM929 258h1v3h-1zM929 264h1v3h-1zM929 270h1v3h-1zM929 276h1v3h-1zM929 282h1v3h-1zM929 288h1v3h-1zM929 294h1v3h-1zM929 300h1v3h-1zM929 306h1v3h-1zM929 312h1v3h-1zM929 318h1v3h-1zM929 324h1v3h-1zM929 330h1v3h-1zM929 336h1v3h-1zM929 342h1v3h-1zM929 348h1v3h-1zM929 354h1v3h-1zM929 360h1v3h-1zM929 366h1v3h-1zM929 372h1v3h-1zM929 378h1v3h-1zM929 384h1v3h-1zM929 390h1v3h-1zM929 396h1v3h-1zM929 402h1v3h-1zM929 408h1v3h-1zM929 414h1v3h-1zM929 420h1v3h-1zM929 426h1v3h-1zM929 432h1v3h-1zM929 438h1v3h-1zM929 444h1v3h-1zM929 450h1v3h-1zM929 456h1v3h-1zM929 462h1v3h-1zM929 468h1v3h-1zM929 474h1v3h-1zM929 480h1v3h-1zM929 486h1v3h-1zM929 492h1v3h-1zM929 498h1v2h-1zM929 504h1v3h-1zM929 510h1v3h-1zM929 516h1v3h-1zM929 522h1v3h-1zM929 528h1v3h-1zM929 534h1v3h-1zM929 540h1v3h-1zM929 546h1v3h-1zM929 552h1v3h-1zM929 558h1v3h-1zM929 564h1v3h-1zM929 570h1v3h-1zM929 576h1v3h-1zM929 582h1v3h-1zM929 588h1v3h-1zM929 594h1v3h-1zM929 600h1v3h-1zM932 22h3v1h-3zM932 56h3v1h-3zM932 90h3v1h-3zM932 124h3v1h-3zM932 158h3v1h-3zM932 192h3v1h-3zM932 226h3v1h-3zM932 259h3v1h-3zM932 293h3v1h-3zM932 327h3v1h-3zM932 361h3v1h-3zM932 395h3v1h-3zM932 429h3v1h-3zM932 463h3v1h-3zM932 497h3v1h-3zM932 543h3v1h-3zM938 22h3v1h-3zM938 56h3v1h-3zM938 90h3v1h-3zM938 124h3v1h-3zM938 158h3v1h-3zM938 192h3v1h-3zM938 226h3v1h-3zM938 259h3v1h-3zM938 293h3v1h-3zM938 327h3v1h-3zM938 361h3v1h-3zM938 395h3v1h-3zM938 429h3v1h-3zM938 463h3v1h-3zM938 497h3v1h-3zM938 543h3v1h-3zM944 22h3v1h-3zM944 56h3v1h-3zM944 90h3v1h-3zM944 124h3v1h-3zM944 158h3v1h-3zM944 192h3v1h-3zM944 226h3v1h-3zM944 259h3v1h-3zM944 293h3v1h-3zM944 327h3v1h-3zM944 361h3v1h-3zM944 395h3v1h-3zM944 429h3v1h-3zM944 463h3v1h-3zM944 497h3v1h-3zM944 543h3v1h-3zM950 22h3v1h-3zM950 56h3v1h-3zM950 90h3v1h-3zM950 124h3v1h-3zM950 158h3v1h-3zM950 192h3v1h-3zM950 226h3v1h-3zM950 259h3v1h-3zM950 293h3v1h-3zM950 327h3v1h-3zM950 361h3v1h-3zM950 395h3v1h-3zM950 429h3v1h-3zM950 463h3v1h-3zM950 497h3v1h-3zM950 543h3v1h-3zM956 22h3v1h-3zM956 56h3v1h-3zM956 90h3v1h-3zM956 124h3v1h-3zM956 158h3v1h-3zM956 192h3v1h-3zM956 226h3v1h-3zM956 259h3v1h-3zM956 293h3v1h-3zM956 327h3v1h-3zM956 361h3v1h-3zM956 395h3v1h-3zM956 429h3v1h-3zM956 463h3v1h-3zM956 497h3v1h-3zM956 543h3v1h-3zM961 1h1v2h-1zM961 6h1v3h-1zM961 12h1v3h-1zM961 18h1v3h-1zM961 24h1v3h-1zM961 30h1v3h-1zM961 36h1v3h-1zM961 42h1v3h-1zM961 48h1v3h-1zM961 54h1v3h-1zM961 60h1v3h-1zM961 66h1v3h-1zM961 72h1v3h-1zM961 78h1v3h-1zM961 84h1v3h-1zM961 90h1v3h-1zM961 96h1v3h-1zM961 102h1v3h-1zM961 108h1v3h-1zM961 114h1v3h-1zM961 120h1v3h-1zM961 126h1v3h-1zM961 132h1v3h-1zM961 138h1v3h-1zM961 144h1v3h-1zM961 150h1v3h-1zM961 156h1v3h-1zM961 162h1v3h-1zM961 168h1v3h-1zM961 174h1v3h-1zM961 180h1v3h-1zM961 186h1v3h-1zM961 192h1v3h-1zM961 198h1v3h-1zM961 204h1v3h-1zM961 210h1v3h-1zM961 216h1v3h-1zM961 222h1v3h-1zM961 228h1v3h-1zM961 234h1v3h-1zM961 240h1v3h-1zM961 246h1v3h-1zM961 252h1v3h-1zM961 258h1v3h-1zM961 264h1v3h-1zM961 270h1v3h-1zM961 276h1v3h-1zM961 282h1v3h-1zM961 288h1v3h-1zM961 294h1v3h-1zM961 300h1v3h-1zM961 306h1v3h-1zM961 312h1v3h-1zM961 318h1v3h-1zM961 324h1v3h-1zM961 330h1v3h-1zM961 336h1v3h-1zM961 342h1v3h-1zM961 348h1v3h-1zM961 354h1v3h-1zM961 360h1v3h-1zM961 366h1v3h-1zM961 372h1v3h-1zM961 378h1v3h-1zM961 384h1v3h-1zM961 390h1v3h-1zM961 396h1v3h-1zM961 402h1v3h-1zM961 408h1v3h-1zM961 414h1v3h-1zM961 420h1v3h-1zM961 426h1v3h-1zM961 432h1v3h-1zM961 438h1v3h-1zM961 444h1v3h-1zM961 450h1v3h-1zM961 456h1v3h-1zM961 462h1v3h-1zM961 468h1v3h-1zM961 474h1v3h-1zM961 480h1v3h-1zM961 486h1v3h-1zM961 492h1v3h-1zM961 498h1v2h-1zM961 504h1v3h-1zM961 510h1v3h-1zM961 516h1v3h-1zM961 522h1v3h-1zM961 528h1v3h-1zM961 534h1v3h-1zM961 540h1v3h-1zM961 546h1v3h-1zM961 552h1v3h-1zM961 558h1v3h-1zM961 564h1v3h-1zM961 570h1v3h-1zM961 576h1v3h-1zM961 582h1v3h-1zM961 588h1v3h-1zM961 594h1v3h-1zM961 600h1v3h-1zM962 22h3v1h-3zM962 56h3v1h-3zM962 90h3v1h-3zM962 124h3v1h-3zM962 158h3v1h-3zM962 192h3v1h-3zM962 226h3v1h-3zM962 259h3v1h-3zM962 293h3v1h-3zM962 327h3v1h-3zM962 361h3v1h-3zM962 395h3v1h-3zM962 429h3v1h-3zM962 463h3v1h-3zM962 497h3v1h-3zM962 543h3v1h-3zM968 22h3v1h-3zM968 56h3v1h-3zM968 90h3v1h-3zM968 124h3v1h-3zM968 158h3v1h-3zM968 192h3v1h-3zM968 226h3v1h-3zM968 259h3v1h-3zM968 293h3v1h-3zM968 327h3v1h-3zM968 361h3v1h-3zM968 395h3v1h-3zM968 429h3v1h-3zM968 463h3v1h-3zM968 497h3v1h-3zM968 543h3v1h-3zM974 22h3v1h-3zM974 56h3v1h-3zM974 90h3v1h-3zM974 124h3v1h-3zM974 158h3v1h-3zM974 192h3v1h-3zM974 226h3v1h-3zM974 259h3v1h-3zM974 293h3v1h-3zM974 327h3v1h-3zM974 361h3v1h-3zM974 395h3v1h-3zM974 429h3v1h-3zM974 463h3v1h-3zM974 497h3v1h-3zM974 543h3v1h-3zM980 22h3v1h-3zM980 56h3v1h-3zM980 90h3v1h-3zM980 124h3v1h-3zM980 158h3v1h-3zM980 192h3v1h-3zM980 226h3v1h-3zM980 259h3v1h-3zM980 293h3v1h-3zM980 327h3v1h-3zM980 361h3v1h-3zM980 395h3v1h-3zM980 429h3v1h-3zM980 463h3v1h-3zM980 497h3v1h-3zM980 543h3v1h-3zM986 22h3v1h-3zM986 56h3v1h-3zM986 90h3v1h-3zM986 124h3v1h-3zM986 158h3v1h-3zM986 192h3v1h-3zM986 226h3v1h-3zM986 259h3v1h-3zM986 293h3v1h-3zM986 327h3v1h-3zM986 361h3v1h-3zM986 395h3v1h-3zM986 429h3v1h-3zM986 463h3v1h-3zM986 497h3v1h-3zM986 543h3v1h-3zM992 22h3v1h-3zM992 56h3v1h-3zM992 90h3v1h-3zM992 124h3v1h-3zM992 158h3v1h-3zM992 192h3v1h-3zM992 226h3v1h-3zM992 259h3v1h-3zM992 293h3v1h-3zM992 327h3v1h-3zM992 361h3v1h-3zM992 395h3v1h-3zM992 429h3v1h-3zM992 463h3v1h-3zM992 497h3v1h-3zM992 543h3v1h-3zM993 1h1v2h-1zM993 6h1v3h-1zM993 12h1v3h-1zM993 18h1v3h-1zM993 24h1v3h-1zM993 30h1v3h-1zM993 36h1v3h-1zM993 42h1v3h-1zM993 48h1v3h-1zM993 54h1v3h-1zM993 60h1v3h-1zM993 66h1v3h-1zM993 72h1v3h-1zM993 78h1v3h-1zM993 84h1v3h-1zM993 90h1v3h-1zM993 96h1v3h-1zM993 102h1v3h-1zM993 108h1v3h-1zM993 114h1v3h-1zM993 120h1v3h-1zM993 126h1v3h-1zM993 132h1v3h-1zM993 138h1v3h-1zM993 144h1v3h-1zM993 150h1v3h-1zM993 156h1v3h-1zM993 162h1v3h-1zM993 168h1v3h-1zM993 174h1v3h-1zM993 180h1v3h-1zM993 186h1v3h-1zM993 192h1v3h-1zM993 198h1v3h-1zM993 204h1v3h-1zM993 210h1v3h-1zM993 216h1v3h-1zM993 222h1v3h-1zM993 228h1v3h-1zM993 234h1v3h-1zM993 240h1v3h-1zM993 246h1v3h-1zM993 252h1v3h-1zM993 258h1v3h-1zM993 264h1v3h-1zM993 270h1v3h-1zM993 276h1v3h-1zM993 282h1v3h-1zM993 288h1v3h-1zM993 294h1v3h-1zM993 300h1v3h-1zM993 306h1v3h-1zM993 312h1v3h-1zM993 318h1v3h-1zM993 324h1v3h-1zM993 330h1v3h-1zM993 336h1v3h-1zM993 342h1v3h-1zM993 348h1v3h-1zM993 354h1v3h-1zM993 360h1v3h-1zM993 366h1v3h-1zM993 372h1v3h-1zM993 378h1v3h-1zM993 384h1v3h-1zM993 390h1v3h-1zM993 396h1v3h-1zM993 402h1v3h-1zM993 408h1v3h-1zM993 414h1v3h-1zM993 420h1v3h-1zM993 426h1v3h-1zM993 432h1v3h-1zM993 438h1v3h-1zM993 444h1v3h-1zM993 450h1v3h-1zM993 456h1v3h-1zM993 462h1v3h-1zM993 468h1v3h-1zM993 474h1v3h-1zM993 480h1v3h-1zM993 486h1v3h-1zM993 492h1v3h-1zM993 498h1v2h-1zM993 504h1v3h-1zM993 510h1v3h-1zM993 516h1v3h-1zM993 522h1v3h-1zM993 528h1v3h-1zM993 534h1v3h-1zM993 540h1v3h-1zM993 546h1v3h-1zM993 552h1v3h-1zM993 558h1v3h-1zM993 564h1v3h-1zM993 570h1v3h-1zM993 576h1v3h-1zM993 582h1v3h-1zM993 588h1v3h-1zM993 594h1v3h-1zM993 600h1v3h-1zM998 22h3v1h-3zM998 56h3v1h-3zM998 90h3v1h-3zM998 124h3v1h-3zM998 158h3v1h-3zM998 192h3v1h-3zM998 226h3v1h-3zM998 259h3v1h-3zM998 293h3v1h-3zM998 327h3v1h-3zM998 361h3v1h-3zM998 395h3v1h-3zM998 429h3v1h-3zM998 463h3v1h-3zM998 497h3v1h-3zM998 543h3v1h-3zM1004 22h3v1h-3zM1004 56h3v1h-3zM1004 90h3v1h-3zM1004 124h3v1h-3zM1004 158h3v1h-3zM1004 192h3v1h-3zM1004 226h3v1h-3zM1004 259h3v1h-3zM1004 293h3v1h-3zM1004 327h3v1h-3zM1004 361h3v1h-3zM1004 395h3v1h-3zM1004 429h3v1h-3zM1004 463h3v1h-3zM1004 497h3v1h-3zM1004 543h3v1h-3zM1010 22h3v1h-3zM1010 56h3v1h-3zM1010 90h3v1h-3zM1010 124h3v1h-3zM1010 158h3v1h-3zM1010 192h3v1h-3zM1010 226h3v1h-3zM1010 259h3v1h-3zM1010 293h3v1h-3zM1010 327h3v1h-3zM1010 361h3v1h-3zM1010 395h3v1h-3zM1010 429h3v1h-3zM1010 463h3v1h-3zM1010 497h3v1h-3zM1010 543h3v1h-3zM1016 22h3v1h-3zM1016 56h3v1h-3zM1016 90h3v1h-3zM1016 124h3v1h-3zM1016 158h3v1h-3zM1016 192h3v1h-3zM1016 226h3v1h-3zM1016 259h3v1h-3zM1016 293h3v1h-3zM1016 327h3v1h-3zM1016 361h3v1h-3zM1016 395h3v1h-3zM1016 429h3v1h-3zM1016 463h3v1h-3zM1016 497h3v1h-3zM1016 543h3v1h-3zM1022 22h3v1h-3zM1022 56h3v1h-3zM1022 90h3v1h-3zM1022 124h3v1h-3zM1022 158h3v1h-3zM1022 192h3v1h-3zM1022 226h3v1h-3zM1022 259h3v1h-3zM1022 293h3v1h-3zM1022 327h3v1h-3zM1022 361h3v1h-3zM1022 395h3v1h-3zM1022 429h3v1h-3zM1022 463h3v1h-3zM1022 497h3v1h-3zM1022 543h3v1h-3zM1025 1h1v2h-1zM1025 6h1v3h-1zM1025 12h1v3h-1zM1025 18h1v3h-1zM1025 24h1v3h-1zM1025 30h1v3h-1zM1025 36h1v3h-1zM1025 42h1v3h-1zM1025 48h1v3h-1zM1025 54h1v3h-1zM1025 60h1v3h-1zM1025 66h1v3h-1zM1025 72h1v3h-1zM1025 78h1v3h-1zM1025 84h1v3h-1zM1025 90h1v3h-1zM1025 96h1v3h-1zM1025 102h1v3h-1zM1025 108h1v3h-1zM1025 114h1v3h-1zM1025 120h1v3h-1zM1025 126h1v3h-1zM1025 132h1v3h-1zM1025 138h1v3h-1zM1025 144h1v3h-1zM1025 150h1v3h-1zM1025 156h1v3h-1zM1025 162h1v3h-1zM1025 168h1v3h-1zM1025 174h1v3h-1zM1025 180h1v3h-1zM1025 186h1v3h-1zM1025 192h1v3h-1zM1025 198h1v3h-1zM1025 204h1v3h-1zM1025 210h1v3h-1zM1025 216h1v3h-1zM1025 222h1v3h-1zM1025 228h1v3h-1zM1025 234h1v3h-1zM1025 240h1v3h-1zM1025 246h1v3h-1zM1025 252h1v3h-1zM1025 258h1v3h-1zM1025 264h1v3h-1zM1025 270h1v3h-1zM1025 276h1v3h-1zM1025 282h1v3h-1zM1025 288h1v3h-1zM1025 294h1v3h-1zM1025 300h1v3h-1zM1025 306h1v3h-1zM1025 312h1v3h-1zM1025 318h1v3h-1zM1025 324h1v3h-1zM1025 330h1v3h-1zM1025 336h1v3h-1zM1025 342h1v3h-1zM1025 348h1v3h-1zM1025 354h1v3h-1zM1025 360h1v3h-1zM1025 366h1v3h-1zM1025 372h1v3h-1zM1025 378h1v3h-1zM1025 384h1v3h-1zM1025 390h1v3h-1zM1025 396h1v3h-1zM1025 402h1v3h-1zM1025 408h1v3h-1zM1025 414h1v3h-1zM1025 420h1v3h-1zM1025 426h1v3h-1zM1025 432h1v3h-1zM1025 438h1v3h-1zM1025 444h1v3h-1zM1025 450h1v3h-1zM1025 456h1v3h-1zM1025 462h1v3h-1zM1025 468h1v3h-1zM1025 474h1v3h-1zM1025 480h1v3h-1zM1025 486h1v3h-1zM1025 492h1v3h-1zM1025 498h1v2h-1zM1025 504h1v3h-1zM1025 510h1v3h-1zM1025 516h1v3h-1zM1025 522h1v3h-1zM1025 528h1v3h-1zM1025 534h1v3h-1zM1025 540h1v3h-1zM1025 546h1v3h-1zM1025 552h1v3h-1zM1025 558h1v3h-1zM1025 564h1v3h-1zM1025 570h1v3h-1zM1025 576h1v3h-1zM1025 582h1v3h-1zM1025 588h1v3h-1zM1025 594h1v3h-1zM1025 600h1v3h-1zM1028 22h3v1h-3zM1028 56h3v1h-3zM1028 90h3v1h-3zM1028 124h3v1h-3zM1028 158h3v1h-3zM1028 192h3v1h-3zM1028 226h3v1h-3zM1028 259h3v1h-3zM1028 293h3v1h-3zM1028 327h3v1h-3zM1028 361h3v1h-3zM1028 395h3v1h-3zM1028 429h3v1h-3zM1028 463h3v1h-3zM1028 497h3v1h-3zM1028 543h3v1h-3zM1034 22h3v1h-3zM1034 56h3v1h-3zM1034 90h3v1h-3zM1034 124h3v1h-3zM1034 158h3v1h-3zM1034 192h3v1h-3zM1034 226h3v1h-3zM1034 259h3v1h-3zM1034 293h3v1h-3zM1034 327h3v1h-3zM1034 361h3v1h-3zM1034 395h3v1h-3zM1034 429h3v1h-3zM1034 463h3v1h-3zM1034 497h3v1h-3zM1034 543h3v1h-3zM1040 22h3v1h-3zM1040 56h3v1h-3zM1040 90h3v1h-3zM1040 124h3v1h-3zM1040 158h3v1h-3zM1040 192h3v1h-3zM1040 226h3v1h-3zM1040 259h3v1h-3zM1040 293h3v1h-3zM1040 327h3v1h-3zM1040 361h3v1h-3zM1040 395h3v1h-3zM1040 429h3v1h-3zM1040 463h3v1h-3zM1040 497h3v1h-3zM1040 543h3v1h-3zM1046 22h3v1h-3zM1046 56h3v1h-3zM1046 90h3v1h-3zM1046 124h3v1h-3zM1046 158h3v1h-3zM1046 192h3v1h-3zM1046 226h3v1h-3zM1046 259h3v1h-3zM1046 293h3v1h-3zM1046 327h3v1h-3zM1046 361h3v1h-3zM1046 395h3v1h-3zM1046 429h3v1h-3zM1046 463h3v1h-3zM1046 497h3v1h-3zM1046 543h3v1h-3zM1052 22h3v1h-3zM1052 56h3v1h-3zM1052 90h3v1h-3zM1052 124h3v1h-3zM1052 158h3v1h-3zM1052 192h3v1h-3zM1052 226h3v1h-3zM1052 259h3v1h-3zM1052 293h3v1h-3zM1052 327h3v1h-3zM1052 361h3v1h-3zM1052 395h3v1h-3zM1052 429h3v1h-3zM1052 463h3v1h-3zM1052 497h3v1h-3zM1052 543h3v1h-3zM1057 1h1v2h-1zM1057 6h1v3h-1zM1057 12h1v3h-1zM1057 18h1v3h-1zM1057 24h1v3h-1zM1057 30h1v3h-1zM1057 36h1v3h-1zM1057 42h1v3h-1zM1057 48h1v3h-1zM1057 54h1v3h-1zM1057 60h1v3h-1zM1057 66h1v3h-1zM1057 72h1v3h-1zM1057 78h1v3h-1zM1057 84h1v3h-1zM1057 90h1v3h-1zM1057 96h1v3h-1zM1057 102h1v3h-1zM1057 108h1v3h-1zM1057 114h1v3h-1zM1057 120h1v3h-1zM1057 126h1v3h-1zM1057 132h1v3h-1zM1057 138h1v3h-1zM1057 144h1v3h-1zM1057 150h1v3h-1zM1057 156h1v3h-1zM1057 162h1v3h-1zM1057 168h1v3h-1zM1057 174h1v3h-1zM1057 180h1v3h-1zM1057 186h1v3h-1zM1057 192h1v3h-1zM1057 198h1v3h-1zM1057 204h1v3h-1zM1057 210h1v3h-1zM1057 216h1v3h-1zM1057 222h1v3h-1zM1057 228h1v3h-1zM1057 234h1v3h-1zM1057 240h1v3h-1zM1057 246h1v3h-1zM1057 252h1v3h-1zM1057 258h1v3h-1zM1057 264h1v3h-1zM1057 270h1v3h-1zM1057 276h1v3h-1zM1057 282h1v3h-1zM1057 288h1v3h-1zM1057 294h1v3h-1zM1057 300h1v3h-1zM1057 306h1v3h-1zM1057 312h1v3h-1zM1057 318h1v3h-1zM1057 324h1v3h-1zM1057 330h1v3h-1zM1057 336h1v3h-1zM1057 342h1v3h-1zM1057 348h1v3h-1zM1057 354h1v3h-1zM1057 360h1v3h-1zM1057 366h1v3h-1zM1057 372h1v3h-1zM1057 378h1v3h-1zM1057 384h1v3h-1zM1057 390h1v3h-1zM1057 396h1v3h-1zM1057 402h1v3h-1zM1057 408h1v3h-1zM1057 414h1v3h-1zM1057 420h1v3h-1zM1057 426h1v3h-1zM1057 432h1v3h-1zM1057 438h1v3h-1zM1057 444h1v3h-1zM1057 450h1v3h-1zM1057 456h1v3h-1zM1057 462h1v3h-1zM1057 468h1v3h-1zM1057 474h1v3h-1zM1057 480h1v3h-1zM1057 486h1v3h-1zM1057 492h1v3h-1zM1057 498h1v2h-1zM1057 504h1v3h-1zM1057 510h1v3h-1zM1057 516h1v3h-1zM1057 522h1v3h-1zM1057 528h1v3h-1zM1057 534h1v3h-1zM1057 540h1v3h-1zM1057 546h1v3h-1zM1057 552h1v3h-1zM1057 558h1v3h-1zM1057 564h1v3h-1zM1057 570h1v3h-1zM1057 576h1v3h-1zM1057 582h1v3h-1zM1057 588h1v3h-1zM1057 594h1v3h-1zM1057 600h1v3h-1zM1058 22h3v1h-3zM1058 56h3v1h-3zM1058 90h3v1h-3zM1058 124h3v1h-3zM1058 158h3v1h-3zM1058 192h3v1h-3zM1058 226h3v1h-3zM1058 259h3v1h-3zM1058 293h3v1h-3zM1058 327h3v1h-3zM1058 361h3v1h-3zM1058 395h3v1h-3zM1058 429h3v1h-3zM1058 463h3v1h-3zM1058 497h3v1h-3zM1058 543h3v1h-3zM1064 22h3v1h-3zM1064 56h3v1h-3zM1064 90h3v1h-3zM1064 124h3v1h-3zM1064 158h3v1h-3zM1064 192h3v1h-3zM1064 226h3v1h-3zM1064 259h3v1h-3zM1064 293h3v1h-3zM1064 327h3v1h-3zM1064 361h3v1h-3zM1064 395h3v1h-3zM1064 429h3v1h-3zM1064 463h3v1h-3zM1064 497h3v1h-3zM1064 543h3v1h-3zM1070 22h3v1h-3zM1070 56h3v1h-3zM1070 90h3v1h-3zM1070 124h3v1h-3zM1070 158h3v1h-3zM1070 192h3v1h-3zM1070 226h3v1h-3zM1070 259h3v1h-3zM1070 293h3v1h-3zM1070 327h3v1h-3zM1070 361h3v1h-3zM1070 395h3v1h-3zM1070 429h3v1h-3zM1070 463h3v1h-3zM1070 497h3v1h-3zM1070 543h3v1h-3zM1076 22h3v1h-3zM1076 56h3v1h-3zM1076 90h3v1h-3zM1076 124h3v1h-3zM1076 158h3v1h-3zM1076 192h3v1h-3zM1076 226h3v1h-3zM1076 259h3v1h-3zM1076 293h3v1h-3zM1076 327h3v1h-3zM1076 361h3v1h-3zM1076 395h3v1h-3zM1076 429h3v1h-3zM1076 463h3v1h-3zM1076 497h3v1h-3zM1076 543h3v1h-3zM1082 22h3v1h-3zM1082 56h3v1h-3zM1082 90h3v1h-3zM1082 124h3v1h-3zM1082 158h3v1h-3zM1082 192h3v1h-3zM1082 226h3v1h-3zM1082 259h3v1h-3zM1082 293h3v1h-3zM1082 327h3v1h-3zM1082 361h3v1h-3zM1082 395h3v1h-3zM1082 429h3v1h-3zM1082 463h3v1h-3zM1082 497h3v1h-3zM1082 543h3v1h-3zM1088 22h3v1h-3zM1088 56h3v1h-3zM1088 90h3v1h-3zM1088 124h3v1h-3zM1088 158h3v1h-3zM1088 192h3v1h-3zM1088 226h3v1h-3zM1088 259h3v1h-3zM1088 293h3v1h-3zM1088 327h3v1h-3zM1088 361h3v1h-3zM1088 395h3v1h-3zM1088 429h3v1h-3zM1088 463h3v1h-3zM1088 497h3v1h-3zM1088 543h3v1h-3zM1089 1h1v2h-1zM1089 6h1v3h-1zM1089 12h1v3h-1zM1089 18h1v3h-1zM1089 24h1v3h-1zM1089 30h1v3h-1zM1089 36h1v3h-1zM1089 42h1v3h-1zM1089 48h1v3h-1zM1089 54h1v3h-1zM1089 60h1v3h-1zM1089 66h1v3h-1zM1089 72h1v3h-1zM1089 78h1v3h-1zM1089 84h1v3h-1zM1089 90h1v3h-1zM1089 96h1v3h-1zM1089 102h1v3h-1zM1089 108h1v3h-1zM1089 114h1v3h-1zM1089 120h1v3h-1zM1089 126h1v3h-1zM1089 132h1v3h-1zM1089 138h1v3h-1zM1089 144h1v3h-1zM1089 150h1v3h-1zM1089 156h1v3h-1zM1089 162h1v3h-1zM1089 168h1v3h-1zM1089 174h1v3h-1zM1089 180h1v3h-1zM1089 186h1v3h-1zM1089 192h1v3h-1zM1089 198h1v3h-1zM1089 204h1v3h-1zM1089 210h1v3h-1zM1089 216h1v3h-1zM1089 222h1v3h-1zM1089 228h1v3h-1zM1089 234h1v3h-1zM1089 240h1v3h-1zM1089 246h1v3h-1zM1089 252h1v3h-1zM1089 258h1v3h-1zM1089 264h1v3h-1zM1089 270h1v3h-1zM1089 276h1v3h-1zM1089 282h1v3h-1zM1089 288h1v3h-1zM1089 294h1v3h-1zM1089 300h1v3h-1zM1089 306h1v3h-1zM1089 312h1v3h-1zM1089 318h1v3h-1zM1089 324h1v3h-1zM1089 330h1v3h-1zM1089 336h1v3h-1zM1089 342h1v3h-1zM1089 348h1v3h-1zM1089 354h1v3h-1zM1089 360h1v3h-1zM1089 366h1v3h-1zM1089 372h1v3h-1zM1089 378h1v3h-1zM1089 384h1v3h-1zM1089 390h1v3h-1zM1089 396h1v3h-1zM1089 402h1v3h-1zM1089 408h1v3h-1zM1089 414h1v3h-1zM1089 420h1v3h-1zM1089 426h1v3h-1zM1089 432h1v3h-1zM1089 438h1v3h-1zM1089 444h1v3h-1zM1089 450h1v3h-1zM1089 456h1v3h-1zM1089 462h1v3h-1zM1089 468h1v3h-1zM1089 474h1v3h-1zM1089 480h1v3h-1zM1089 486h1v3h-1zM1089 492h1v3h-1zM1089 498h1v2h-1zM1089 504h1v3h-1zM1089 510h1v3h-1zM1089 516h1v3h-1zM1089 522h1v3h-1zM1089 528h1v3h-1zM1089 534h1v3h-1zM1089 540h1v3h-1zM1089 546h1v3h-1zM1089 552h1v3h-1zM1089 558h1v3h-1zM1089 564h1v3h-1zM1089 570h1v3h-1zM1089 576h1v3h-1zM1089 582h1v3h-1zM1089 588h1v3h-1zM1089 594h1v3h-1zM1089 600h1v3h-1zM1094 22h3v1h-3zM1094 56h3v1h-3zM1094 90h3v1h-3zM1094 124h3v1h-3zM1094 158h3v1h-3zM1094 192h3v1h-3zM1094 226h3v1h-3zM1094 259h3v1h-3zM1094 293h3v1h-3zM1094 327h3v1h-3zM1094 361h3v1h-3zM1094 395h3v1h-3zM1094 429h3v1h-3zM1094 463h3v1h-3zM1094 497h3v1h-3zM1094 543h3v1h-3z"/>
<path fill="#c0c0c0" d="M1 528h1v16h-1zM5 527h1v17h-1zM9 528h1v16h-1zM13 529h1v15h-1zM17 533h1v11h-1zM21 536h1v8h-1zM25 539h1v5h-1zM29 539h1v5h-1zM33 538h1v6h-1zM37 536h1v8h-1zM41 534h1v10h-1zM45 533h1v11h-1zM49 532h1v12h-1zM53 532h1v12h-1zM57 535h1v9h-1zM61 539h1v5h-1zM65 540h1v4h-1zM69 543h1v4h-1zM73 543h1v5h-1zM77 543h1v6h-1zM81 543h1v7h-1zM85 543h1v9h-1zM89 543h1v9h-1zM93 543h1v10h-1zM97 543h1v9h-1zM101 543h1v8h-1zM105 543h1v10h-1zM109 543h1v10h-1zM113 543h1v10h-1zM117 543h1v11h-1zM121 543h1v10h-1zM125 543h1v9h-1zM129 543h1v9h-1zM133 543h1v9h-1zM137 543h1v9h-1zM141 543h1v8h-1zM145 543h1v8h-1zM149 543h1v7h-1zM153 543h1v5h-1zM157 543h1v4h-1zM161 543h1v2h-1zM165 542h1v2h-1zM169 541h1v3h-1zM173 538h1v6h-1zM177 536h1v8h-1zM181 536h1v8h-1zM185 535h1v9h-1zM189 536h1v8h-1zM193 534h1v10h-1zM197 535h1v9h-1zM201 536h1v8h-1zM205 537h1v7h-1zM209 538h1v6h-1zM213 540h1v4h-1zM217 542h1v2h-1zM221 542h1v2h-1zM225 540h1v4h-1zM229 541h1v3h-1zM233 541h1v3h-1zM237 540h1v4h-1zM241 540h1v4h-1zM245 540h1v4h-1zM249 540h1v4h-1zM253 540h1v4h-1zM257 540h1v4h-1zM261 540h1v4h-1zM265 540h1v4h-1zM269 541h1v3h-1zM273 541h1v3h-1zM277 541h1v3h-1zM281 542h1v2h-1zM285 542h1v2h-1zM289 542h1v2h-1zM293 543h1v1h-1zM297 543h1v2h-1zM301 543h1v5h-1zM305 543h1v3h-1zM309 543h1v3h-1zM313 543h1v3h-1zM317 543h1v3h-1zM321 543h1v4h-1zM325 543h1v5h-1zM329 543h1v5h-1zM333 543h1v6h-1zM337 543h1v6h-1zM341 543h1v7h-1zM345 543h1v7h-1zM349 543h1v7h-1zM353 543h1v7h-1zM357 543h1v7h-1zM361 543h1v5h-1zM365 543h1v5h-1zM369 543h1v4h-1zM373 543h1v3h-1zM377 543h1v3h-1zM381 543h1v2h-1zM385 543h1v2h-1zM389 543h1v2h-1zM393 543h1v3h-1zM397 543h1v5h-1zM401 543h1v9h-1zM405 543h1v13h-1zM409 543h1v16h-1zM413 543h1v17h-1zM417 543h1v18h-1zM421 543h1v18h-1zM425 543h1v19h-1zM429 543h1v19h-1zM433 543h1v21h-1zM437 543h1v22h-1zM441 543h1v20h-1zM445 543h1v19h-1zM449 543h1v19h-1zM453 543h1v18h-1zM457 543h1v17h-1zM461 543h1v17h-1zM465 543h1v17h-1zM469 543h1v16h-1zM473 543h1v16h-1zM477 543h1v15h-1zM481 543h1v14h-1zM485 543h1v14h-1zM489 543h1v15h-1zM493 543h1v17h-1zM497 543h1v19h-1zM501 543h1v21h-1zM505 543h1v22h-1zM509 543h1v23h-1zM513 543h1v24h-1zM517 543h1v26h-1zM521 543h1v27h-1zM525 543h1v27h-1zM529 543h1v26h-1zM533 543h1v26h-1zM537 543h1v29h-1zM541 543h1v32h-1zM545 543h1v37h-1zM549 543h1v39h-1zM553 543h1v42h-1zM557 543h1v43h-1zM561 543h1v43h-1zM565 543h1v41h-1zM569 543h1v40h-1zM573 543h1v39h-1zM577 543h1v38h-1zM581 543h1v38h-1zM585 543h1v38h-1zM589 543h1v40h-1zM593 543h1v40h-1zM597 543h1v42h-1zM601 543h1v44h-1zM605 543h1v44h-1zM609 543h1v46h-1zM613 543h1v47h-1zM617 543h1v49h-1zM621 543h1v53h-1zM625 543h1v54h-1zM629 543h1v56h-1zM633 543h1v56h-1zM637 543h1v53h-1zM641 543h1v50h-1zM645 543h1v47h-1zM649 543h1v43h-1zM653 543h1v41h-1zM657 543h1v38h-1zM661 543h1v36h-1zM665 543h1v36h-1zM669 543h1v38h-1zM673 543h1v39h-1zM677 543h1v39h-1zM681 543h1v37h-1zM685 543h1v36h-1zM689 543h1v34h-1zM693 543h1v29h-1zM697 543h1v26h-1zM701 543h1v24h-1zM705 543h1v22h-1zM709 543h1v21h-1zM713 543h1v18h-1zM717 543h1v14h-1zM721 543h1v11h-1zM725 543h1v10h-1zM729 543h1v9h-1zM733 543h1v8h-1zM737 543h1v7h-1zM741 543h1v6h-1zM745 543h1v2h-1zM749 537h1v7h-1zM753 530h1v14h-1zM757 528h1v16h-1zM761 529h1v15h-1zM765 531h1v13h-1zM769 534h1v10h-1zM773 536h1v8h-1zM777 538h1v6h-1zM781 536h1v8h-1zM785 536h1v8h-1zM789 532h1v12h-1zM793 527h1v17h-1zM797 525h1v19h-1zM801 521h1v23h-1zM805 521h1v23h-1zM809 521h1v23h-1zM813 521h1v23h-1zM817 517h1v27h-1zM821 514h1v30h-1zM825 512h1v32h-1zM829 511h1v33h-1zM833 510h1v34h-1zM837 509h1v35h-1zM841 509h1v35h-1zM845 511h1v33h-1zM849 512h1v32h-1zM853 514h1v30h-1zM857 515h1v29h-1zM861 515h1v29h-1zM865 515h1v29h-1zM869 516h1v28h-1zM873 516h1v28h-1z"/>
<rect x="1" y="259" width="1100" height="1" fill="#c0c0c0"/>
<path fill="#ff0000" d="M1 246h18v1h-18zM25 246h18v1h-18zM49 246h18v1h-18zM73 246h18v1h-18zM97 246h18v1h-18zM121 246h18v1h-18zM145 246h18v1h-18zM169 246h18v1h-18zM193 246h18v1h-18zM217 246h18v1h-18zM241 246h18v1h-18zM265 246h18v1h-18zM289 246h18v1h-18zM313 246h18v1h-18zM337 246h18v1h-18zM361 246h18v1h-18zM385 246h18v1h-18zM409 246h18v1h-18zM433 246h18v1h-18zM457 246h18v1h-18zM481 246h18v1h-18zM505 246h18v1h-18zM529 246h18v1h-18zM553 246h18v1h-18zM577 246h18v1h-18zM601 246h18v1h-18zM625 246h18v1h-18zM649 246h18v1h-18zM673 246h18v1h-18zM697 246h18v1h-18zM721 246h18v1h-18zM745 246h18v1h-18zM769 246h18v1h-18zM793 246h18v1h-18zM817 246h18v1h-18zM841 246h18v1h-18zM865 246h18v1h-18zM889 246h18v1h-18zM913 246h18v1h-18zM937 246h18v1h-18zM961 246h18v1h-18zM985 246h18v1h-18zM1009 246h18v1h-18zM1033 246h18v1h-18zM1057 246h18v1h-18zM1081 246h18v1h-18zM1 339h18v1h-18zM25 339h18v1h-18zM49 339h18v1h-18zM73 339h18v1h-18zM97 339h18v1h-18zM121 339h18v1h-18zM145 339h18v1h-18zM169 339h18v1h-18zM193 339h18v1h-18zM217 339h18v1h-18zM241 339h18v1h-18zM265 339h18v1h-18zM289 339h18v1h-18zM313 339h18v1h-18zM337 339h18v1h-18zM361 339h18v1h-18zM385 339h18v1h-18zM409 339h18v1h-18zM433 339h18v1h-18zM457 339h18v1h-18zM481 339h18v1h-18zM505 339h18v1h-18zM529 339h18v1h-18zM553 339h18v1h-18zM577 339h18v1h-18zM601 339h18v1h-18zM625 339h18v1h-18zM649 339h18v1h-18zM673 339h18v1h-18zM697 339h18v1h-18zM721 339h18v1h-18zM745 339h18v1h-18zM769 339h18v1h-18zM793 339h18v1h-18zM817 339h18v1h-18zM841 339h18v1h-18zM865 339h18v1h-18zM889 339h18v1h-18zM913 339h18v1h-18zM937 339h18v1h-18zM961 339h18v1h-18zM985 339h18v1h-18zM1009 339h18v1h-18zM1033 339h18v1h-18zM1057 339h18v1h-18zM1081 339h18v1h-18zM1 387h18v1h-18zM25 387h18v1h-18zM49 387h18v1h-18zM73 387h18v1h-18zM97 387h18v1h-18zM121 387h18v1h-18zM145 387h18v1h-18zM169 387h18v1h-18zM193 387h18v1h-18zM217 387h18v1h-18zM241 387h18v1h-18zM265 387h18v1h-18zM289 387h18v1h-18zM313 387h18v1h-18zM337 387h18v1h-18zM361 387h18v1h-18zM385 387h18v1h-18zM409 387h18v1h-18zM433 387h18v1h-18zM457 387h18v1h-18zM481 387h18v1h-18zM505 387h18v1h-18zM529 387h18v1h-18zM553 387h18v1h-18zM577 387h18v1h-18zM601 387h18v1h-18zM625 387h18v1h-18zM649 387h18v1h-18zM673 387h18v1h-18zM697 387h18v1h-18zM721 387h18v1h-18zM745 387h18v1h-18zM769 387h18v1h-18zM793 387h18v1h-18zM817 387h18v1h-18zM841 387h18v1h-18zM865 387h18v1h-18zM889 387h18v1h-18zM913 387h18v1h-18zM937 387h18v1h-18zM961 387h18v1h-18zM985 387h18v1h-18zM1009 387h18v1h-18zM1033 387h18v1h-18zM1057 387h18v1h-18zM1081 387h18v1h-18zM1 435h18v1h-18zM25 435h18v1h-18zM49 435h18v1h-18zM73 435h18v1h-18zM97 435h18v1h-18zM121 435h18v1h-18zM145 435h18v1h-18zM169 435h18v1h-18zM193 435h18v1h-18zM217 435h18v1h-18zM241 435h18v1h-18zM265 435h18v1h-18zM289 435h18v1h-18zM313 435h18v1h-18zM337 435h18v1h-18zM361 435h18v1h-18zM385 435h18v1h-18zM409 435h18v1h-18zM433 435h18v1h-18zM457 435h18v1h-18zM481 435h18v1h-18zM505 435h18v1h-18zM529 435h18v1h-18zM553 435h18v1h-18zM577 435h18v1h-18zM601 435h18v1h-18zM625 435h18v1h-18zM649 435h18v1h-18zM673 435h18v1h-18zM697 435h18v1h-18zM721 435h18v1h-18zM745 435h18v1h-18zM769 435h18v1h-18zM793 435h18v1h-18zM817 435h18v1h-18zM841 435h18v1h-18zM865 435h18v1h-18zM889 435h18v1h-18zM913 435h18v1h-18zM937 435h18v1h-18zM961 435h18v1h-18zM985 435h18v1h-18zM1009 435h18v1h-18zM1033 435h18v1h-18zM1057 435h18v1h-18zM1081 435h18v1h-18zM1 475h18v1h-18zM25 475h18v1h-18zM49 475h18v1h-18zM73 475h18v1h-18zM97 475h18v1h-18zM121 475h18v1h-18zM145 475h18v1h-18zM169 475h18v1h-18zM193 475h18v1h-18zM217 475h18v1h-18zM241 475h18v1h-18zM265 475h18v1h-18zM289 475h18v1h-18zM313 475h18v1h-18zM337 475h18v1h-18zM361 475h18v1h-18zM385 475h18v1h-18zM409 475h18v1h-18zM433 475h18v1h-18zM457 475h18v1h-18zM481 475h18v1h-18zM505 475h18v1h-18zM529 475h18v1h-18zM553 475h18v1h-18zM577 475h18v1h-18zM601 475h18v1h-18zM625 475h18v1h-18zM649 475h18v1h-18zM673 475h18v1h-18zM697 475h18v1h-18zM721 475h18v1h-18zM745 475h18v1h-18zM769 475h18v1h-18zM793 475h18v1h-18zM817 475h18v1h-18zM841 475h18v1h-18zM865 475h18v1h-18zM889 475h18v1h-18zM913 475h18v1h-18zM937 475h18v1h-18zM961 475h18v1h-18zM985 475h18v1h-18zM1009 475h18v1h-18zM1033 475h18v1h-18zM1057 475h18v1h-18zM1081 475h18v1h-18z"/>
<path fill="#0000ff" d="M609 450h2v1h-2zM609 449h3v1h-3zM610 448h3v1h-3zM611 447h3v1h-3zM612 446h3v1h-3zM613 445h3v1h-3zM614 444h3v1h-3zM615 443h3v1h-3zM616 442h3v1h-3zM617 441h3v1h-3zM618 440h3v1h-3zM619 439h3v1h-3zM620 438h3v1h-3zM621 437h3v1h-3zM622 436h3v1h-3zM623 435h3v1h-3zM624 434h3v1h-3zM625 433h3v1h-3zM626 432h3v1h-3zM627 431h3v1h-3zM628 430h3v1h-3zM629 429h3v1h-3zM630 428h3v1h-3zM631 427h3v1h-3zM632 426h3v1h-3zM633 425h3v1h-3zM634 424h3v1h-3zM635 423h3v1h-3zM636 422h3v1h-3zM637 421h3v1h-3zM638 420h3v1h-3zM639 419h3v1h-3zM640 418h3v1h-3zM641 417h3v1h-3zM642 416h3v1h-3zM643 415h3v1h-3zM644 414h3v1h-3zM645 413h3v1h-3zM646 412h3v1h-3zM647 411h3v1h-3zM648 410h3v1h-3zM649 409h3v1h-3zM650 408h3v1h-3zM651 407h4v1h-4zM652 406h4v1h-4zM654 405h3v1h-3zM655 404h3v1h-3zM656 403h3v1h-3zM657 402h3v1h-3zM658 401h3v1h-3zM659 400h3v1h-3zM660 399h3v1h-3zM661 398h3v1h-3zM662 397h3v1h-3zM663 396h3v1h-3zM664 395h3v1h-3zM665 394h3v1h-3zM666 393h3v1h-3zM667 392h3v1h-3zM668 391h3v1h-3zM669 390h3v1h-3zM670 389h3v1h-3zM671 388h3v1h-3zM672 387h3v1h-3zM673 386h3v1h-3zM674 385h3v1h-3zM675 384h3v1h-3zM676 383h3v1h-3zM677 382h3v1h-3zM678 381h3v1h-3zM679 380h3v1h-3zM680 379h3v1h-3zM681 378h3v1h-3zM682 377h3v1h-3zM683 376h3v1h-3zM684 375h3v1h-3zM685 374h3v1h-3zM686 373h3v1h-3zM687 372h3v1h-3zM688 371h3v1h-3zM689 370h3v1h-3zM690 369h3v1h-3zM691 368h3v1h-3zM692 367h3v1h-3zM693 366h3v1h-3zM694 365h3v1h-3zM695 364h3v1h-3zM696 363h3v1h-3zM697 362h3v1h-3zM698 361h3v1h-3zM699 360h3v1h-3zM700 359h3v1h-3zM701 358h3v1h-3zM702 357h3v1h-3zM703 356h3v1h-3zM704 355h3v1h-3zM705 354h3v1h-3zM706 353h3v1h-3zM707 352h3v1h-3zM708 351h3v1h-3zM709 350h3v1h-3zM710 349h3v1h-3zM711 348h3v1h-3zM712 347h3v1h-3zM713 346h3v1h-3zM714 345h3v1h-3zM715 344h3v1h-3zM716 343h3v1h-3zM717 342h3v1h-3zM718 341h3v1h-3zM719 340h3v1h-3zM720 339h3v1h-3zM721 338h3v1h-3zM722 337h3v1h-3zM723 336h3v1h-3zM724 335h3v1h-3zM725 334h3v1h-3zM726 333h3v1h-3zM727 332h3v1h-3zM728 331h3v1h-3zM729 330h3v1h-3zM730 329h3v1h-3zM731 328h3v1h-3zM732 327h3v1h-3zM733 326h3v1h-3zM734 325h3v1h-3zM735 324h3v1h-3zM736 323h3v1h-3zM737 322h4v1h-4zM738 321h4v1h-4zM740 320h3v1h-3zM741 319h3v1h-3zM742 318h3v1h-3zM743 317h3v1h-3zM744 316h3v1h-3zM745 315h3v1h-3zM746 314h3v1h-3zM747 313h3v1h-3zM748 312h3v1h-3zM749 311h3v1h-3zM750 310h3v1h-3zM751 309h3v1h-3zM752 308h3v1h-3zM753 307h3v1h-3zM754 306h3v1h-3zM755 305h3v1h-3zM756 304h3v1h-3zM757 303h3v1h-3zM758 302h3v1h-3zM759 301h3v1h-3zM760 300h3v1h-3zM761 299h3v1h-3zM762 298h3v1h-3zM763 297h3v1h-3zM764 296h3v1h-3zM765 295h3v1h-3zM766 294h3v1h-3zM767 293h3v1h-3zM768 292h3v1h-3zM769 291h3v1h-3zM770 290h3v1h-3zM771 289h3v1h-3zM772 288h3v1h-3zM773 287h3v1h-3zM774 286h3v1h-3zM775 285h3v1h-3zM776 284h3v1h-3zM777 283h3v1h-3zM778 282h3v1h-3zM779 281h3v1h-3zM780 280h3v1h-3zM781 279h3v1h-3zM782 278h3v1h-3zM783 277h3v1h-3zM784 276h3v1h-3zM785 275h3v1h-3zM786 274h3v1h-3zM787 273h3v1h-3zM788 272h3v1h-3zM789 271h3v1h-3zM790 270h3v1h-3zM791 269h3v1h-3zM792 268h3v1h-3zM793 267h3v1h-3zM794 266h3v1h-3zM795 265h3v1h-3zM796 264h3v1h-3zM797 263h3v1h-3zM798 262h3v1h-3zM799 261h3v1h-3zM800 260h3v1h-3zM801 259h3v1h-3zM802 258h3v1h-3zM803 257h3v1h-3zM804 256h3v1h-3zM805 255h3v1h-3zM806 254h3v1h-3zM807 253h3v1h-3zM808 252h3v1h-3zM809 251h3v1h-3zM810 250h3v1h-3zM811 249h3v1h-3zM812 248h3v1h-3zM813 247h3v1h-3zM814 246h3v1h-3zM815 245h3v1h-3zM816 244h3v1h-3zM817 243h3v1h-3zM818 242h3v1h-3zM819 241h3v1h-3zM820 240h3v1h-3zM821 239h3v1h-3zM822 238h3v1h-3zM823 237h3v1h-3zM824 236h4v1h-4zM825 235h4v1h-4zM827 234h3v1h-3zM828 233h3v1h-3zM829 232h3v1h-3zM830 231h3v1h-3zM831 230h3v1h-3zM832 229h3v1h-3zM833 228h3v1h-3zM834 227h3v1h-3zM835 226h3v1h-3zM836 225h3v1h-3zM837 224h3v1h-3zM838 223h3v1h-3zM839 222h3v1h-3zM840 221h3v1h-3zM841 220h3v1h-3zM842 219h3v1h-3zM843 218h3v1h-3zM844 217h3v1h-3zM845 216h3v1h-3zM846 215h3v1h-3zM847 214h3v1h-3zM848 213h3v1h-3zM849 212h3v1h-3zM850 211h3v1h-3zM851 210h3v1h-3zM852 209h3v1h-3zM853 208h3v1h-3zM854 207h3v1h-3zM855 206h3v1h-3zM856 205h3v1h-3zM857 204h3v1h-3zM858 203h3v1h-3zM859 202h3v1h-3zM860 201h3v1h-3zM861 200h3v1h-3zM862 199h3v1h-3zM863 198h3v1h-3zM864 197h3v1h-3zM865 196h3v1h-3zM866 195h3v1h-3zM867 194h3v1h-3zM868 193h2v1h-2z"/>
<path fill="#0000ff" d="M677 496h2v1h-2zM677 495h3v1h-3zM678 494h3v1h-3zM679 493h3v1h-3zM680 492h3v1h-3zM681 491h3v1h-3zM682 490h3v1h-3zM683 489h3v1h-3zM684 488h3v1h-3zM685 487h3v1h-3zM686 486h3v1h-3zM687 485h3v1h-3zM688 484h3v1h-3zM689 483h3v1h-3zM690 482h3v1h-3zM691 481h3v1h-3zM692 480h3v1h-3zM693 479h3v1h-3zM694 478h3v1h-3zM695 477h3v1h-3zM696 476h3v1h-3zM697 475h3v1h-3zM698 474h3v1h-3zM699 473h3v1h-3zM700 472h3v1h-3zM701 471h3v1h-3zM702 470h3v1h-3zM703 469h3v1h-3zM704 468h3v1h-3zM705 467h3v1h-3zM706 466h3v1h-3zM707 465h3v1h-3zM708 464h3v1h-3zM709 463h3v1h-3zM710 462h3v1h-3zM711 461h3v1h-3zM712 460h3v1h-3zM713 459h3v1h-3zM714 458h3v1h-3zM715 457h3v1h-3zM716 456h3v1h-3zM717 455h3v1h-3zM718 454h3v1h-3zM719 453h4v1h-4zM720 452h4v1h-4zM722 451h3v1h-3zM723 450h3v1h-3zM724 449h3v1h-3zM725 448h3v1h-3zM726 447h3v1h-3zM727 446h3v1h-3zM728 445h3v1h-3zM729 444h3v1h-3zM730 443h3v1h-3zM731 442h3v1h-3zM732 441h3v1h-3zM733 440h3v1h-3zM734 439h3v1h-3zM735 438h3v1h-3zM736 437h3v1h-3zM737 436h3v1h-3zM738 435h3v1h-3zM739 434h3v1h-3zM740 433h3v1h-3zM741 432h3v1h-3zM742 431h3v1h-3zM743 430h3v1h-3zM744 429h3v1h-3zM745 428h3v1h-3zM746 427h3v1h-3zM747 426h3v1h-3zM748 425h3v1h-3zM749 424h3v1h-3zM750 423h3v1h-3zM751 422h3v1h-3zM752 421h3v1h-3zM753 420h3v1h-3zM754 419h3v1h-3zM755 418h3v1h-3zM756 417h3v1h-3zM757 416h3v1h-3zM758 415h3v1h-3zM759 414h3v1h-3zM760 413h3v1h-3zM761 412h3v1h-3zM762 411h3v1h-3zM763 410h3v1h-3zM764 409h3v1h-3zM765 408h3v1h-3zM766 407h3v1h-3zM767 406h3v1h-3zM768 405h3v1h-3zM769 404h3v1h-3zM770 403h3v1h-3zM771 402h3v1h-3zM772 401h3v1h-3zM773 400h3v1h-3zM774 399h3v1h-3zM775 398h3v1h-3zM776 397h3v1h-3zM777 396h3v1h-3zM778 395h3v1h-3zM779 394h3v1h-3zM780 393h3v1h-3zM781 392h3v1h-3zM782 391h3v1h-3zM783 390h3v1h-3zM784 389h3v1h-3zM785 388h3v1h-3zM786 387h3v1h-3zM787 386h3v1h-3zM788 385h3v1h-3zM789 384h3v1h-3zM790 383h3v1h-3zM791 382h3v1h-3zM792 381h3v1h-3zM793 380h3v1h-3zM794 379h3v1h-3zM795 378h3v1h-3zM796 377h3v1h-3zM797 376h3v1h-3zM798 375h3v1h-3zM799 374h3v1h-3zM800 373h3v1h-3zM801 372h3v1h-3zM802 371h3v1h-3zM803 370h3v1h-3zM804 369h3v1h-3zM805 368h4v1h-4zM806 367h4v1h-4zM808 366h3v1h-3zM809 365h3v1h-3zM810 364h3v1h-3zM811 363h3v1h-3zM812 362h3v1h-3zM813 361h3v1h-3zM814 360h3v1h-3zM815 359h3v1h-3zM816 358h3v1h-3zM817 357h3v1h-3zM818 356h3v1h-3zM819 355h3v1h-3zM820 354h3v1h-3zM821 353h3v1h-3zM822 352h3v1h-3zM823 351h3v1h-3zM824 350h3v1h-3zM825 349h3v1h-3zM826 348h3v1h-3zM827 347h3v1h-3zM828 346h3v1h-3zM829 345h3v1h-3zM830 344h3v1h-3zM831 343h3v1h-3zM832 342h3v1h-3zM833 341h3v1h-3zM834 340h3v1h-3zM835 339h3v1h-3zM836 338h3v1h-3zM837 337h3v1h-3zM838 336h3v1h-3zM839 335h3v1h-3zM840 334h3v1h-3zM841 333h3v1h-3zM842 332h3v1h-3zM843 331h3v1h-3zM844 330h3v1h-3zM845 329h3v1h-3zM846 328h3v1h-3zM847 327h3v1h-3zM848 326h3v1h-3zM849 325h3v1h-3zM850 324h3v1h-3zM851 323h3v1h-3zM852 322h3v1h-3zM853 321h3v1h-3zM854 320h3v1h-3zM855 319h3v1h-3zM856 318h3v1h-3zM857 317h3v1h-3zM858 316h3v1h-3zM859 315h3v1h-3zM860 314h3v1h-3zM861 313h3v1h-3zM862 312h3v1h-3zM863 311h3v1h-3zM864 310h3v1h-3zM865 309h3v1h-3zM866 308h3v1h-3zM867 307h3v1h-3zM868 306h3v1h-3zM869 305h3v1h-3zM870 304h3v1h-3zM871 303h3v1h-3zM872 302h3v1h-3zM873 301h3v1h-3zM874 300h3v1h-3zM875 299h3v1h-3zM876 298h3v1h-3zM877 297h3v1h-3zM878 296h3v1h-3zM879 295h3v1h-3zM880 294h3v1h-3zM881 293h3v1h-3zM882 292h3v1h-3zM883 291h3v1h-3zM884 290h3v1h-3zM885 289h3v1h-3zM886 288h3v1h-3zM887 287h3v1h-3zM888 286h3v1h-3zM889 285h3v1h-3zM890 284h3v1h-3zM891 283h3v1h-3zM892 282h4v1h-4zM893 281h4v1h-4zM895 280h3v1h-3zM896 279h3v1h-3zM897 278h3v1h-3zM898 277h3v1h-3zM899 276h3v1h-3zM900 275h3v1h-3zM901 274h3v1h-3zM902 273h3v1h-3zM903 272h3v1h-3zM904 271h3v1h-3zM905 270h3v1h-3zM906 269h3v1h-3zM907 268h3v1h-3zM908 267h3v1h-3zM909 266h3v1h-3zM910 265h3v1h-3zM911 264h3v1h-3zM912 263h3v1h-3zM913 262h3v1h-3zM914 261h3v1h-3zM915 260h3v1h-3zM916 259h3v1h-3zM917 258h3v1h-3zM918 257h3v1h-3zM919 256h3v1h-3zM920 255h3v1h-3zM921 254h3v1h-3zM922 253h3v1h-3zM923 252h3v1h-3zM924 251h3v1h-3zM925 250h3v1h-3zM926 249h3v1h-3zM927 248h3v1h-3zM928 247h3v1h-3zM929 246h3v1h-3zM930 245h3v1h-3zM931 244h3v1h-3zM932 243h3v1h-3zM933 242h3v1h-3zM934 241h3v1h-3zM935 240h3v1h-3zM936 239h2v1h-2z"/>
<path fill="#fff" d="M859 202h6v1h-6zM763 295h6v1h-6z"/>
<path fill="#ff0000" d="M1 202h18v1h-18zM25 202h18v1h-18zM49 202h18v1h-18zM73 202h18v1h-18zM97 202h18v1h-18zM121 202h18v1h-18zM145 202h18v1h-18zM169 202h18v1h-18zM193 202h18v1h-18zM217 202h18v1h-18zM241 202h18v1h-18zM265 202h18v1h-18zM289 202h18v1h-18zM313 202h18v1h-18zM337 202h18v1h-18zM361 202h18v1h-18zM385 202h18v1h-18zM409 202h18v1h-18zM433 202h18v1h-18zM457 202h18v1h-18zM481 202h18v1h-18zM505 202h18v1h-18zM529 202h18v1h-18zM553 202h18v1h-18zM577 202h18v1h-18zM601 202h18v1h-18zM625 202h18v1h-18zM649 202h18v1h-18zM673 202h18v1h-18zM697 202h18v1h-18zM721 202h18v1h-18zM745 202h18v1h-18zM769 202h18v1h-18zM793 202h18v1h-18zM817 202h18v1h-18zM841 202h18v1h-18zM865 202h18v1h-18zM889 202h18v1h-18zM913 202h18v1h-18zM937 202h18v1h-18zM961 202h18v1h-18zM985 202h18v1h-18zM1009 202h18v1h-18zM1033 202h18v1h-18zM1057 202h18v1h-18zM1081 202h18v1h-18zM1 295h18v1h-18zM25 295h18v1h-18zM49 295h18v1h-18zM73 295h18v1h-18zM97 295h18v1h-18zM121 295h18v1h-18zM145 295h18v1h-18zM169 295h18v1h-18zM193 295h18v1h-18zM217 295h18v1h-18zM241 295h18v1h-18zM265 295h18v1h-18zM289 295h18v1h-18zM313 295h18v1h-18zM337 295h18v1h-18zM361 295h18v1h-18zM385 295h18v1h-18zM409 295h18v1h-18zM433 295h18v1h-18zM457 295h18v1h-18zM481 295h18v1h-18zM505 295h18v1h-18zM529 295h18v1h-18zM553 295h18v1h-18zM577 295h18v1h-18zM601 295h18v1h-18zM625 295h18v1h-18zM649 295h18v1h-18zM673 295h18v1h-18zM697 295h18v1h-18zM721 295h18v1h-18zM745 295h18v1h-18zM769 295h18v1h-18zM793 295h18v1h-18zM817 295h18v1h-18zM841 295h18v1h-18zM865 295h18v1h-18zM889 295h18v1h-18zM913 295h18v1h-18zM937 295h18v1h-18zM961 295h18v1h-18zM985 295h18v1h-18zM1009 295h18v1h-18zM1033 295h18v1h-18zM1057 295h18v1h-18zM1081 295h18v1h-18z"/>
<path fill="#ff0000" d="M853 510h3v1h-3zM847 511h3v1h-3zM859 511h3v1h-3zM865 511h3v1h-3zM843 512h1v1h-1zM841 513h2v1h-2zM871 513h3v1h-3zM836 514h2v1h-2zM835 515h1v1h-1zM831 516h1v1h-1zM829 517h2v1h-2zM823 519h3v1h-3zM818 522h2v1h-2zM817 523h1v1h-1zM813 525h1v1h-1zM811 526h2v1h-2zM805 528h3v1h-3zM14 530h2v1h-2zM19 530h3v1h-3zM25 530h3v1h-3zM799 530h3v1h-3zM13 531h1v1h-1zM31 531h1v1h-1zM795 531h1v1h-1zM9 532h1v1h-1zM32 532h2v1h-2zM781 532h3v1h-3zM787 532h3v1h-3zM793 532h2v1h-2zM7 533h2v1h-2zM37 533h3v1h-3zM775 533h3v1h-3zM43 534h3v1h-3zM49 534h3v1h-3zM55 534h3v1h-3zM61 534h3v1h-3zM3 535h1v1h-1zM199 535h3v1h-3zM205 535h3v1h-3zM211 535h3v1h-3zM769 535h3v1h-3zM1 536h2v1h-2zM67 536h3v1h-3zM195 536h1v1h-1zM217 536h3v1h-3zM73 537h2v1h-2zM193 537h2v1h-2zM223 537h3v1h-3zM75 538h1v1h-1zM189 538h1v1h-1zM229 538h3v1h-3zM235 538h1v1h-1zM765 538h1v1h-1zM187 539h2v1h-2zM236 539h2v1h-2zM241 539h3v1h-3zM247 539h3v1h-3zM253 539h3v1h-3zM259 539h3v1h-3zM265 539h3v1h-3zM763 539h2v1h-2zM79 540h2v1h-2zM271 540h3v1h-3zM277 540h3v1h-3zM283 540h1v1h-1zM81 541h1v1h-1zM181 541h3v1h-3zM284 541h2v1h-2zM289 541h3v1h-3zM759 541h1v1h-1zM295 542h3v1h-3zM757 542h2v1h-2zM85 543h2v1h-2zM176 543h2v1h-2zM301 543h3v1h-3zM87 544h1v1h-1zM175 544h1v1h-1zM307 544h3v1h-3zM313 545h3v1h-3zM319 545h3v1h-3zM391 545h3v1h-3zM397 545h3v1h-3zM91 546h2v1h-2zM169 546h3v1h-3zM325 546h3v1h-3zM385 546h3v1h-3zM403 546h3v1h-3zM752 546h2v1h-2zM93 547h1v1h-1zM331 547h3v1h-3zM337 547h3v1h-3zM379 547h3v1h-3zM751 547h1v1h-1zM163 548h3v1h-3zM343 548h3v1h-3zM349 548h3v1h-3zM373 548h3v1h-3zM409 548h3v1h-3zM97 549h3v1h-3zM157 549h3v1h-3zM355 549h3v1h-3zM361 549h3v1h-3zM367 549h3v1h-3zM103 550h2v1h-2zM151 550h3v1h-3zM415 550h1v1h-1zM746 550h2v1h-2zM105 551h1v1h-1zM109 551h3v1h-3zM145 551h3v1h-3zM416 551h2v1h-2zM745 551h1v1h-1zM115 552h3v1h-3zM121 552h3v1h-3zM127 552h3v1h-3zM133 552h3v1h-3zM139 552h3v1h-3zM421 553h2v1h-2zM741 553h1v1h-1zM423 554h1v1h-1zM740 554h1v1h-1zM739 555h1v1h-1zM427 556h1v1h-1zM735 556h1v1h-1zM428 557h2v1h-2zM733 557h2v1h-2zM493 558h3v1h-3zM433 559h3v1h-3zM481 559h3v1h-3zM487 559h3v1h-3zM499 559h3v1h-3zM505 559h3v1h-3zM729 559h1v1h-1zM439 560h1v1h-1zM469 560h3v1h-3zM475 560h3v1h-3zM511 560h1v1h-1zM727 560h2v1h-2zM440 561h2v1h-2zM463 561h3v1h-3zM512 561h2v1h-2zM445 562h3v1h-3zM451 562h3v1h-3zM457 562h3v1h-3zM517 562h2v1h-2zM519 563h1v1h-1zM722 563h2v1h-2zM523 564h1v1h-1zM721 564h1v1h-1zM524 565h2v1h-2zM529 566h3v1h-3zM717 566h1v1h-1zM535 567h1v1h-1zM715 567h2v1h-2zM536 568h2v1h-2zM541 569h3v1h-3zM710 570h2v1h-2zM547 571h2v1h-2zM709 571h1v1h-1zM549 572h1v1h-1zM705 573h1v1h-1zM553 574h2v1h-2zM703 574h2v1h-2zM555 575h1v1h-1zM559 576h1v1h-1zM697 576h3v1h-3zM560 577h2v1h-2zM691 578h3v1h-3zM565 579h3v1h-3zM686 579h2v1h-2zM571 580h1v1h-1zM685 580h1v1h-1zM572 581h2v1h-2zM595 581h3v1h-3zM679 581h3v1h-3zM577 582h3v1h-3zM583 582h3v1h-3zM589 582h3v1h-3zM601 582h3v1h-3zM675 582h1v1h-1zM607 583h3v1h-3zM673 583h2v1h-2zM613 584h3v1h-3zM668 584h2v1h-2zM667 585h1v1h-1zM619 586h2v1h-2zM621 587h1v1h-1zM663 587h1v1h-1zM625 588h2v1h-2zM661 588h2v1h-2zM627 589h1v1h-1zM657 590h1v1h-1zM631 591h2v1h-2zM655 591h2v1h-2zM633 592h1v1h-1zM651 592h1v1h-1zM637 593h3v1h-3zM649 593h2v1h-2zM643 594h3v1h-3z"/>
<path fill="#000" d="M1 52h1v13h-1zM0 55h3v6h-3zM5 52h1v20h-1zM4 55h3v14h-3zM9 61h1v14h-1zM8 68h3v3h-3zM13 70h1v17h-1zM12 70h3v11h-3zM17 67h1v54h-1zM16 81h3v28h-3zM21 106h1v20h-1zM20 109h3v4h-3zM25 102h1v11h-1zM24 108h3v2h-3zM29 87h1v28h-1zM28 90h3v19h-3zM33 63h1v35h-1zM32 77h3v14h-3zM37 65h1v15h-1zM36 66h3v11h-3zM41 46h1v21h-1zM40 55h3v12h-3zM45 52h1v11h-1zM44 56h3v6h-3zM49 57h1v6h-1zM48 60h3v2h-3zM53 57h1v14h-1zM52 59h3v7h-3zM57 59h1v48h-1zM56 64h3v26h-3zM61 88h1v34h-1zM60 89h3v29h-3zM65 116h1v7h-1zM64 118h3v3h-3zM68 129h3v1h-3zM73 114h1v16h-1zM72 114h3v16h-3zM77 110h1v6h-1zM76 112h3v3h-3zM81 102h1v18h-1zM80 109h3v3h-3zM85 107h1v32h-1zM84 109h3v21h-3zM89 107h1v25h-1zM88 115h3v15h-3zM93 104h1v16h-1zM92 115h3v2h-3zM97 111h1v8h-1zM96 115h3v4h-3zM101 108h1v9h-1zM100 113h3v3h-3zM105 110h1v23h-1zM104 112h3v21h-3zM109 111h1v27h-1zM108 128h3v6h-3zM113 115h1v14h-1zM112 122h3v7h-3zM117 116h1v10h-1zM116 118h3v4h-3zM121 114h1v8h-1zM120 114h3v7h-3zM125 113h1v9h-1zM124 114h3v7h-3zM129 114h1v12h-1zM128 117h3v4h-3zM133 117h1v15h-1zM132 117h3v4h-3zM137 118h1v17h-1zM136 121h3v9h-3zM141 107h1v26h-1zM140 115h3v14h-3zM145 106h1v20h-1zM144 111h3v10h-3zM149 119h1v6h-1zM148 119h3v2h-3zM153 104h1v19h-1zM152 109h3v12h-3zM157 96h1v21h-1zM156 106h3v4h-3zM161 77h1v40h-1zM160 92h3v15h-3zM165 78h1v18h-1zM164 85h3v7h-3zM169 83h1v7h-1zM168 85h3v2h-3zM173 70h1v19h-1zM172 71h3v17h-3zM177 69h1v11h-1zM176 71h3v4h-3zM181 73h1v22h-1zM180 73h3v18h-3zM185 73h1v21h-1zM184 83h3v8h-3zM189 83h1v10h-1zM188 83h3v7h-3zM193 81h1v11h-1zM192 83h3v5h-3zM197 77h1v9h-1zM196 81h3v3h-3zM201 75h1v14h-1zM200 81h3v5h-3zM205 78h1v10h-1zM204 83h3v3h-3zM209 80h1v31h-1zM208 84h3v20h-3zM213 102h1v17h-1zM212 103h3v2h-3zM217 104h1v15h-1zM216 106h3v7h-3zM221 100h1v12h-1zM220 100h3v12h-3zM225 87h1v26h-1zM224 92h3v9h-3zM229 67h1v29h-1zM228 80h3v14h-3zM233 73h1v22h-1zM232 79h3v2h-3zM237 76h1v15h-1zM236 80h3v3h-3zM241 81h1v7h-1zM240 82h3v6h-3zM245 80h1v8h-1zM244 82h3v6h-3zM249 81h1v15h-1zM248 82h3v8h-3zM253 88h1v16h-1zM252 89h3v9h-3zM257 93h1v21h-1zM256 96h3v15h-3zM261 82h1v31h-1zM260 87h3v24h-3zM265 79h1v11h-1zM264 79h3v10h-3zM269 76h1v7h-1zM268 78h3v3h-3zM273 66h1v24h-1zM272 78h3v12h-3zM277 84h1v21h-1zM276 87h3v13h-3zM281 87h1v14h-1zM280 97h3v3h-3zM285 94h1v10h-1zM284 97h3v3h-3zM289 98h1v7h-1zM288 99h3v1h-3zM293 97h1v6h-1zM292 99h3v2h-3zM297 99h1v27h-1zM296 101h3v15h-3zM301 105h1v31h-1zM300 116h3v6h-3zM305 74h1v59h-1zM304 89h3v34h-3zM309 77h1v24h-1zM308 89h3v7h-3zM313 88h1v16h-1zM312 89h3v7h-3zM317 89h1v9h-1zM316 95h3v1h-3zM321 94h1v29h-1zM320 95h3v27h-3zM325 118h1v11h-1zM324 118h3v5h-3zM329 102h1v19h-1zM328 113h3v6h-3zM333 106h1v11h-1zM332 113h3v3h-3zM337 110h1v5h-1zM336 110h3v3h-3zM341 110h1v8h-1zM340 110h3v5h-3zM345 110h1v17h-1zM344 115h3v11h-3zM349 110h1v19h-1zM348 113h3v13h-3zM353 103h1v29h-1zM352 112h3v3h-3zM357 108h1v7h-1zM356 110h3v3h-3zM361 106h1v7h-1zM360 108h3v3h-3zM365 106h1v5h-1zM364 107h3v2h-3zM369 91h1v17h-1zM368 99h3v9h-3zM373 98h1v15h-1zM372 99h3v9h-3zM377 99h1v13h-1zM376 100h3v8h-3zM381 100h1v6h-1zM380 101h3v2h-3zM385 98h1v6h-1zM384 99h3v4h-3zM389 98h1v4h-1zM388 101h3v1h-3zM393 96h1v14h-1zM392 97h3v5h-3zM397 94h1v57h-1zM396 97h3v48h-3zM401 141h1v32h-1zM400 144h3v25h-3zM405 165h1v9h-1zM404 167h3v3h-3zM409 161h1v9h-1zM408 165h3v3h-3zM413 160h1v7h-1zM412 161h3v6h-3zM417 154h1v15h-1zM416 158h3v3h-3zM421 148h1v18h-1zM420 156h3v3h-3zM425 155h1v22h-1zM424 155h3v15h-3zM429 163h1v11h-1zM428 168h3v1h-3zM433 172h1v12h-1zM432 173h3v5h-3zM437 173h1v7h-1zM436 173h3v6h-3zM441 159h1v22h-1zM440 160h3v14h-3zM445 150h1v13h-1zM444 157h3v5h-3zM449 152h1v25h-1zM448 157h3v19h-3zM453 167h1v9h-1zM452 173h3v3h-3zM457 169h1v8h-1zM456 169h3v5h-3zM461 166h1v6h-1zM460 167h3v3h-3zM465 162h1v18h-1zM464 168h3v10h-3zM469 175h1v11h-1zM468 178h3v1h-3zM473 159h1v20h-1zM472 166h3v13h-3zM477 165h1v13h-1zM476 166h3v11h-3zM481 172h1v6h-1zM480 175h3v3h-3zM485 174h1v8h-1zM484 175h3v6h-3zM489 175h1v26h-1zM488 179h3v16h-3zM493 189h1v12h-1zM492 193h3v2h-3zM497 193h1v30h-1zM496 193h3v26h-3zM501 215h1v7h-1zM500 216h3v3h-3zM505 213h1v6h-1zM504 215h3v4h-3zM509 216h1v10h-1zM508 218h3v7h-3zM513 222h1v15h-1zM512 225h3v8h-3zM517 201h1v36h-1zM516 232h3v3h-3zM521 226h1v27h-1zM520 234h3v7h-3zM525 233h1v10h-1zM524 236h3v5h-3zM529 234h1v8h-1zM528 235h3v1h-3zM533 234h1v6h-1zM532 236h3v3h-3zM537 236h1v26h-1zM536 238h3v24h-3zM541 251h1v49h-1zM540 260h3v30h-3zM545 287h1v23h-1zM544 289h3v17h-3zM549 302h1v10h-1zM548 305h3v5h-3zM552 314h3v1h-3zM557 305h1v14h-1zM556 311h3v3h-3zM561 309h1v5h-1zM560 310h3v2h-3zM565 287h1v24h-1zM564 290h3v21h-3zM569 284h1v26h-1zM568 290h3v15h-3zM573 301h1v12h-1zM572 303h3v2h-3zM577 302h1v6h-1zM576 304h3v3h-3zM581 305h1v13h-1zM580 306h3v9h-3zM585 314h1v20h-1zM584 315h3v14h-3zM589 318h1v36h-1zM588 328h3v19h-3zM593 330h1v29h-1zM592 340h3v7h-3zM597 338h1v32h-1zM596 339h3v22h-3zM601 358h1v24h-1zM600 359h3v17h-3zM605 361h1v15h-1zM604 365h3v11h-3zM609 365h1v17h-1zM608 366h3v7h-3zM613 369h1v42h-1zM612 370h3v38h-3zM617 396h1v28h-1zM616 406h3v2h-3zM621 405h1v39h-1zM620 407h3v29h-3zM625 426h1v12h-1zM624 429h3v8h-3zM629 426h1v9h-1zM628 428h3v7h-3zM633 433h1v18h-1zM632 434h3v3h-3zM637 390h1v47h-1zM636 408h3v29h-3zM641 374h1v39h-1zM640 402h3v7h-3zM645 389h1v24h-1zM644 402h3v3h-3zM649 392h1v17h-1zM648 398h3v7h-3zM653 396h1v9h-1zM652 397h3v8h-3zM657 400h1v10h-1zM656 404h3v5h-3zM661 393h1v30h-1zM660 404h3v5h-3zM665 402h1v34h-1zM664 404h3v29h-3zM669 432h1v30h-1zM668 432h3v21h-3zM673 448h1v16h-1zM672 448h3v6h-3zM676 453h3v1h-3zM681 434h1v23h-1zM680 437h3v17h-3zM685 434h1v14h-1zM684 437h3v2h-3zM689 426h1v23h-1zM688 433h3v5h-3zM693 403h1v36h-1zM692 408h3v27h-3zM697 399h1v24h-1zM696 409h3v4h-3zM701 410h1v13h-1zM700 411h3v11h-3zM705 416h1v12h-1zM704 421h3v4h-3zM709 418h1v9h-1zM708 424h3v1h-3zM713 401h1v27h-1zM712 406h3v20h-3zM717 391h1v20h-1zM716 393h3v14h-3zM721 387h1v28h-1zM720 393h3v18h-3zM725 406h1v8h-1zM724 409h3v2h-3zM729 402h1v11h-1zM728 404h3v6h-3zM733 403h1v14h-1zM732 404h3v13h-3zM737 399h1v17h-1zM736 404h3v12h-3zM741 393h1v20h-1zM740 403h3v2h-3zM745 379h1v27h-1zM744 382h3v22h-3zM749 244h1v157h-1zM748 314h3v68h-3zM753 279h1v41h-1zM752 309h3v6h-3zM757 309h1v36h-1zM756 309h3v31h-3zM761 329h1v67h-1zM760 338h3v34h-3zM765 353h1v39h-1zM764 371h3v14h-3zM769 372h1v29h-1zM768 383h3v11h-3zM773 383h1v20h-1zM772 384h3v10h-3zM777 369h1v17h-1zM776 370h3v15h-3zM781 370h1v9h-1zM780 370h3v2h-3zM785 369h1v17h-1zM784 373h3v6h-3zM789 322h1v58h-1zM788 329h3v50h-3zM793 294h1v53h-1zM792 308h3v22h-3zM797 305h1v26h-1zM796 308h3v13h-3zM801 300h1v2h-1zM800 300h3v1h-3zM805 299h1v32h-1zM804 301h3v24h-3zM809 314h1v21h-1zM808 322h3v3h-3zM813 310h1v31h-1zM812 322h3v1h-3zM817 270h1v54h-1zM816 278h3v44h-3zM821 265h1v30h-1zM820 275h3v4h-3zM825 259h1v19h-1zM824 269h3v7h-3zM829 260h1v22h-1zM828 269h3v7h-3zM833 274h1v12h-1zM832 275h3v1h-3zM837 246h1v40h-1zM836 258h3v18h-3zM841 235h1v49h-1zM840 259h3v14h-3zM845 269h1v23h-1zM844 271h3v9h-3zM849 275h1v9h-1zM848 279h3v1h-3zM853 273h1v15h-1zM852 275h3v5h-3zM857 272h1v8h-1zM856 275h3v3h-3zM861 257h1v28h-1zM860 265h3v13h-3zM865 241h1v29h-1zM864 259h3v7h-3zM869 250h1v18h-1zM868 259h3v1h-3zM873 256h1v10h-1zM872 259h3v1h-3z"/>
<path fill="#fff" d="M1 56h1v4h-1zM21 110h1v2h-1zM29 91h1v17h-1zM33 78h1v12h-1zM37 67h1v9h-1zM41 56h1v10h-1zM73 115h1v14h-1zM77 113h1v1h-1zM81 110h1v1h-1zM89 116h1v13h-1zM97 116h1v2h-1zM101 114h1v1h-1zM109 129h1v4h-1zM113 123h1v5h-1zM117 119h1v2h-1zM121 115h1v5h-1zM129 118h1v2h-1zM141 116h1v12h-1zM153 110h1v10h-1zM157 107h1v2h-1zM161 93h1v13h-1zM165 86h1v5h-1zM173 72h1v15h-1zM185 84h1v6h-1zM193 84h1v3h-1zM197 82h1v1h-1zM205 84h1v1h-1zM221 101h1v10h-1zM225 93h1v7h-1zM229 81h1v12h-1zM245 83h1v4h-1zM261 88h1v22h-1zM265 80h1v8h-1zM269 79h1v1h-1zM281 98h1v1h-1zM305 90h1v32h-1zM325 119h1v3h-1zM329 114h1v4h-1zM337 111h1v1h-1zM349 114h1v11h-1zM353 113h1v1h-1zM357 111h1v1h-1zM361 109h1v1h-1zM369 100h1v7h-1zM377 101h1v6h-1zM385 100h1v2h-1zM393 98h1v3h-1zM405 168h1v1h-1zM409 166h1v1h-1zM413 162h1v4h-1zM417 159h1v1h-1zM421 157h1v1h-1zM437 174h1v4h-1zM441 161h1v12h-1zM445 158h1v3h-1zM453 174h1v1h-1zM457 170h1v3h-1zM461 168h1v1h-1zM473 167h1v11h-1zM481 176h1v1h-1zM501 217h1v1h-1zM525 237h1v3h-1zM557 312h1v1h-1zM565 291h1v19h-1zM593 341h1v5h-1zM605 366h1v9h-1zM625 430h1v6h-1zM637 409h1v27h-1zM641 403h1v5h-1zM649 399h1v5h-1zM661 405h1v3h-1zM673 449h1v4h-1zM681 438h1v15h-1zM689 434h1v3h-1zM693 409h1v25h-1zM713 407h1v18h-1zM717 394h1v12h-1zM729 405h1v4h-1zM737 405h1v10h-1zM745 383h1v20h-1zM749 315h1v66h-1zM753 310h1v4h-1zM773 385h1v8h-1zM777 371h1v13h-1zM789 330h1v48h-1zM793 309h1v20h-1zM809 323h1v1h-1zM817 279h1v42h-1zM821 276h1v2h-1zM825 270h1v5h-1zM837 259h1v16h-1zM853 276h1v3h-1zM861 266h1v11h-1zM865 260h1v5h-1z"/>
<path fill="#c0c0c0" d="M875 1h9v1h-9zM876 2h7v1h-7zM877 3h5v1h-5zM878 4h3v1h-3zM879 5h1v1h-1z"/>
<path fill="#000" d="M0 0h1102v1h-1102zM0 0h1v501h-1zM0 500h1102v1h-1102zM0 502h1102v1h-1102zM0 502h1v102h-1zM0 603h1102v1h-1102zM1101 0h1v604h-1zM1102 22h2v1h-2zM1102 56h2v1h-2zM1102 90h2v1h-2zM1102 124h2v1h-2zM1102 158h2v1h-2zM1102 192h2v1h-2zM1102 226h2v1h-2zM1102 259h2v1h-2zM1102 293h2v1h-2zM1102 327h2v1h-2zM1102 361h2v1h-2zM1102 395h2v1h-2zM1102 429h2v1h-2zM1102 463h2v1h-2zM1102 497h2v1h-2zM1102 504h1v1h-1zM1102 543h1v1h-1zM1102 602h1v1h-1zM1 604h1v3h-1zM65 604h1v3h-1zM129 604h1v3h-1zM193 604h1v3h-1zM257 604h1v3h-1zM321 604h1v3h-1zM385 604h1v3h-1zM449 604h1v3h-1zM513 604h1v3h-1zM577 604h1v3h-1zM641 604h1v3h-1zM705 604h1v3h-1zM769 604h1v3h-1zM833 604h1v3h-1zM0 623h1v3h-1zM79 623h1064v1h-1064zM79 623h1v3h-1z"/>
<path fill="#e3e3e3" d="M0 621h1142v1h-1142zM1141 0h1v622h-1z"/>
<rect x="80" y="624" width="1062" height="2" fill="#e2e2e2"/>
</g>
<g>
<rect x="2" y="3" width="196" height="11" fill="#fff"/>
<path d="M4 7h7.2l-3.6 4z" fill="#000"/>
<rect x="3" y="507" width="141" height="9" fill="#fff"/>
<text class="k" x="15.10" y="12" textLength="55.05" lengthAdjust="spacingAndGlyphs">EURUSD,H4</text>
<text class="k" x="76.08" y="12" textLength="27.05" lengthAdjust="spacingAndGlyphs">1.0969</text>
<text class="k" x="106.65" y="12" textLength="27.26" lengthAdjust="spacingAndGlyphs">1.0976</text>
<text class="k" x="137.72" y="12" textLength="26.95" lengthAdjust="spacingAndGlyphs">1.0953</text>
<text class="k" x="168.72" y="12" textLength="26.95" lengthAdjust="spacingAndGlyphs">1.0970</text>
<text class="k" x="4.28" y="515" textLength="66.57" lengthAdjust="spacingAndGlyphs">MACD(12,26,9)</text>
<text class="k" x="73.70" y="515" textLength="32.49" lengthAdjust="spacingAndGlyphs">0.00593</text>
<text class="k" x="109.62" y="515" textLength="32.79" lengthAdjust="spacingAndGlyphs">0.00647</text>
<text class="k" x="1107.53" y="25" textLength="26.95" lengthAdjust="spacingAndGlyphs">1.1560</text>
<text class="k" x="1107.53" y="59" textLength="26.95" lengthAdjust="spacingAndGlyphs">1.1475</text>
<text class="k" x="1107.53" y="93" textLength="26.95" lengthAdjust="spacingAndGlyphs">1.1390</text>
<text class="k" x="1107.53" y="127" textLength="26.95" lengthAdjust="spacingAndGlyphs">1.1305</text>
<text class="k" x="1107.53" y="161" textLength="26.95" lengthAdjust="spacingAndGlyphs">1.1220</text>
<text class="k" x="1107.53" y="195" textLength="26.95" lengthAdjust="spacingAndGlyphs">1.1135</text>
<text class="k" x="1107.53" y="229" textLength="26.95" lengthAdjust="spacingAndGlyphs">1.1050</text>
<text class="k" x="1107.53" y="330" textLength="26.95" lengthAdjust="spacingAndGlyphs">1.0800</text>
<text class="k" x="1107.53" y="364" textLength="26.95" lengthAdjust="spacingAndGlyphs">1.0715</text>
<text class="k" x="1107.53" y="398" textLength="26.95" lengthAdjust="spacingAndGlyphs">1.0630</text>
<text class="k" x="1107.53" y="432" textLength="26.95" lengthAdjust="spacingAndGlyphs">1.0545</text>
<text class="k" x="1107.53" y="466" textLength="26.95" lengthAdjust="spacingAndGlyphs">1.0460</text>
<text class="k" x="1107.53" y="500" textLength="26.95" lengthAdjust="spacingAndGlyphs">1.0375</text>
<text class="k" x="1104.50" y="513" textLength="33.00" lengthAdjust="spacingAndGlyphs">0.00847</text>
<text class="k" x="1104.55" y="546" textLength="17.85" lengthAdjust="spacingAndGlyphs">0.00</text>
<text class="k" x="1104.72" y="600" textLength="35.64" lengthAdjust="spacingAndGlyphs">-0.01276</text>
<text class="k" x="-0.60" y="616" textLength="46.80" lengthAdjust="spacingAndGlyphs">4 Feb 2015</text>
<text class="k" x="64.10" y="616" textLength="49.47" lengthAdjust="spacingAndGlyphs">6 Feb 20:00</text>
<text class="k" x="128.62" y="616" textLength="53.58" lengthAdjust="spacingAndGlyphs">11 Feb 08:00</text>
<text class="k" x="192.73" y="616" textLength="53.38" lengthAdjust="spacingAndGlyphs">16 Feb 00:00</text>
<text class="k" x="256.67" y="616" textLength="53.48" lengthAdjust="spacingAndGlyphs">18 Feb 16:00</text>
<text class="k" x="320.25" y="616" textLength="54.04" lengthAdjust="spacingAndGlyphs">23 Feb 08:00</text>
<text class="k" x="383.88" y="616" textLength="54.14" lengthAdjust="spacingAndGlyphs">26 Feb 00:00</text>
<text class="k" x="448.10" y="616" textLength="48.97" lengthAdjust="spacingAndGlyphs">2 Mar 16:00</text>
<text class="k" x="512.03" y="616" textLength="48.77" lengthAdjust="spacingAndGlyphs">5 Mar 08:00</text>
<text class="k" x="575.98" y="616" textLength="49.17" lengthAdjust="spacingAndGlyphs">9 Mar 20:00</text>
<text class="k" x="640.27" y="616" textLength="53.99" lengthAdjust="spacingAndGlyphs">12 Mar 12:00</text>
<text class="k" x="704.50" y="616" textLength="53.78" lengthAdjust="spacingAndGlyphs">17 Mar 00:00</text>
<text class="k" x="768.35" y="616" textLength="53.68" lengthAdjust="spacingAndGlyphs">19 Mar 16:00</text>
<text class="k" x="831.95" y="616" textLength="53.84" lengthAdjust="spacingAndGlyphs">24 Mar 04:00</text>
<text class="o" x="1027.40" y="195" textLength="59.22" lengthAdjust="spacingAndGlyphs">1.1110</text>
<text class="o" x="1027.40" y="240" textLength="59.22" lengthAdjust="spacingAndGlyphs">1.1000</text>
<text class="o" x="1027.40" y="288" textLength="59.22" lengthAdjust="spacingAndGlyphs">1.0880</text>
<text class="o" x="1027.40" y="332" textLength="59.22" lengthAdjust="spacingAndGlyphs">1.0770</text>
<text class="o" x="1027.40" y="381.5" textLength="59.22" lengthAdjust="spacingAndGlyphs">1.0650</text>
<text class="o" x="1027.40" y="429" textLength="59.22" lengthAdjust="spacingAndGlyphs">1.0530</text>
<text class="o" x="1027.40" y="470" textLength="59.22" lengthAdjust="spacingAndGlyphs">1.0430</text>
<rect x="1104" y="196" width="34" height="11" fill="#ff0000" shape-rendering="crispEdges"/>
<rect x="1104" y="240" width="34" height="11" fill="#ff0000" shape-rendering="crispEdges"/>
<rect x="1104" y="253" width="34" height="11" fill="#000" shape-rendering="crispEdges"/>
<rect x="1104" y="289" width="34" height="11" fill="#ff0000" shape-rendering="crispEdges"/>
<rect x="1104" y="333" width="34" height="11" fill="#ff0000" shape-rendering="crispEdges"/>
<rect x="1104" y="381" width="34" height="11" fill="#ff0000" shape-rendering="crispEdges"/>
<rect x="1104" y="429" width="34" height="11" fill="#ff0000" shape-rendering="crispEdges"/>
<rect x="1104" y="469" width="34" height="11" fill="#ff0000" shape-rendering="crispEdges"/>
<rect x="1102" y="259" width="2" height="1" fill="#000"/>
<text class="w" x="1107.53" y="205" textLength="26.95" lengthAdjust="spacingAndGlyphs">1.1110</text>
<text class="w" x="1107.53" y="249" textLength="26.95" lengthAdjust="spacingAndGlyphs">1.1000</text>
<text class="w" x="1107.53" y="262" textLength="26.95" lengthAdjust="spacingAndGlyphs">1.0970</text>
<text class="w" x="1107.53" y="298" textLength="26.95" lengthAdjust="spacingAndGlyphs">1.0880</text>
<text class="w" x="1107.53" y="342" textLength="26.95" lengthAdjust="spacingAndGlyphs">1.0770</text>
<text class="w" x="1107.53" y="390" textLength="26.95" lengthAdjust="spacingAndGlyphs">1.0650</text>
<text class="w" x="1107.53" y="438" textLength="26.95" lengthAdjust="spacingAndGlyphs">1.0530</text>
<text class="w" x="1107.53" y="478" textLength="26.95" lengthAdjust="spacingAndGlyphs">1.0430</text>
</g>
</svg>
</body>
</html>
